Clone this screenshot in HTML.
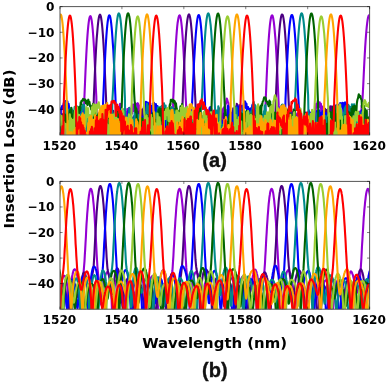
<!DOCTYPE html>
<html lang="en"><head><meta charset="utf-8"><title>Insertion loss spectra</title>
<style>html,body{margin:0;padding:0;background:#fff}svg{display:block}</style></head>
<body>
<svg width="387" height="383" viewBox="0 0 387 383">
<defs>
<clipPath id="ca"><rect x="60.0" y="6.6" width="309.6" height="128.4"/></clipPath>
<clipPath id="cb"><rect x="60.0" y="181.4" width="309.6" height="127.79999999999998"/></clipPath>
</defs>
<rect width="387" height="383" fill="#fff"/>
<g clip-path="url(#ca)" fill="none" stroke-width="2.1" stroke-linejoin="round" stroke-linecap="round">
<path stroke="#9400D3" d="M56.9 118.3 L57.3 108.4 L57.7 139.4 L58.1 118.5 L58.5 117.3 L58.9 128.2 L59.3 117.3 L59.7 119.8 L60.1 142.1 L60.5 133.9 L60.9 147.8 L61.3 128.8 L61.7 126.6 L62.1 138.7 L62.5 126.6 L62.9 117.5 L63.3 120.2 L63.7 130.7 L64.1 124.7 L64.6 135.0 L65.0 114.4 L65.4 125.9 L65.8 117.0 L66.2 117.3 L66.6 147.8 L67.0 127.9 L67.4 147.8 L67.8 135.8 L68.2 145.3 L68.6 115.9 L69.0 121.7 L69.4 122.1 L69.8 141.1 L70.2 144.6 L70.6 124.4 L71.0 129.3 L71.4 143.4 L71.8 122.7 L72.2 120.9 L72.6 132.2 L73.0 144.2 L73.4 147.8 L73.8 119.8 L74.2 123.2 L74.6 116.6 L75.0 119.0 L75.4 112.2 L75.8 140.1 L76.2 124.2 L76.6 126.9 L77.0 115.5 L77.4 131.5 L77.8 132.7 L78.2 131.9 L78.6 124.4 L79.0 134.6 L79.4 137.4 L79.8 122.6 L80.2 115.9 L80.7 135.7 L81.1 122.9 L81.5 124.4 L81.9 115.5 L82.3 117.5 L82.7 147.8 L83.1 127.1 L83.5 112.9 L83.9 118.4 L84.3 99.7 L84.7 90.2 L85.1 80.5 L85.5 71.3 L85.9 62.6 L86.3 54.6 L86.7 47.4 L87.1 40.9 L87.5 35.1 L87.9 30.1 L88.3 25.9 L88.7 22.4 L89.1 19.7 L89.5 17.8 L89.9 16.6 L90.3 16.1 L90.7 16.4 L91.1 17.5 L91.5 19.4 L91.9 22.0 L92.3 25.3 L92.7 29.4 L93.1 34.3 L93.5 39.9 L93.9 46.3 L94.3 53.4 L94.7 61.3 L95.1 69.8 L95.5 79.0 L95.9 88.6 L96.3 96.4 L96.7 114.3 L97.2 115.8 L97.6 124.7 L98.0 121.8 L98.4 116.2 L98.8 128.9 L99.2 138.2 L99.6 135.6 L100.0 147.8 L100.4 117.8 L100.8 118.4 L101.2 124.2 L101.6 116.6 L102.0 119.8 L102.4 147.8 L102.8 128.0 L103.2 119.4 L103.6 123.4 L104.0 147.8 L104.4 122.3 L104.8 135.1 L105.2 147.8 L105.6 142.4 L106.0 143.9 L106.4 147.8 L106.8 125.7 L107.2 130.8 L107.6 146.4 L108.0 129.0 L108.4 147.8 L108.8 117.1 L109.2 120.4 L109.6 117.9 L110.0 129.1 L110.4 120.9 L110.8 147.8 L111.2 130.6 L111.6 147.8 L112.0 147.8 L112.4 141.6 L112.8 144.5 L113.3 132.0 L113.7 126.9 L114.1 125.5 L114.5 121.8 L114.9 147.8 L115.3 128.6 L115.7 121.7 L116.1 136.9 L116.5 121.8 L116.9 126.6 L117.3 145.4 L117.7 113.6 L118.1 120.3 L118.5 108.6 L118.9 112.4 L119.3 111.1 L119.7 107.9 L120.1 103.7 L120.5 105.6 L120.9 117.5 L121.3 116.1 L121.7 111.8 L122.1 111.0 L122.5 138.0 L122.9 132.4 L123.3 147.8 L123.7 122.8 L124.1 147.8 L124.5 116.0 L124.9 117.8 L125.3 114.5 L125.7 115.1 L126.1 117.4 L126.5 111.9 L126.9 127.4 L127.3 109.0 L127.7 113.6 L128.1 110.5 L128.5 116.3 L128.9 108.0 L129.4 112.0 L129.8 131.3 L130.2 116.7 L130.6 109.1 L131.0 118.3 L131.4 110.7 L131.8 105.9 L132.2 113.4 L132.6 104.6 L133.0 110.7 L133.4 111.0 L133.8 106.1 L134.2 104.2 L134.6 107.8 L135.0 102.9 L135.4 103.3 L135.8 107.4 L136.2 105.4 L136.6 105.0 L137.0 120.4 L137.4 103.7 L137.8 103.2 L138.2 103.9 L138.6 108.9 L139.0 105.2 L139.4 114.1 L139.8 125.4 L140.2 114.1 L140.6 109.2 L141.0 112.7 L141.4 116.6 L141.8 119.7 L142.2 119.2 L142.6 133.5 L143.0 122.1 L143.4 113.0 L143.8 108.9 L144.2 109.2 L144.6 109.2 L145.0 116.2 L145.4 108.2 L145.9 122.4 L146.3 113.4 L146.7 115.6 L147.1 124.7 L147.5 109.7 L147.9 124.1 L148.3 114.4 L148.7 127.5 L149.1 140.4 L149.5 124.5 L149.9 121.1 L150.3 142.8 L150.7 129.2 L151.1 124.4 L151.5 128.3 L151.9 132.7 L152.3 122.6 L152.7 139.4 L153.1 147.8 L153.5 131.8 L153.9 120.9 L154.3 145.3 L154.7 121.2 L155.1 117.0 L155.5 115.5 L155.9 113.5 L156.3 117.0 L156.7 118.9 L157.1 114.0 L157.5 132.0 L157.9 126.0 L158.3 121.2 L158.7 127.4 L159.1 142.1 L159.5 124.2 L159.9 127.5 L160.3 119.3 L160.7 121.0 L161.1 147.8 L161.5 125.5 L162.0 119.8 L162.4 139.9 L162.8 109.9 L163.2 129.0 L163.6 133.6 L164.0 112.6 L164.4 128.7 L164.8 140.9 L165.2 146.1 L165.6 131.4 L166.0 118.0 L166.4 119.2 L166.8 147.8 L167.2 147.8 L167.6 147.8 L168.0 136.0 L168.4 147.8 L168.8 119.2 L169.2 142.3 L169.6 126.4 L170.0 132.3 L170.4 121.5 L170.8 147.8 L171.2 133.4 L171.6 126.3 L172.0 123.6 L172.4 110.8 L172.8 124.4 L173.2 99.6 L173.6 90.6 L174.0 81.6 L174.4 72.7 L174.8 64.1 L175.2 56.1 L175.6 48.8 L176.0 42.2 L176.4 36.3 L176.8 31.2 L177.2 26.7 L177.6 23.0 L178.1 20.0 L178.5 17.8 L178.9 16.2 L179.3 15.4 L179.7 15.3 L180.1 16.0 L180.5 17.3 L180.9 19.4 L181.3 22.3 L181.7 25.8 L182.1 30.1 L182.5 35.1 L182.9 40.8 L183.3 47.2 L183.7 54.3 L184.1 62.2 L184.5 70.6 L184.9 79.6 L185.3 88.6 L185.7 98.0 L186.1 104.9 L186.5 110.8 L186.9 134.8 L187.3 121.2 L187.7 141.5 L188.1 123.8 L188.5 125.8 L188.9 115.8 L189.3 142.3 L189.7 122.8 L190.1 116.1 L190.5 131.4 L190.9 121.4 L191.3 116.8 L191.7 136.9 L192.1 120.1 L192.5 130.0 L192.9 120.5 L193.3 144.3 L193.7 147.8 L194.1 147.8 L194.6 132.1 L195.0 147.8 L195.4 144.5 L195.8 127.4 L196.2 126.6 L196.6 124.8 L197.0 147.8 L197.4 147.8 L197.8 144.1 L198.2 114.7 L198.6 124.4 L199.0 141.9 L199.4 121.1 L199.8 112.7 L200.2 116.9 L200.6 116.8 L201.0 114.4 L201.4 117.7 L201.8 143.5 L202.2 132.1 L202.6 123.8 L203.0 144.6 L203.4 147.8 L203.8 126.2 L204.2 133.7 L204.6 124.9 L205.0 122.7 L205.4 133.1 L205.8 121.2 L206.2 134.3 L206.6 121.7 L207.0 126.8 L207.4 131.5 L207.8 120.9 L208.2 132.2 L208.6 115.2 L209.0 113.4 L209.4 108.1 L209.8 113.1 L210.2 126.2 L210.7 129.1 L211.1 110.8 L211.5 132.9 L211.9 131.2 L212.3 142.1 L212.7 147.8 L213.1 131.6 L213.5 128.9 L213.9 143.9 L214.3 133.8 L214.7 118.3 L215.1 129.4 L215.5 118.0 L215.9 128.0 L216.3 119.7 L216.7 117.7 L217.1 117.5 L217.5 112.8 L217.9 138.1 L218.3 121.6 L218.7 117.5 L219.1 119.3 L219.5 125.8 L219.9 118.2 L220.3 114.4 L220.7 121.1 L221.1 119.0 L221.5 131.3 L221.9 109.3 L222.3 116.1 L222.7 113.5 L223.1 117.2 L223.5 108.0 L223.9 108.8 L224.3 107.0 L224.7 107.3 L225.1 110.0 L225.5 102.2 L225.9 103.9 L226.3 101.2 L226.8 98.5 L227.2 99.4 L227.6 100.9 L228.0 102.6 L228.4 103.0 L228.8 109.9 L229.2 107.3 L229.6 108.7 L230.0 115.5 L230.4 122.9 L230.8 114.4 L231.2 125.2 L231.6 120.4 L232.0 118.6 L232.4 134.4 L232.8 112.9 L233.2 112.5 L233.6 126.1 L234.0 119.9 L234.4 147.8 L234.8 123.2 L235.2 138.4 L235.6 119.0 L236.0 111.8 L236.4 126.4 L236.8 114.6 L237.2 117.4 L237.6 147.8 L238.0 117.6 L238.4 117.7 L238.8 119.4 L239.2 146.9 L239.6 114.9 L240.0 125.5 L240.4 122.9 L240.8 126.7 L241.2 140.9 L241.6 131.5 L242.0 147.8 L242.4 143.6 L242.8 127.8 L243.3 127.2 L243.7 122.8 L244.1 127.7 L244.5 135.8 L244.9 147.8 L245.3 113.0 L245.7 133.9 L246.1 117.2 L246.5 146.8 L246.9 137.1 L247.3 126.6 L247.7 134.9 L248.1 147.8 L248.5 126.0 L248.9 147.8 L249.3 134.0 L249.7 147.8 L250.1 139.3 L250.5 125.6 L250.9 119.6 L251.3 130.3 L251.7 130.1 L252.1 111.4 L252.5 128.2 L252.9 115.3 L253.3 119.2 L253.7 108.6 L254.1 144.7 L254.5 114.7 L254.9 120.0 L255.3 132.5 L255.7 119.7 L256.1 116.6 L256.5 118.6 L256.9 146.3 L257.3 125.0 L257.7 125.2 L258.1 147.8 L258.5 126.1 L258.9 147.8 L259.4 132.6 L259.8 127.1 L260.2 147.8 L260.6 147.8 L261.0 147.8 L261.4 128.6 L261.8 119.1 L262.2 118.3 L262.6 121.3 L263.0 136.4 L263.4 147.8 L263.8 120.6 L264.2 119.2 L264.6 117.5 L265.0 124.2 L265.4 109.1 L265.8 97.6 L266.2 88.5 L266.6 79.2 L267.0 70.3 L267.4 62.0 L267.8 54.3 L268.2 47.3 L268.6 41.0 L269.0 35.4 L269.4 30.5 L269.8 26.2 L270.2 22.7 L270.6 19.8 L271.0 17.7 L271.4 16.2 L271.8 15.4 L272.2 15.3 L272.6 15.9 L273.0 17.3 L273.4 19.3 L273.8 21.9 L274.2 25.3 L274.6 29.4 L275.0 34.2 L275.5 39.7 L275.9 45.8 L276.3 52.7 L276.7 60.2 L277.1 68.4 L277.5 77.1 L277.9 86.3 L278.3 95.1 L278.7 105.4 L279.1 109.4 L279.5 120.0 L279.9 112.9 L280.3 110.5 L280.7 119.3 L281.1 108.9 L281.5 147.8 L281.9 128.3 L282.3 126.0 L282.7 125.0 L283.1 126.3 L283.5 147.8 L283.9 146.4 L284.3 130.6 L284.7 144.6 L285.1 124.6 L285.5 133.6 L285.9 131.8 L286.3 138.3 L286.7 129.4 L287.1 122.3 L287.5 124.9 L287.9 125.9 L288.3 136.8 L288.7 121.1 L289.1 118.0 L289.5 132.4 L289.9 133.9 L290.3 127.1 L290.7 110.8 L291.1 107.3 L291.5 114.1 L292.0 118.6 L292.4 112.1 L292.8 123.0 L293.2 147.8 L293.6 124.0 L294.0 124.4 L294.4 135.0 L294.8 133.0 L295.2 135.6 L295.6 120.7 L296.0 119.6 L296.4 116.5 L296.8 118.3 L297.2 113.3 L297.6 124.3 L298.0 117.7 L298.4 115.4 L298.8 122.2 L299.2 119.1 L299.6 115.7 L300.0 126.4 L300.4 147.8 L300.8 119.1 L301.2 147.8 L301.6 129.1 L302.0 127.9 L302.4 133.0 L302.8 147.8 L303.2 145.4 L303.6 122.7 L304.0 147.8 L304.4 147.8 L304.8 115.8 L305.2 147.8 L305.6 128.4 L306.0 121.1 L306.4 147.8 L306.8 126.9 L307.2 135.7 L307.6 118.7 L308.1 127.3 L308.5 120.7 L308.9 110.3 L309.3 113.6 L309.7 113.0 L310.1 119.6 L310.5 117.7 L310.9 118.1 L311.3 145.0 L311.7 121.5 L312.1 147.8 L312.5 147.8 L312.9 128.2 L313.3 120.1 L313.7 120.1 L314.1 113.7 L314.5 112.4 L314.9 133.9 L315.3 109.5 L315.7 111.2 L316.1 103.8 L316.5 103.7 L316.9 107.4 L317.3 105.8 L317.7 101.1 L318.1 105.1 L318.5 102.4 L318.9 106.2 L319.3 105.3 L319.7 102.2 L320.1 107.6 L320.5 105.0 L320.9 103.7 L321.3 112.3 L321.7 106.0 L322.1 106.6 L322.5 114.6 L322.9 107.2 L323.3 107.4 L323.7 112.2 L324.2 115.6 L324.6 113.7 L325.0 118.1 L325.4 115.3 L325.8 120.2 L326.2 139.9 L326.6 115.0 L327.0 114.5 L327.4 116.5 L327.8 111.0 L328.2 118.9 L328.6 128.0 L329.0 124.2 L329.4 135.5 L329.8 130.9 L330.2 125.4 L330.6 127.7 L331.0 122.9 L331.4 128.7 L331.8 120.0 L332.2 112.8 L332.6 128.0 L333.0 130.1 L333.4 129.6 L333.8 108.8 L334.2 124.8 L334.6 119.4 L335.0 112.2 L335.4 115.4 L335.8 117.3 L336.2 113.0 L336.6 122.0 L337.0 120.3 L337.4 121.8 L337.8 128.4 L338.2 117.5 L338.6 118.2 L339.0 120.8 L339.4 123.3 L339.8 147.8 L340.2 134.0 L340.7 119.1 L341.1 138.5 L341.5 138.5 L341.9 147.8 L342.3 116.0 L342.7 130.1 L343.1 120.2 L343.5 147.8 L343.9 107.9 L344.3 126.2 L344.7 110.1 L345.1 118.6 L345.5 116.0 L345.9 120.1 L346.3 116.2 L346.7 118.3 L347.1 121.0 L347.5 119.7 L347.9 145.2 L348.3 127.7 L348.7 140.8 L349.1 135.4 L349.5 126.0 L349.9 128.3 L350.3 120.2 L350.7 137.5 L351.1 129.5 L351.5 120.2 L351.9 122.5 L352.3 125.4 L352.7 128.7 L353.1 130.3 L353.5 147.8 L353.9 121.1 L354.3 136.1 L354.7 130.5 L355.1 123.3 L355.5 138.5 L355.9 142.8 L356.3 147.8 L356.8 120.0 L357.2 147.8 L357.6 122.2 L358.0 116.7 L358.4 147.8 L358.8 140.4 L359.2 119.5 L359.6 125.3 L360.0 111.5 L360.4 118.4 L360.8 122.5 L361.2 136.7 L361.6 105.8 L362.0 110.1 L362.4 100.5 L362.8 93.9 L363.2 86.1 L363.6 77.6 L364.0 69.1 L364.4 61.1 L364.8 53.7 L365.2 46.9 L365.6 40.8 L366.0 35.3 L366.4 30.5 L366.8 26.3 L367.2 22.8 L367.6 20.0 L368.0 17.8 L368.4 16.3 L368.8 15.5 L369.2 15.3 L369.6 15.8 L370.0 16.9 L370.4 18.7 L370.8 21.2 L371.2 24.3 L371.6 28.1 L372.0 32.6 L372.4 37.7"/>
<path stroke="#4B0082" d="M56.9 107.5 L57.3 117.6 L57.7 119.6 L58.1 107.4 L58.5 112.8 L58.9 108.8 L59.3 107.2 L59.7 109.8 L60.1 110.0 L60.5 111.3 L60.9 136.2 L61.3 131.0 L61.7 147.8 L62.1 114.3 L62.5 126.9 L62.9 117.9 L63.3 132.9 L63.7 116.4 L64.1 120.4 L64.6 119.1 L65.0 116.5 L65.4 115.6 L65.8 121.9 L66.2 118.9 L66.6 121.0 L67.0 113.6 L67.4 127.4 L67.8 124.2 L68.2 130.2 L68.6 116.5 L69.0 134.7 L69.4 132.0 L69.8 116.8 L70.2 132.6 L70.6 123.8 L71.0 125.4 L71.4 118.8 L71.8 112.4 L72.2 147.8 L72.6 134.9 L73.0 117.4 L73.4 119.0 L73.8 117.3 L74.2 121.5 L74.6 144.2 L75.0 147.8 L75.4 147.8 L75.8 147.8 L76.2 115.7 L76.6 118.5 L77.0 135.1 L77.4 124.4 L77.8 146.5 L78.2 144.5 L78.6 147.8 L79.0 127.1 L79.4 128.4 L79.8 133.9 L80.2 147.8 L80.7 130.1 L81.1 137.2 L81.5 135.7 L81.9 129.6 L82.3 136.9 L82.7 122.6 L83.1 126.9 L83.5 117.5 L83.9 124.2 L84.3 120.1 L84.7 131.8 L85.1 135.8 L85.5 121.1 L85.9 118.7 L86.3 125.4 L86.7 127.8 L87.1 140.9 L87.5 128.6 L87.9 129.0 L88.3 120.3 L88.7 119.0 L89.1 145.9 L89.5 124.8 L89.9 115.7 L90.3 119.3 L90.7 121.0 L91.1 118.0 L91.5 142.1 L91.9 117.1 L92.3 123.7 L92.7 122.0 L93.1 134.2 L93.5 108.1 L93.9 95.7 L94.3 86.9 L94.7 77.4 L95.1 68.2 L95.5 59.7 L95.9 51.8 L96.3 44.7 L96.7 38.4 L97.2 32.8 L97.6 28.0 L98.0 23.9 L98.4 20.5 L98.8 17.9 L99.2 16.1 L99.6 15.0 L100.0 14.7 L100.4 15.2 L100.8 16.3 L101.2 18.3 L101.6 21.0 L102.0 24.4 L102.4 28.6 L102.8 33.6 L103.2 39.3 L103.6 45.8 L104.0 53.0 L104.4 61.0 L104.8 69.7 L105.2 79.0 L105.6 88.9 L106.0 97.1 L106.4 109.6 L106.8 127.7 L107.2 122.5 L107.6 136.4 L108.0 123.1 L108.4 147.8 L108.8 131.7 L109.2 132.4 L109.6 130.7 L110.0 132.6 L110.4 125.2 L110.8 147.8 L111.2 122.0 L111.6 115.3 L112.0 111.4 L112.4 137.9 L112.8 146.9 L113.3 110.9 L113.7 119.6 L114.1 126.5 L114.5 142.9 L114.9 128.2 L115.3 126.4 L115.7 121.4 L116.1 147.8 L116.5 147.8 L116.9 120.1 L117.3 138.0 L117.7 147.8 L118.1 117.0 L118.5 119.3 L118.9 147.8 L119.3 120.5 L119.7 147.4 L120.1 147.8 L120.5 122.7 L120.9 147.8 L121.3 147.8 L121.7 147.8 L122.1 136.6 L122.5 147.8 L122.9 130.9 L123.3 136.0 L123.7 124.0 L124.1 147.8 L124.5 125.3 L124.9 126.4 L125.3 144.2 L125.7 147.8 L126.1 136.1 L126.5 121.1 L126.9 135.4 L127.3 138.1 L127.7 132.8 L128.1 128.2 L128.5 120.8 L128.9 147.8 L129.4 122.6 L129.8 134.8 L130.2 116.8 L130.6 143.9 L131.0 138.7 L131.4 147.8 L131.8 124.1 L132.2 117.6 L132.6 127.3 L133.0 123.2 L133.4 117.7 L133.8 136.3 L134.2 126.0 L134.6 121.8 L135.0 114.6 L135.4 145.2 L135.8 111.7 L136.2 117.9 L136.6 131.7 L137.0 124.2 L137.4 114.5 L137.8 111.5 L138.2 116.8 L138.6 141.3 L139.0 115.1 L139.4 116.4 L139.8 119.9 L140.2 110.7 L140.6 116.5 L141.0 117.4 L141.4 116.3 L141.8 109.9 L142.2 110.3 L142.6 109.8 L143.0 109.2 L143.4 118.5 L143.8 107.1 L144.2 105.7 L144.6 116.7 L145.0 117.2 L145.4 107.4 L145.9 117.6 L146.3 117.2 L146.7 112.7 L147.1 133.1 L147.5 113.7 L147.9 109.8 L148.3 115.5 L148.7 119.4 L149.1 141.6 L149.5 116.8 L149.9 121.3 L150.3 147.8 L150.7 116.6 L151.1 130.7 L151.5 115.7 L151.9 113.0 L152.3 114.3 L152.7 115.7 L153.1 112.5 L153.5 147.8 L153.9 116.3 L154.3 116.6 L154.7 109.2 L155.1 110.6 L155.5 126.0 L155.9 111.1 L156.3 121.7 L156.7 129.4 L157.1 121.2 L157.5 137.5 L157.9 119.8 L158.3 122.0 L158.7 118.9 L159.1 116.1 L159.5 147.0 L159.9 137.1 L160.3 136.2 L160.7 128.1 L161.1 147.8 L161.5 138.7 L162.0 147.8 L162.4 125.1 L162.8 130.6 L163.2 141.8 L163.6 147.1 L164.0 131.1 L164.4 124.6 L164.8 129.5 L165.2 125.6 L165.6 128.9 L166.0 147.8 L166.4 118.7 L166.8 124.5 L167.2 147.8 L167.6 121.4 L168.0 147.8 L168.4 135.6 L168.8 132.2 L169.2 135.7 L169.6 138.0 L170.0 126.7 L170.4 122.2 L170.8 124.9 L171.2 141.2 L171.6 125.9 L172.0 127.1 L172.4 147.8 L172.8 126.4 L173.2 127.0 L173.6 124.5 L174.0 135.9 L174.4 132.3 L174.8 145.7 L175.2 136.3 L175.6 132.5 L176.0 120.5 L176.4 147.1 L176.8 141.1 L177.2 139.8 L177.6 130.0 L178.1 135.2 L178.5 116.1 L178.9 120.8 L179.3 145.3 L179.7 123.6 L180.1 129.7 L180.5 142.3 L180.9 116.2 L181.3 131.6 L181.7 143.3 L182.1 108.7 L182.5 105.1 L182.9 93.8 L183.3 84.9 L183.7 75.8 L184.1 66.9 L184.5 58.7 L184.9 51.1 L185.3 44.2 L185.7 38.0 L186.1 32.5 L186.5 27.8 L186.9 23.7 L187.3 20.4 L187.7 17.9 L188.1 16.0 L188.5 14.9 L188.9 14.4 L189.3 14.7 L189.7 15.8 L190.1 17.5 L190.5 20.0 L190.9 23.2 L191.3 27.1 L191.7 31.7 L192.1 37.1 L192.5 43.2 L192.9 50.0 L193.3 57.5 L193.7 65.7 L194.1 74.5 L194.6 83.7 L195.0 93.1 L195.4 100.9 L195.8 113.2 L196.2 131.1 L196.6 117.6 L197.0 140.3 L197.4 147.8 L197.8 143.4 L198.2 147.8 L198.6 125.1 L199.0 124.5 L199.4 142.9 L199.8 118.5 L200.2 114.5 L200.6 123.3 L201.0 114.3 L201.4 121.5 L201.8 127.4 L202.2 120.2 L202.6 139.5 L203.0 130.1 L203.4 125.8 L203.8 125.4 L204.2 123.9 L204.6 124.7 L205.0 145.1 L205.4 136.8 L205.8 135.9 L206.2 117.4 L206.6 147.8 L207.0 125.9 L207.4 147.8 L207.8 127.6 L208.2 121.7 L208.6 129.5 L209.0 131.4 L209.4 145.1 L209.8 122.0 L210.2 126.4 L210.7 133.8 L211.1 126.4 L211.5 125.4 L211.9 142.7 L212.3 138.6 L212.7 124.4 L213.1 122.1 L213.5 121.8 L213.9 147.8 L214.3 134.1 L214.7 130.7 L215.1 129.5 L215.5 132.0 L215.9 139.3 L216.3 123.6 L216.7 147.8 L217.1 137.1 L217.5 136.1 L217.9 128.2 L218.3 122.0 L218.7 112.7 L219.1 129.8 L219.5 108.4 L219.9 127.5 L220.3 121.5 L220.7 111.1 L221.1 115.8 L221.5 147.1 L221.9 134.6 L222.3 120.9 L222.7 146.7 L223.1 128.8 L223.5 133.7 L223.9 113.6 L224.3 137.9 L224.7 114.6 L225.1 117.1 L225.5 127.2 L225.9 119.0 L226.3 124.1 L226.8 129.6 L227.2 139.6 L227.6 117.3 L228.0 128.0 L228.4 117.0 L228.8 124.7 L229.2 115.5 L229.6 115.5 L230.0 114.0 L230.4 111.1 L230.8 113.7 L231.2 114.1 L231.6 113.0 L232.0 119.3 L232.4 114.5 L232.8 115.7 L233.2 108.4 L233.6 126.0 L234.0 135.3 L234.4 114.1 L234.8 120.3 L235.2 106.6 L235.6 107.1 L236.0 113.3 L236.4 119.5 L236.8 103.8 L237.2 106.1 L237.6 104.9 L238.0 136.2 L238.4 112.5 L238.8 108.9 L239.2 122.4 L239.6 126.4 L240.0 110.6 L240.4 129.5 L240.8 113.4 L241.2 121.8 L241.6 120.8 L242.0 121.8 L242.4 119.9 L242.8 110.6 L243.3 110.0 L243.7 147.8 L244.1 115.0 L244.5 126.1 L244.9 120.6 L245.3 118.4 L245.7 139.3 L246.1 127.6 L246.5 114.8 L246.9 110.6 L247.3 112.6 L247.7 118.5 L248.1 112.2 L248.5 110.7 L248.9 113.5 L249.3 117.0 L249.7 138.0 L250.1 133.6 L250.5 123.1 L250.9 126.7 L251.3 136.9 L251.7 146.2 L252.1 147.8 L252.5 129.5 L252.9 133.3 L253.3 135.2 L253.7 144.4 L254.1 140.8 L254.5 124.6 L254.9 146.6 L255.3 121.8 L255.7 134.6 L256.1 129.6 L256.5 147.8 L256.9 131.3 L257.3 131.7 L257.7 136.9 L258.1 140.0 L258.5 131.0 L258.9 138.8 L259.4 147.8 L259.8 132.8 L260.2 138.9 L260.6 147.8 L261.0 147.8 L261.4 131.1 L261.8 131.8 L262.2 147.8 L262.6 122.3 L263.0 147.8 L263.4 115.6 L263.8 123.7 L264.2 126.7 L264.6 130.8 L265.0 114.6 L265.4 135.3 L265.8 126.0 L266.2 124.6 L266.6 125.5 L267.0 121.2 L267.4 119.2 L267.8 145.2 L268.2 147.8 L268.6 141.2 L269.0 122.2 L269.4 147.8 L269.8 135.4 L270.2 147.8 L270.6 147.8 L271.0 114.7 L271.4 115.8 L271.8 140.0 L272.2 135.9 L272.6 130.5 L273.0 147.8 L273.4 147.8 L273.8 123.8 L274.2 141.9 L274.6 139.0 L275.0 119.1 L275.5 112.9 L275.9 97.1 L276.3 87.6 L276.7 78.2 L277.1 69.3 L277.5 61.0 L277.9 53.3 L278.3 46.3 L278.7 40.1 L279.1 34.5 L279.5 29.5 L279.9 25.3 L280.3 21.8 L280.7 18.9 L281.1 16.8 L281.5 15.3 L281.9 14.6 L282.3 14.5 L282.7 15.1 L283.1 16.4 L283.5 18.4 L283.9 21.1 L284.3 24.4 L284.7 28.5 L285.1 33.3 L285.5 38.7 L285.9 44.8 L286.3 51.6 L286.7 59.1 L287.1 67.3 L287.5 75.9 L287.9 85.0 L288.3 93.7 L288.7 102.9 L289.1 109.9 L289.5 108.4 L289.9 109.9 L290.3 147.8 L290.7 112.1 L291.1 135.6 L291.5 147.8 L292.0 147.8 L292.4 128.4 L292.8 132.5 L293.2 142.5 L293.6 142.2 L294.0 132.1 L294.4 128.1 L294.8 147.8 L295.2 147.8 L295.6 131.3 L296.0 129.8 L296.4 138.9 L296.8 147.8 L297.2 134.1 L297.6 147.8 L298.0 128.8 L298.4 144.3 L298.8 123.9 L299.2 132.5 L299.6 119.9 L300.0 123.6 L300.4 119.3 L300.8 117.9 L301.2 127.0 L301.6 125.4 L302.0 147.8 L302.4 122.0 L302.8 133.7 L303.2 147.8 L303.6 129.1 L304.0 147.8 L304.4 147.8 L304.8 143.6 L305.2 147.8 L305.6 147.3 L306.0 137.2 L306.4 117.1 L306.8 119.1 L307.2 129.7 L307.6 128.2 L308.1 131.8 L308.5 114.8 L308.9 121.7 L309.3 123.3 L309.7 121.3 L310.1 128.4 L310.5 147.8 L310.9 121.4 L311.3 127.8 L311.7 114.2 L312.1 117.6 L312.5 146.4 L312.9 114.8 L313.3 127.6 L313.7 129.2 L314.1 131.6 L314.5 142.8 L314.9 119.3 L315.3 122.1 L315.7 138.5 L316.1 120.0 L316.5 120.9 L316.9 136.4 L317.3 131.3 L317.7 117.3 L318.1 116.0 L318.5 128.1 L318.9 120.1 L319.3 133.2 L319.7 122.3 L320.1 129.9 L320.5 120.9 L320.9 125.4 L321.3 147.8 L321.7 147.8 L322.1 134.7 L322.5 138.9 L322.9 128.9 L323.3 128.8 L323.7 119.6 L324.2 120.2 L324.6 112.0 L325.0 108.7 L325.4 121.0 L325.8 116.6 L326.2 116.6 L326.6 110.0 L327.0 112.8 L327.4 114.8 L327.8 109.1 L328.2 119.6 L328.6 124.3 L329.0 108.4 L329.4 110.3 L329.8 109.4 L330.2 106.4 L330.6 108.5 L331.0 106.6 L331.4 114.6 L331.8 106.5 L332.2 106.6 L332.6 116.0 L333.0 111.9 L333.4 128.2 L333.8 121.4 L334.2 121.2 L334.6 130.2 L335.0 110.8 L335.4 121.2 L335.8 130.4 L336.2 147.8 L336.6 108.7 L337.0 108.9 L337.4 113.5 L337.8 117.2 L338.2 119.7 L338.6 137.5 L339.0 120.5 L339.4 122.1 L339.8 131.7 L340.2 123.3 L340.7 126.5 L341.1 123.6 L341.5 119.8 L341.9 120.3 L342.3 130.9 L342.7 147.8 L343.1 146.9 L343.5 119.4 L343.9 124.3 L344.3 137.6 L344.7 143.4 L345.1 131.9 L345.5 123.5 L345.9 121.4 L346.3 122.4 L346.7 136.9 L347.1 140.2 L347.5 129.9 L347.9 147.8 L348.3 123.7 L348.7 128.6 L349.1 133.9 L349.5 147.8 L349.9 143.7 L350.3 147.8 L350.7 130.7 L351.1 126.2 L351.5 124.2 L351.9 121.1 L352.3 112.8 L352.7 147.8 L353.1 113.0 L353.5 145.7 L353.9 112.5 L354.3 111.3 L354.7 118.3 L355.1 116.5 L355.5 125.6 L355.9 117.5 L356.3 129.8 L356.8 147.8 L357.2 134.4 L357.6 146.5 L358.0 147.8 L358.4 127.8 L358.8 136.8 L359.2 126.0 L359.6 133.8 L360.0 142.0 L360.4 121.2 L360.8 133.7 L361.2 144.3 L361.6 147.8 L362.0 126.6 L362.4 147.8 L362.8 129.2 L363.2 127.2 L363.6 133.5 L364.0 139.7 L364.4 121.5 L364.8 124.7 L365.2 120.6 L365.6 142.5 L366.0 125.4 L366.4 141.9 L366.8 131.1 L367.2 130.0 L367.6 147.8 L368.0 126.6 L368.4 147.8 L368.8 126.8 L369.2 128.3 L369.6 147.8 L370.0 139.1 L370.4 119.6 L370.8 147.8 L371.2 119.2 L371.6 136.0 L372.0 110.5 L372.4 103.8"/>
<path stroke="#0000FF" d="M56.9 117.3 L57.3 105.0 L57.7 106.3 L58.1 114.4 L58.5 105.1 L58.9 116.4 L59.3 110.6 L59.7 112.5 L60.1 125.6 L60.5 115.9 L60.9 108.4 L61.3 109.8 L61.7 108.4 L62.1 106.0 L62.5 108.9 L62.9 105.5 L63.3 107.2 L63.7 103.1 L64.1 102.6 L64.6 105.8 L65.0 101.4 L65.4 102.6 L65.8 101.1 L66.2 101.9 L66.6 101.6 L67.0 101.6 L67.4 101.3 L67.8 106.9 L68.2 107.7 L68.6 103.7 L69.0 106.5 L69.4 112.3 L69.8 119.7 L70.2 130.8 L70.6 111.7 L71.0 118.6 L71.4 121.7 L71.8 134.7 L72.2 114.6 L72.6 121.6 L73.0 124.2 L73.4 141.1 L73.8 110.8 L74.2 114.2 L74.6 125.4 L75.0 113.3 L75.4 116.0 L75.8 109.5 L76.2 110.8 L76.6 108.9 L77.0 132.8 L77.4 112.1 L77.8 116.6 L78.2 117.3 L78.6 115.6 L79.0 111.4 L79.4 116.6 L79.8 114.7 L80.2 109.4 L80.7 109.7 L81.1 111.3 L81.5 109.4 L81.9 115.7 L82.3 107.3 L82.7 128.4 L83.1 114.2 L83.5 127.0 L83.9 119.2 L84.3 115.5 L84.7 147.8 L85.1 139.6 L85.5 141.1 L85.9 147.8 L86.3 125.6 L86.7 119.6 L87.1 122.1 L87.5 144.2 L87.9 144.4 L88.3 123.1 L88.7 139.7 L89.1 147.7 L89.5 124.1 L89.9 147.8 L90.3 147.8 L90.7 147.8 L91.1 121.9 L91.5 123.7 L91.9 118.6 L92.3 110.8 L92.7 115.2 L93.1 109.7 L93.5 119.5 L93.9 116.6 L94.3 126.1 L94.7 117.9 L95.1 124.8 L95.5 143.5 L95.9 125.2 L96.3 147.8 L96.7 127.4 L97.2 135.1 L97.6 116.9 L98.0 115.1 L98.4 141.1 L98.8 146.8 L99.2 147.8 L99.6 126.1 L100.0 141.1 L100.4 147.8 L100.8 120.7 L101.2 114.2 L101.6 120.1 L102.0 113.5 L102.4 132.0 L102.8 111.0 L103.2 99.6 L103.6 90.8 L104.0 81.6 L104.4 72.5 L104.8 63.8 L105.2 55.7 L105.6 48.3 L106.0 41.7 L106.4 35.8 L106.8 30.6 L107.2 26.2 L107.6 22.5 L108.0 19.6 L108.4 17.4 L108.8 16.0 L109.2 15.3 L109.6 15.4 L110.0 16.3 L110.4 17.8 L110.8 20.2 L111.2 23.3 L111.6 27.1 L112.0 31.7 L112.4 37.1 L112.8 43.1 L113.3 50.0 L113.7 57.6 L114.1 65.9 L114.5 74.9 L114.9 84.5 L115.3 94.0 L115.7 104.4 L116.1 123.3 L116.5 115.6 L116.9 118.8 L117.3 147.8 L117.7 122.6 L118.1 114.2 L118.5 117.5 L118.9 121.7 L119.3 127.6 L119.7 138.1 L120.1 147.8 L120.5 108.2 L120.9 108.2 L121.3 119.1 L121.7 116.4 L122.1 110.0 L122.5 112.8 L122.9 109.4 L123.3 128.6 L123.7 122.1 L124.1 117.1 L124.5 128.3 L124.9 117.3 L125.3 139.6 L125.7 130.9 L126.1 134.8 L126.5 120.4 L126.9 147.8 L127.3 134.5 L127.7 116.1 L128.1 118.3 L128.5 110.6 L128.9 116.9 L129.4 147.8 L129.8 116.0 L130.2 147.5 L130.6 114.7 L131.0 119.6 L131.4 127.4 L131.8 127.8 L132.2 128.4 L132.6 147.8 L133.0 120.3 L133.4 147.8 L133.8 122.7 L134.2 116.1 L134.6 124.5 L135.0 120.1 L135.4 122.3 L135.8 117.1 L136.2 114.4 L136.6 118.1 L137.0 121.2 L137.4 114.4 L137.8 145.1 L138.2 119.8 L138.6 147.8 L139.0 114.4 L139.4 129.2 L139.8 115.1 L140.2 116.2 L140.6 131.8 L141.0 146.3 L141.4 133.3 L141.8 121.1 L142.2 118.0 L142.6 116.8 L143.0 124.3 L143.4 117.4 L143.8 138.6 L144.2 118.8 L144.6 107.8 L145.0 106.2 L145.4 105.9 L145.9 101.8 L146.3 102.7 L146.7 103.1 L147.1 102.5 L147.5 103.5 L147.9 102.7 L148.3 110.3 L148.7 107.9 L149.1 109.2 L149.5 112.9 L149.9 113.1 L150.3 133.6 L150.7 107.4 L151.1 112.0 L151.5 121.0 L151.9 105.7 L152.3 111.4 L152.7 103.6 L153.1 111.5 L153.5 105.2 L153.9 102.7 L154.3 104.5 L154.7 117.2 L155.1 105.4 L155.5 121.2 L155.9 104.0 L156.3 109.4 L156.7 108.2 L157.1 114.6 L157.5 106.1 L157.9 109.0 L158.3 109.9 L158.7 112.4 L159.1 114.2 L159.5 113.1 L159.9 119.9 L160.3 111.7 L160.7 120.2 L161.1 109.3 L161.5 129.5 L162.0 117.0 L162.4 114.1 L162.8 107.5 L163.2 126.8 L163.6 107.3 L164.0 110.7 L164.4 106.6 L164.8 108.8 L165.2 115.3 L165.6 125.0 L166.0 118.3 L166.4 121.3 L166.8 147.8 L167.2 117.9 L167.6 116.8 L168.0 120.8 L168.4 119.9 L168.8 134.7 L169.2 113.1 L169.6 112.8 L170.0 122.7 L170.4 120.6 L170.8 147.8 L171.2 115.7 L171.6 120.7 L172.0 117.4 L172.4 128.5 L172.8 112.8 L173.2 124.7 L173.6 129.0 L174.0 109.2 L174.4 109.0 L174.8 113.8 L175.2 121.2 L175.6 114.9 L176.0 115.0 L176.4 147.8 L176.8 133.4 L177.2 147.8 L177.6 132.7 L178.1 146.1 L178.5 147.8 L178.9 137.1 L179.3 147.8 L179.7 134.4 L180.1 132.8 L180.5 147.8 L180.9 136.5 L181.3 117.6 L181.7 119.6 L182.1 142.2 L182.5 117.9 L182.9 118.7 L183.3 124.7 L183.7 123.2 L184.1 120.7 L184.5 125.0 L184.9 117.4 L185.3 147.8 L185.7 113.6 L186.1 119.8 L186.5 115.9 L186.9 122.2 L187.3 140.3 L187.7 114.8 L188.1 120.5 L188.5 114.6 L188.9 112.4 L189.3 146.2 L189.7 147.8 L190.1 124.9 L190.5 112.2 L190.9 111.1 L191.3 111.5 L191.7 109.0 L192.1 103.3 L192.5 94.1 L192.9 87.0 L193.3 78.1 L193.7 69.2 L194.1 60.9 L194.6 53.2 L195.0 46.1 L195.4 39.8 L195.8 34.2 L196.2 29.3 L196.6 25.1 L197.0 21.7 L197.4 18.9 L197.8 16.9 L198.2 15.6 L198.6 15.0 L199.0 15.2 L199.4 16.0 L199.8 17.6 L200.2 19.9 L200.6 22.9 L201.0 26.6 L201.4 31.1 L201.8 36.3 L202.2 42.1 L202.6 48.7 L203.0 56.0 L203.4 64.0 L203.8 72.7 L204.2 81.9 L204.6 91.4 L205.0 102.4 L205.4 124.2 L205.8 115.0 L206.2 147.8 L206.6 121.1 L207.0 121.7 L207.4 126.0 L207.8 145.1 L208.2 117.1 L208.6 125.8 L209.0 118.6 L209.4 119.6 L209.8 109.9 L210.2 107.1 L210.7 124.1 L211.1 108.1 L211.5 111.0 L211.9 120.5 L212.3 113.5 L212.7 121.7 L213.1 128.1 L213.5 120.7 L213.9 135.8 L214.3 118.6 L214.7 115.2 L215.1 116.1 L215.5 117.8 L215.9 119.9 L216.3 118.0 L216.7 120.1 L217.1 118.9 L217.5 127.0 L217.9 116.6 L218.3 117.1 L218.7 147.8 L219.1 124.5 L219.5 147.8 L219.9 122.8 L220.3 147.8 L220.7 147.8 L221.1 140.4 L221.5 144.4 L221.9 147.8 L222.3 121.4 L222.7 123.5 L223.1 122.4 L223.5 123.2 L223.9 146.0 L224.3 147.8 L224.7 121.4 L225.1 120.4 L225.5 126.1 L225.9 132.4 L226.3 117.7 L226.8 115.3 L227.2 115.1 L227.6 110.7 L228.0 105.8 L228.4 106.5 L228.8 128.6 L229.2 109.6 L229.6 147.8 L230.0 118.5 L230.4 124.7 L230.8 127.1 L231.2 127.2 L231.6 120.3 L232.0 121.8 L232.4 115.3 L232.8 114.7 L233.2 121.5 L233.6 110.1 L234.0 127.2 L234.4 113.8 L234.8 112.9 L235.2 112.1 L235.6 117.5 L236.0 108.4 L236.4 136.0 L236.8 107.7 L237.2 106.2 L237.6 106.4 L238.0 139.0 L238.4 108.2 L238.8 106.5 L239.2 115.1 L239.6 105.2 L240.0 107.5 L240.4 107.1 L240.8 114.6 L241.2 110.7 L241.6 105.9 L242.0 116.0 L242.4 112.1 L242.8 108.3 L243.3 107.8 L243.7 103.8 L244.1 107.5 L244.5 104.7 L244.9 101.4 L245.3 102.2 L245.7 102.8 L246.1 108.3 L246.5 103.7 L246.9 109.3 L247.3 110.6 L247.7 112.5 L248.1 107.1 L248.5 110.9 L248.9 115.3 L249.3 108.9 L249.7 110.6 L250.1 120.2 L250.5 115.2 L250.9 108.4 L251.3 115.6 L251.7 120.0 L252.1 106.2 L252.5 104.5 L252.9 105.1 L253.3 107.6 L253.7 106.4 L254.1 106.7 L254.5 117.5 L254.9 110.4 L255.3 121.5 L255.7 118.5 L256.1 110.9 L256.5 113.5 L256.9 112.7 L257.3 109.5 L257.7 147.8 L258.1 113.4 L258.5 147.8 L258.9 146.1 L259.4 147.8 L259.8 122.4 L260.2 126.2 L260.6 118.6 L261.0 125.3 L261.4 130.3 L261.8 122.4 L262.2 117.1 L262.6 115.7 L263.0 120.6 L263.4 123.2 L263.8 114.0 L264.2 126.3 L264.6 131.0 L265.0 128.3 L265.4 120.5 L265.8 125.8 L266.2 121.7 L266.6 134.6 L267.0 147.8 L267.4 119.5 L267.8 137.5 L268.2 118.5 L268.6 117.0 L269.0 147.8 L269.4 145.2 L269.8 116.3 L270.2 117.2 L270.6 115.7 L271.0 127.4 L271.4 125.7 L271.8 119.8 L272.2 114.2 L272.6 123.6 L273.0 126.4 L273.4 147.8 L273.8 141.1 L274.2 132.5 L274.6 130.6 L275.0 128.5 L275.5 135.8 L275.9 139.5 L276.3 136.5 L276.7 121.1 L277.1 123.8 L277.5 123.1 L277.9 120.5 L278.3 120.1 L278.7 120.2 L279.1 115.8 L279.5 114.7 L279.9 114.4 L280.3 110.2 L280.7 109.6 L281.1 106.4 L281.5 112.2 L281.9 108.0 L282.3 120.6 L282.7 112.4 L283.1 125.0 L283.5 142.0 L283.9 147.8 L284.3 122.4 L284.7 114.2 L285.1 119.7 L285.5 99.4 L285.9 90.0 L286.3 80.6 L286.7 71.6 L287.1 63.2 L287.5 55.4 L287.9 48.3 L288.3 41.9 L288.7 36.1 L289.1 31.1 L289.5 26.7 L289.9 23.1 L290.3 20.1 L290.7 17.8 L291.1 16.2 L291.5 15.2 L292.0 15.0 L292.4 15.5 L292.8 16.6 L293.2 18.4 L293.6 20.9 L294.0 24.1 L294.4 28.0 L294.8 32.6 L295.2 37.8 L295.6 43.8 L296.0 50.4 L296.4 57.7 L296.8 65.6 L297.2 74.1 L297.6 82.9 L298.0 91.4 L298.4 98.8 L298.8 106.1 L299.2 109.0 L299.6 108.5 L300.0 113.5 L300.4 112.7 L300.8 124.1 L301.2 114.9 L301.6 121.5 L302.0 120.6 L302.4 147.8 L302.8 132.1 L303.2 121.8 L303.6 117.5 L304.0 122.5 L304.4 127.8 L304.8 135.2 L305.2 112.6 L305.6 137.1 L306.0 142.0 L306.4 124.7 L306.8 126.8 L307.2 147.8 L307.6 112.5 L308.1 112.6 L308.5 139.5 L308.9 145.4 L309.3 111.8 L309.7 112.4 L310.1 113.3 L310.5 119.1 L310.9 123.3 L311.3 136.4 L311.7 136.9 L312.1 123.6 L312.5 146.6 L312.9 135.7 L313.3 146.3 L313.7 126.0 L314.1 130.3 L314.5 132.0 L314.9 117.7 L315.3 121.3 L315.7 120.4 L316.1 118.8 L316.5 112.5 L316.9 111.1 L317.3 124.2 L317.7 147.8 L318.1 147.8 L318.5 118.7 L318.9 111.0 L319.3 110.4 L319.7 116.5 L320.1 112.9 L320.5 112.9 L320.9 122.1 L321.3 134.9 L321.7 114.2 L322.1 122.2 L322.5 111.4 L322.9 112.8 L323.3 110.7 L323.7 128.2 L324.2 122.3 L324.6 112.8 L325.0 118.9 L325.4 113.2 L325.8 113.1 L326.2 113.4 L326.6 126.2 L327.0 114.3 L327.4 121.9 L327.8 120.6 L328.2 116.5 L328.6 147.8 L329.0 118.3 L329.4 126.7 L329.8 130.2 L330.2 121.1 L330.6 120.4 L331.0 139.5 L331.4 138.2 L331.8 116.8 L332.2 122.9 L332.6 116.1 L333.0 114.9 L333.4 111.1 L333.8 125.2 L334.2 106.8 L334.6 105.0 L335.0 107.8 L335.4 109.6 L335.8 124.0 L336.2 112.5 L336.6 106.6 L337.0 104.8 L337.4 106.7 L337.8 107.2 L338.2 107.7 L338.6 105.8 L339.0 104.6 L339.4 108.5 L339.8 121.4 L340.2 103.1 L340.7 105.2 L341.1 106.6 L341.5 103.8 L341.9 106.1 L342.3 102.7 L342.7 108.8 L343.1 105.1 L343.5 119.1 L343.9 103.0 L344.3 106.1 L344.7 105.7 L345.1 102.4 L345.5 103.1 L345.9 103.3 L346.3 104.6 L346.7 109.1 L347.1 115.0 L347.5 113.9 L347.9 115.7 L348.3 110.2 L348.7 116.6 L349.1 128.0 L349.5 144.1 L349.9 116.0 L350.3 116.5 L350.7 126.6 L351.1 116.6 L351.5 111.4 L351.9 114.7 L352.3 147.8 L352.7 114.4 L353.1 119.0 L353.5 147.8 L353.9 132.5 L354.3 141.7 L354.7 147.8 L355.1 121.1 L355.5 137.2 L355.9 123.1 L356.3 121.0 L356.8 119.5 L357.2 132.9 L357.6 119.1 L358.0 139.6 L358.4 121.6 L358.8 117.0 L359.2 139.4 L359.6 129.4 L360.0 115.6 L360.4 117.1 L360.8 119.5 L361.2 114.9 L361.6 110.2 L362.0 112.1 L362.4 117.3 L362.8 130.3 L363.2 109.4 L363.6 110.6 L364.0 111.3 L364.4 109.9 L364.8 133.2 L365.2 114.6 L365.6 137.8 L366.0 147.8 L366.4 125.6 L366.8 125.9 L367.2 132.4 L367.6 123.0 L368.0 125.4 L368.4 124.4 L368.8 137.5 L369.2 121.2 L369.6 121.8 L370.0 109.7 L370.4 110.8 L370.8 111.4 L371.2 113.7 L371.6 133.9 L372.0 130.8 L372.4 117.5"/>
<path stroke="#008B8B" d="M56.9 136.2 L57.3 114.7 L57.7 113.4 L58.1 145.7 L58.5 122.5 L58.9 121.6 L59.3 117.2 L59.7 116.0 L60.1 147.8 L60.5 118.4 L60.9 145.1 L61.3 130.0 L61.7 128.6 L62.1 125.2 L62.5 130.9 L62.9 147.0 L63.3 122.6 L63.7 120.8 L64.1 110.0 L64.6 107.0 L65.0 109.4 L65.4 113.9 L65.8 103.0 L66.2 107.0 L66.6 105.1 L67.0 112.3 L67.4 109.6 L67.8 109.6 L68.2 116.1 L68.6 111.9 L69.0 127.2 L69.4 110.8 L69.8 136.9 L70.2 120.3 L70.6 108.4 L71.0 112.9 L71.4 114.7 L71.8 109.3 L72.2 112.0 L72.6 114.1 L73.0 134.7 L73.4 113.8 L73.8 128.0 L74.2 111.9 L74.6 107.0 L75.0 109.3 L75.4 109.4 L75.8 131.4 L76.2 110.0 L76.6 109.9 L77.0 109.7 L77.4 106.6 L77.8 109.0 L78.2 109.2 L78.6 117.0 L79.0 137.2 L79.4 121.1 L79.8 114.1 L80.2 135.0 L80.7 123.4 L81.1 146.9 L81.5 114.1 L81.9 113.7 L82.3 106.5 L82.7 106.9 L83.1 104.5 L83.5 106.1 L83.9 105.0 L84.3 107.8 L84.7 108.7 L85.1 120.5 L85.5 116.1 L85.9 120.5 L86.3 117.6 L86.7 128.1 L87.1 139.8 L87.5 123.9 L87.9 115.1 L88.3 129.5 L88.7 126.2 L89.1 115.8 L89.5 139.5 L89.9 142.7 L90.3 116.8 L90.7 147.8 L91.1 118.1 L91.5 127.4 L91.9 127.3 L92.3 132.5 L92.7 110.6 L93.1 111.9 L93.5 116.8 L93.9 112.8 L94.3 111.5 L94.7 111.0 L95.1 113.0 L95.5 114.8 L95.9 115.0 L96.3 142.3 L96.7 138.0 L97.2 143.3 L97.6 147.8 L98.0 127.0 L98.4 126.6 L98.8 138.3 L99.2 129.7 L99.6 138.2 L100.0 118.1 L100.4 120.4 L100.8 117.0 L101.2 115.0 L101.6 129.4 L102.0 118.7 L102.4 131.2 L102.8 147.8 L103.2 147.8 L103.6 129.0 L104.0 139.7 L104.4 140.5 L104.8 117.2 L105.2 118.9 L105.6 116.5 L106.0 146.7 L106.4 114.4 L106.8 111.3 L107.2 122.3 L107.6 136.7 L108.0 147.8 L108.4 147.8 L108.8 143.2 L109.2 131.3 L109.6 125.1 L110.0 119.1 L110.4 111.5 L110.8 108.2 L111.2 106.7 L111.6 115.4 L112.0 118.7 L112.4 99.9 L112.8 93.2 L113.3 84.2 L113.7 74.7 L114.1 65.7 L114.5 57.2 L114.9 49.5 L115.3 42.5 L115.7 36.3 L116.1 30.8 L116.5 26.1 L116.9 22.1 L117.3 18.8 L117.7 16.3 L118.1 14.6 L118.5 13.6 L118.9 13.3 L119.3 13.8 L119.7 15.0 L120.1 17.0 L120.5 19.7 L120.9 23.2 L121.3 27.5 L121.7 32.4 L122.1 38.1 L122.5 44.6 L122.9 51.8 L123.3 59.7 L123.7 68.3 L124.1 77.6 L124.5 87.3 L124.9 97.5 L125.3 126.7 L125.7 122.4 L126.1 147.8 L126.5 135.2 L126.9 147.8 L127.3 130.0 L127.7 116.5 L128.1 147.8 L128.5 125.7 L128.9 116.9 L129.4 107.9 L129.8 140.4 L130.2 119.4 L130.6 135.9 L131.0 113.8 L131.4 145.3 L131.8 138.3 L132.2 147.8 L132.6 118.9 L133.0 139.6 L133.4 147.8 L133.8 127.9 L134.2 134.8 L134.6 114.4 L135.0 110.6 L135.4 111.8 L135.8 106.6 L136.2 112.8 L136.6 122.7 L137.0 129.3 L137.4 115.8 L137.8 123.0 L138.2 115.0 L138.6 147.8 L139.0 147.8 L139.4 130.8 L139.8 147.8 L140.2 118.7 L140.6 147.8 L141.0 125.6 L141.4 141.7 L141.8 147.8 L142.2 123.7 L142.6 142.7 L143.0 129.1 L143.4 122.6 L143.8 142.9 L144.2 145.5 L144.6 129.5 L145.0 127.2 L145.4 120.1 L145.9 112.1 L146.3 117.8 L146.7 109.6 L147.1 103.9 L147.5 107.1 L147.9 105.7 L148.3 113.9 L148.7 112.5 L149.1 122.3 L149.5 118.9 L149.9 119.0 L150.3 115.9 L150.7 123.3 L151.1 132.8 L151.5 116.8 L151.9 128.3 L152.3 132.8 L152.7 117.9 L153.1 114.2 L153.5 115.2 L153.9 118.9 L154.3 119.2 L154.7 119.2 L155.1 127.1 L155.5 112.9 L155.9 116.0 L156.3 117.9 L156.7 133.7 L157.1 112.4 L157.5 125.8 L157.9 107.2 L158.3 109.4 L158.7 123.9 L159.1 124.0 L159.5 107.3 L159.9 114.5 L160.3 117.7 L160.7 106.8 L161.1 108.6 L161.5 116.7 L162.0 105.8 L162.4 112.9 L162.8 105.2 L163.2 108.8 L163.6 105.1 L164.0 103.2 L164.4 117.1 L164.8 105.7 L165.2 106.8 L165.6 105.5 L166.0 116.7 L166.4 119.1 L166.8 119.5 L167.2 125.4 L167.6 116.7 L168.0 111.7 L168.4 135.2 L168.8 140.4 L169.2 135.6 L169.6 129.3 L170.0 113.6 L170.4 123.3 L170.8 113.7 L171.2 108.3 L171.6 107.2 L172.0 114.6 L172.4 113.1 L172.8 108.4 L173.2 116.0 L173.6 123.8 L174.0 121.0 L174.4 110.2 L174.8 122.7 L175.2 114.9 L175.6 115.9 L176.0 105.8 L176.4 110.2 L176.8 111.1 L177.2 116.3 L177.6 131.8 L178.1 128.1 L178.5 147.8 L178.9 147.8 L179.3 142.0 L179.7 132.8 L180.1 140.6 L180.5 147.8 L180.9 122.9 L181.3 120.3 L181.7 120.2 L182.1 147.8 L182.5 127.6 L182.9 129.6 L183.3 111.4 L183.7 125.1 L184.1 114.5 L184.5 147.8 L184.9 117.0 L185.3 147.8 L185.7 121.7 L186.1 121.8 L186.5 141.3 L186.9 119.8 L187.3 142.3 L187.7 115.7 L188.1 142.6 L188.5 122.0 L188.9 126.7 L189.3 110.9 L189.7 112.1 L190.1 115.1 L190.5 119.8 L190.9 123.1 L191.3 147.8 L191.7 134.6 L192.1 140.5 L192.5 125.8 L192.9 120.0 L193.3 147.8 L193.7 144.4 L194.1 122.3 L194.6 126.4 L195.0 147.8 L195.4 120.4 L195.8 119.7 L196.2 147.8 L196.6 123.8 L197.0 121.5 L197.4 123.1 L197.8 121.9 L198.2 140.1 L198.6 119.4 L199.0 114.6 L199.4 108.6 L199.8 130.2 L200.2 104.9 L200.6 114.2 L201.0 104.6 L201.4 106.0 L201.8 99.3 L202.2 92.9 L202.6 84.1 L203.0 74.9 L203.4 66.0 L203.8 57.8 L204.2 50.2 L204.6 43.3 L205.0 37.1 L205.4 31.6 L205.8 26.8 L206.2 22.8 L206.6 19.5 L207.0 16.9 L207.4 15.0 L207.8 13.8 L208.2 13.3 L208.6 13.6 L209.0 14.5 L209.4 16.2 L209.8 18.6 L210.2 21.7 L210.7 25.5 L211.1 30.1 L211.5 35.3 L211.9 41.3 L212.3 47.9 L212.7 55.3 L213.1 63.4 L213.5 72.1 L213.9 81.4 L214.3 91.1 L214.7 101.2 L215.1 110.5 L215.5 122.4 L215.9 119.8 L216.3 115.1 L216.7 110.5 L217.1 118.3 L217.5 131.7 L217.9 127.3 L218.3 106.4 L218.7 113.7 L219.1 133.9 L219.5 124.0 L219.9 126.7 L220.3 122.1 L220.7 123.5 L221.1 135.1 L221.5 130.1 L221.9 147.8 L222.3 124.9 L222.7 134.9 L223.1 132.1 L223.5 135.7 L223.9 128.2 L224.3 124.3 L224.7 142.1 L225.1 125.7 L225.5 120.1 L225.9 139.3 L226.3 147.8 L226.8 118.6 L227.2 121.5 L227.6 120.1 L228.0 147.8 L228.4 122.5 L228.8 127.8 L229.2 117.8 L229.6 116.5 L230.0 129.4 L230.4 127.1 L230.8 133.0 L231.2 145.0 L231.6 147.8 L232.0 141.0 L232.4 147.8 L232.8 145.9 L233.2 126.3 L233.6 147.8 L234.0 147.8 L234.4 125.6 L234.8 145.4 L235.2 117.4 L235.6 116.8 L236.0 111.1 L236.4 107.5 L236.8 112.8 L237.2 125.4 L237.6 147.2 L238.0 125.2 L238.4 136.2 L238.8 122.3 L239.2 122.7 L239.6 127.4 L240.0 115.0 L240.4 136.7 L240.8 108.2 L241.2 115.6 L241.6 115.9 L242.0 115.2 L242.4 111.8 L242.8 115.8 L243.3 129.3 L243.7 120.2 L244.1 132.9 L244.5 147.8 L244.9 147.8 L245.3 121.0 L245.7 112.2 L246.1 125.0 L246.5 112.8 L246.9 116.5 L247.3 117.9 L247.7 110.9 L248.1 136.2 L248.5 112.3 L248.9 120.4 L249.3 121.6 L249.7 115.3 L250.1 118.0 L250.5 141.1 L250.9 128.0 L251.3 111.4 L251.7 115.5 L252.1 116.5 L252.5 107.3 L252.9 105.7 L253.3 102.3 L253.7 101.9 L254.1 106.2 L254.5 104.4 L254.9 105.6 L255.3 105.3 L255.7 108.5 L256.1 109.1 L256.5 111.0 L256.9 120.2 L257.3 108.5 L257.7 115.8 L258.1 108.0 L258.5 120.1 L258.9 113.0 L259.4 122.6 L259.8 111.1 L260.2 111.7 L260.6 147.8 L261.0 134.2 L261.4 115.4 L261.8 122.4 L262.2 114.8 L262.6 119.0 L263.0 126.3 L263.4 116.4 L263.8 111.4 L264.2 123.1 L264.6 106.3 L265.0 106.1 L265.4 105.1 L265.8 112.2 L266.2 113.7 L266.6 129.8 L267.0 113.5 L267.4 147.8 L267.8 124.9 L268.2 146.7 L268.6 117.8 L269.0 121.3 L269.4 117.2 L269.8 122.7 L270.2 127.3 L270.6 113.5 L271.0 117.7 L271.4 111.2 L271.8 135.4 L272.2 117.4 L272.6 126.5 L273.0 122.3 L273.4 131.0 L273.8 142.0 L274.2 132.9 L274.6 147.8 L275.0 132.1 L275.5 128.8 L275.9 137.5 L276.3 147.8 L276.7 144.1 L277.1 147.8 L277.5 124.3 L277.9 132.6 L278.3 127.7 L278.7 147.8 L279.1 147.8 L279.5 123.3 L279.9 129.4 L280.3 122.7 L280.7 114.8 L281.1 109.3 L281.5 115.3 L281.9 104.8 L282.3 117.5 L282.7 104.6 L283.1 112.6 L283.5 108.5 L283.9 130.0 L284.3 147.8 L284.7 121.5 L285.1 147.8 L285.5 128.5 L285.9 126.9 L286.3 147.8 L286.7 123.1 L287.1 147.8 L287.5 122.6 L287.9 139.0 L288.3 120.9 L288.7 111.2 L289.1 113.8 L289.5 110.2 L289.9 124.5 L290.3 140.1 L290.7 116.5 L291.1 114.8 L291.5 121.4 L292.0 115.6 L292.4 131.2 L292.8 117.6 L293.2 138.2 L293.6 117.4 L294.0 129.0 L294.4 118.3 L294.8 117.8 L295.2 98.6 L295.6 90.0 L296.0 80.7 L296.4 71.6 L296.8 63.1 L297.2 55.2 L297.6 48.0 L298.0 41.5 L298.4 35.6 L298.8 30.4 L299.2 25.9 L299.6 22.1 L300.0 19.0 L300.4 16.5 L300.8 14.8 L301.2 13.7 L301.6 13.3 L302.0 13.6 L302.4 14.6 L302.8 16.2 L303.2 18.6 L303.6 21.6 L304.0 25.3 L304.4 29.7 L304.8 34.8 L305.2 40.5 L305.6 46.9 L306.0 54.0 L306.4 61.7 L306.8 69.9 L307.2 78.5 L307.6 87.0 L308.1 94.8 L308.5 114.5 L308.9 115.1 L309.3 147.8 L309.7 114.9 L310.1 147.0 L310.5 144.7 L310.9 117.5 L311.3 124.4 L311.7 140.7 L312.1 135.9 L312.5 137.2 L312.9 123.8 L313.3 135.9 L313.7 129.3 L314.1 127.5 L314.5 123.9 L314.9 126.5 L315.3 122.7 L315.7 123.6 L316.1 140.2 L316.5 125.1 L316.9 125.8 L317.3 113.0 L317.7 147.8 L318.1 111.0 L318.5 138.3 L318.9 121.5 L319.3 118.5 L319.7 131.5 L320.1 123.7 L320.5 127.5 L320.9 134.4 L321.3 128.6 L321.7 126.7 L322.1 125.6 L322.5 126.0 L322.9 118.5 L323.3 118.6 L323.7 133.0 L324.2 115.4 L324.6 117.8 L325.0 115.8 L325.4 121.4 L325.8 123.1 L326.2 116.3 L326.6 124.2 L327.0 133.5 L327.4 147.8 L327.8 118.0 L328.2 114.5 L328.6 129.4 L329.0 117.6 L329.4 114.7 L329.8 147.8 L330.2 116.4 L330.6 125.2 L331.0 144.3 L331.4 147.8 L331.8 114.9 L332.2 119.9 L332.6 120.2 L333.0 115.9 L333.4 144.1 L333.8 119.4 L334.2 110.3 L334.6 109.2 L335.0 111.4 L335.4 112.2 L335.8 106.3 L336.2 125.1 L336.6 112.2 L337.0 114.5 L337.4 115.9 L337.8 136.7 L338.2 139.8 L338.6 132.7 L339.0 127.0 L339.4 147.8 L339.8 147.8 L340.2 133.2 L340.7 123.7 L341.1 124.8 L341.5 118.6 L341.9 120.6 L342.3 114.5 L342.7 119.2 L343.1 132.3 L343.5 130.1 L343.9 112.3 L344.3 127.0 L344.7 108.2 L345.1 118.1 L345.5 107.0 L345.9 106.2 L346.3 108.5 L346.7 112.9 L347.1 105.7 L347.5 105.4 L347.9 108.6 L348.3 104.8 L348.7 106.1 L349.1 106.3 L349.5 109.7 L349.9 118.0 L350.3 107.2 L350.7 108.0 L351.1 106.8 L351.5 113.2 L351.9 104.2 L352.3 106.8 L352.7 107.9 L353.1 104.6 L353.5 108.3 L353.9 108.4 L354.3 104.4 L354.7 109.2 L355.1 124.3 L355.5 112.0 L355.9 113.4 L356.3 116.5 L356.8 147.8 L357.2 121.0 L357.6 119.3 L358.0 129.5 L358.4 122.5 L358.8 122.2 L359.2 112.8 L359.6 122.2 L360.0 130.5 L360.4 117.1 L360.8 120.7 L361.2 124.2 L361.6 122.1 L362.0 112.4 L362.4 115.9 L362.8 147.8 L363.2 131.4 L363.6 141.0 L364.0 139.3 L364.4 124.5 L364.8 146.2 L365.2 119.0 L365.6 127.9 L366.0 131.7 L366.4 141.8 L366.8 145.9 L367.2 124.5 L367.6 144.0 L368.0 147.8 L368.4 147.8 L368.8 130.5 L369.2 147.8 L369.6 117.7 L370.0 119.3 L370.4 111.1 L370.8 122.6 L371.2 109.0 L371.6 109.5 L372.0 108.5 L372.4 111.9"/>
<path stroke="#006400" d="M56.9 141.9 L57.3 127.9 L57.7 147.8 L58.1 122.4 L58.5 147.8 L58.9 121.6 L59.3 137.0 L59.7 131.3 L60.1 130.3 L60.5 129.7 L60.9 123.6 L61.3 147.8 L61.7 139.2 L62.1 147.8 L62.5 131.3 L62.9 127.6 L63.3 114.1 L63.7 143.2 L64.1 113.6 L64.6 118.6 L65.0 114.6 L65.4 116.8 L65.8 127.1 L66.2 121.1 L66.6 116.8 L67.0 128.6 L67.4 132.5 L67.8 130.4 L68.2 125.0 L68.6 119.4 L69.0 117.0 L69.4 112.4 L69.8 110.4 L70.2 120.1 L70.6 116.7 L71.0 124.5 L71.4 107.7 L71.8 132.9 L72.2 142.2 L72.6 121.1 L73.0 137.7 L73.4 114.3 L73.8 127.9 L74.2 111.1 L74.6 126.1 L75.0 116.3 L75.4 119.1 L75.8 108.7 L76.2 131.4 L76.6 110.6 L77.0 108.1 L77.4 115.7 L77.8 114.5 L78.2 107.2 L78.6 117.9 L79.0 113.7 L79.4 108.6 L79.8 106.6 L80.2 110.3 L80.7 102.2 L81.1 104.7 L81.5 100.9 L81.9 101.0 L82.3 100.2 L82.7 100.6 L83.1 98.9 L83.5 100.3 L83.9 99.9 L84.3 99.4 L84.7 100.3 L85.1 99.5 L85.5 100.3 L85.9 103.1 L86.3 100.7 L86.7 103.7 L87.1 104.0 L87.5 105.1 L87.9 100.8 L88.3 99.7 L88.7 101.5 L89.1 103.0 L89.5 101.9 L89.9 105.8 L90.3 106.5 L90.7 105.4 L91.1 109.5 L91.5 106.9 L91.9 107.4 L92.3 108.8 L92.7 110.5 L93.1 103.9 L93.5 104.4 L93.9 106.1 L94.3 123.1 L94.7 107.3 L95.1 113.9 L95.5 115.7 L95.9 118.1 L96.3 115.9 L96.7 128.1 L97.2 137.0 L97.6 133.1 L98.0 115.5 L98.4 113.5 L98.8 141.2 L99.2 122.3 L99.6 121.0 L100.0 118.5 L100.4 131.5 L100.8 115.9 L101.2 147.8 L101.6 132.8 L102.0 147.8 L102.4 127.6 L102.8 121.2 L103.2 140.1 L103.6 129.6 L104.0 147.5 L104.4 139.0 L104.8 119.5 L105.2 136.8 L105.6 114.3 L106.0 147.8 L106.4 120.2 L106.8 123.1 L107.2 147.8 L107.6 113.0 L108.0 130.1 L108.4 116.2 L108.8 127.4 L109.2 147.8 L109.6 130.3 L110.0 123.5 L110.4 136.4 L110.8 127.3 L111.2 116.8 L111.6 115.7 L112.0 147.8 L112.4 136.3 L112.8 129.4 L113.3 128.9 L113.7 147.8 L114.1 147.8 L114.5 118.2 L114.9 132.8 L115.3 140.9 L115.7 118.6 L116.1 115.5 L116.5 121.9 L116.9 116.6 L117.3 110.6 L117.7 110.9 L118.1 108.3 L118.5 115.9 L118.9 114.2 L119.3 117.6 L119.7 136.6 L120.1 147.8 L120.5 120.7 L120.9 147.8 L121.3 131.1 L121.7 106.7 L122.1 95.2 L122.5 84.8 L122.9 75.2 L123.3 66.1 L123.7 57.6 L124.1 49.9 L124.5 42.9 L124.9 36.7 L125.3 31.1 L125.7 26.4 L126.1 22.3 L126.5 19.0 L126.9 16.5 L127.3 14.7 L127.7 13.6 L128.1 13.3 L128.5 13.7 L128.9 14.9 L129.4 16.8 L129.8 19.5 L130.2 22.9 L130.6 27.0 L131.0 31.9 L131.4 37.6 L131.8 43.9 L132.2 51.1 L132.6 58.9 L133.0 67.4 L133.4 76.4 L133.8 85.6 L134.2 93.8 L134.6 100.6 L135.0 105.0 L135.4 111.2 L135.8 112.4 L136.2 108.4 L136.6 109.6 L137.0 147.8 L137.4 147.8 L137.8 119.8 L138.2 121.0 L138.6 133.5 L139.0 127.0 L139.4 147.8 L139.8 121.8 L140.2 147.8 L140.6 147.8 L141.0 124.3 L141.4 122.0 L141.8 118.2 L142.2 132.4 L142.6 130.3 L143.0 118.9 L143.4 119.3 L143.8 132.5 L144.2 146.2 L144.6 124.9 L145.0 115.5 L145.4 144.8 L145.9 120.4 L146.3 127.4 L146.7 116.4 L147.1 147.8 L147.5 115.1 L147.9 121.5 L148.3 131.9 L148.7 124.1 L149.1 126.3 L149.5 123.6 L149.9 133.8 L150.3 147.8 L150.7 127.0 L151.1 126.5 L151.5 140.1 L151.9 130.1 L152.3 123.7 L152.7 113.3 L153.1 114.8 L153.5 120.8 L153.9 114.7 L154.3 121.4 L154.7 133.9 L155.1 135.9 L155.5 119.8 L155.9 141.4 L156.3 131.2 L156.7 123.5 L157.1 126.5 L157.5 130.3 L157.9 147.8 L158.3 112.2 L158.7 109.5 L159.1 121.9 L159.5 108.2 L159.9 110.1 L160.3 108.8 L160.7 110.7 L161.1 114.3 L161.5 123.3 L162.0 109.1 L162.4 114.1 L162.8 113.7 L163.2 113.8 L163.6 126.0 L164.0 119.3 L164.4 110.5 L164.8 109.0 L165.2 118.9 L165.6 110.0 L166.0 112.3 L166.4 112.5 L166.8 109.9 L167.2 114.6 L167.6 116.7 L168.0 115.4 L168.4 139.2 L168.8 111.9 L169.2 111.6 L169.6 105.9 L170.0 104.1 L170.4 105.0 L170.8 99.8 L171.2 101.2 L171.6 99.7 L172.0 100.6 L172.4 99.7 L172.8 100.3 L173.2 102.2 L173.6 100.3 L174.0 102.2 L174.4 103.2 L174.8 101.3 L175.2 105.2 L175.6 109.9 L176.0 103.3 L176.4 107.7 L176.8 108.9 L177.2 123.9 L177.6 110.7 L178.1 113.0 L178.5 118.2 L178.9 110.9 L179.3 121.1 L179.7 130.3 L180.1 111.4 L180.5 106.2 L180.9 106.6 L181.3 110.9 L181.7 106.9 L182.1 104.0 L182.5 108.7 L182.9 108.9 L183.3 113.7 L183.7 115.7 L184.1 123.1 L184.5 117.0 L184.9 119.5 L185.3 122.7 L185.7 125.8 L186.1 118.9 L186.5 127.2 L186.9 125.9 L187.3 114.7 L187.7 110.3 L188.1 110.1 L188.5 111.6 L188.9 117.2 L189.3 147.8 L189.7 117.1 L190.1 120.2 L190.5 133.0 L190.9 125.6 L191.3 123.8 L191.7 145.4 L192.1 131.9 L192.5 122.7 L192.9 147.8 L193.3 134.2 L193.7 147.8 L194.1 143.3 L194.6 120.6 L195.0 127.0 L195.4 131.7 L195.8 147.8 L196.2 126.0 L196.6 116.4 L197.0 120.8 L197.4 118.4 L197.8 129.3 L198.2 112.3 L198.6 115.1 L199.0 110.7 L199.4 117.5 L199.8 106.3 L200.2 104.9 L200.6 119.3 L201.0 113.2 L201.4 147.8 L201.8 115.9 L202.2 147.8 L202.6 124.1 L203.0 133.5 L203.4 147.8 L203.8 119.6 L204.2 117.5 L204.6 117.9 L205.0 126.4 L205.4 147.8 L205.8 118.1 L206.2 111.5 L206.6 111.6 L207.0 114.7 L207.4 124.9 L207.8 147.8 L208.2 121.6 L208.6 147.1 L209.0 144.5 L209.4 124.0 L209.8 120.7 L210.2 126.3 L210.7 139.5 L211.1 130.1 L211.5 107.5 L211.9 96.6 L212.3 86.3 L212.7 76.9 L213.1 67.9 L213.5 59.5 L213.9 51.8 L214.3 44.8 L214.7 38.5 L215.1 32.8 L215.5 27.9 L215.9 23.8 L216.3 20.3 L216.7 17.5 L217.1 15.5 L217.5 14.1 L217.9 13.5 L218.3 13.6 L218.7 14.4 L219.1 15.9 L219.5 18.1 L219.9 21.0 L220.3 24.7 L220.7 29.0 L221.1 34.1 L221.5 39.8 L221.9 46.3 L222.3 53.5 L222.7 61.3 L223.1 69.7 L223.5 78.5 L223.9 87.1 L224.3 94.0 L224.7 103.6 L225.1 116.1 L225.5 109.8 L225.9 121.5 L226.3 132.7 L226.8 123.6 L227.2 121.9 L227.6 130.2 L228.0 131.1 L228.4 121.6 L228.8 122.1 L229.2 117.5 L229.6 115.1 L230.0 124.4 L230.4 119.2 L230.8 147.8 L231.2 139.2 L231.6 147.8 L232.0 132.3 L232.4 126.1 L232.8 147.8 L233.2 147.8 L233.6 147.8 L234.0 147.8 L234.4 147.8 L234.8 133.4 L235.2 128.4 L235.6 137.5 L236.0 118.3 L236.4 138.3 L236.8 145.6 L237.2 135.6 L237.6 134.7 L238.0 142.6 L238.4 147.8 L238.8 147.8 L239.2 130.4 L239.6 135.4 L240.0 114.7 L240.4 117.6 L240.8 113.4 L241.2 113.3 L241.6 122.8 L242.0 133.6 L242.4 114.3 L242.8 119.6 L243.3 128.9 L243.7 114.4 L244.1 119.3 L244.5 123.5 L244.9 118.0 L245.3 128.8 L245.7 147.8 L246.1 115.5 L246.5 111.0 L246.9 113.5 L247.3 115.6 L247.7 130.7 L248.1 114.0 L248.5 118.5 L248.9 122.0 L249.3 147.8 L249.7 145.2 L250.1 114.2 L250.5 114.0 L250.9 117.6 L251.3 124.8 L251.7 115.3 L252.1 127.1 L252.5 124.0 L252.9 110.2 L253.3 114.0 L253.7 121.8 L254.1 127.1 L254.5 132.6 L254.9 147.8 L255.3 116.2 L255.7 124.5 L256.1 115.5 L256.5 118.6 L256.9 130.1 L257.3 115.4 L257.7 125.7 L258.1 108.6 L258.5 122.3 L258.9 107.2 L259.4 117.5 L259.8 112.0 L260.2 108.6 L260.6 105.9 L261.0 117.6 L261.4 108.2 L261.8 104.1 L262.2 105.4 L262.6 102.0 L263.0 101.1 L263.4 100.9 L263.8 98.5 L264.2 97.4 L264.6 97.9 L265.0 98.3 L265.4 97.4 L265.8 98.5 L266.2 101.1 L266.6 101.3 L267.0 101.6 L267.4 103.3 L267.8 104.4 L268.2 102.8 L268.6 106.2 L269.0 102.5 L269.4 100.6 L269.8 102.5 L270.2 101.6 L270.6 110.4 L271.0 104.8 L271.4 106.0 L271.8 108.0 L272.2 116.7 L272.6 113.7 L273.0 115.8 L273.4 115.9 L273.8 120.0 L274.2 124.1 L274.6 124.1 L275.0 112.6 L275.5 130.7 L275.9 113.5 L276.3 129.0 L276.7 113.5 L277.1 129.4 L277.5 112.5 L277.9 128.1 L278.3 147.8 L278.7 114.7 L279.1 116.2 L279.5 115.1 L279.9 123.9 L280.3 113.8 L280.7 147.8 L281.1 119.1 L281.5 136.1 L281.9 132.2 L282.3 126.0 L282.7 119.7 L283.1 139.0 L283.5 119.6 L283.9 147.8 L284.3 143.9 L284.7 129.2 L285.1 130.7 L285.5 126.8 L285.9 126.7 L286.3 118.5 L286.7 127.2 L287.1 114.8 L287.5 121.0 L287.9 110.1 L288.3 115.2 L288.7 108.4 L289.1 121.3 L289.5 131.0 L289.9 129.6 L290.3 113.7 L290.7 139.5 L291.1 147.8 L291.5 125.6 L292.0 116.3 L292.4 126.9 L292.8 124.7 L293.2 119.9 L293.6 109.6 L294.0 117.4 L294.4 110.9 L294.8 110.8 L295.2 115.5 L295.6 147.8 L296.0 125.5 L296.4 119.9 L296.8 126.2 L297.2 127.0 L297.6 147.8 L298.0 121.5 L298.4 126.0 L298.8 126.2 L299.2 134.7 L299.6 125.6 L300.0 134.2 L300.4 134.5 L300.8 146.0 L301.2 147.8 L301.6 143.8 L302.0 147.8 L302.4 135.1 L302.8 137.3 L303.2 140.6 L303.6 129.7 L304.0 138.5 L304.4 110.6 L304.8 98.8 L305.2 90.9 L305.6 82.0 L306.0 73.2 L306.4 64.8 L306.8 56.9 L307.2 49.6 L307.6 42.9 L308.1 36.9 L308.5 31.6 L308.9 27.0 L309.3 23.0 L309.7 19.7 L310.1 17.2 L310.5 15.2 L310.9 14.0 L311.3 13.5 L311.7 13.6 L312.1 14.4 L312.5 15.9 L312.9 18.1 L313.3 20.9 L313.7 24.5 L314.1 28.7 L314.5 33.6 L314.9 39.1 L315.3 45.4 L315.7 52.3 L316.1 59.9 L316.5 68.0 L316.9 76.6 L317.3 85.5 L317.7 94.9 L318.1 104.7 L318.5 144.1 L318.9 135.5 L319.3 121.9 L319.7 133.0 L320.1 122.9 L320.5 122.1 L320.9 147.8 L321.3 120.3 L321.7 123.9 L322.1 122.9 L322.5 140.7 L322.9 128.1 L323.3 122.8 L323.7 128.4 L324.2 145.5 L324.6 127.0 L325.0 120.5 L325.4 147.8 L325.8 130.0 L326.2 147.8 L326.6 131.9 L327.0 123.9 L327.4 130.5 L327.8 145.2 L328.2 129.5 L328.6 117.1 L329.0 145.6 L329.4 123.8 L329.8 126.1 L330.2 115.8 L330.6 112.1 L331.0 113.2 L331.4 113.5 L331.8 115.0 L332.2 123.2 L332.6 122.3 L333.0 108.1 L333.4 106.9 L333.8 108.8 L334.2 109.8 L334.6 105.9 L335.0 112.0 L335.4 123.1 L335.8 113.7 L336.2 115.5 L336.6 118.6 L337.0 138.8 L337.4 122.4 L337.8 126.6 L338.2 128.9 L338.6 147.7 L339.0 138.6 L339.4 136.4 L339.8 120.2 L340.2 118.4 L340.7 124.8 L341.1 113.3 L341.5 130.0 L341.9 132.3 L342.3 120.5 L342.7 131.3 L343.1 120.3 L343.5 129.1 L343.9 136.7 L344.3 120.2 L344.7 119.3 L345.1 115.6 L345.5 134.2 L345.9 126.7 L346.3 122.6 L346.7 147.8 L347.1 135.9 L347.5 132.0 L347.9 119.4 L348.3 128.1 L348.7 112.0 L349.1 121.9 L349.5 112.6 L349.9 114.7 L350.3 134.5 L350.7 116.5 L351.1 129.2 L351.5 108.8 L351.9 113.9 L352.3 142.8 L352.7 106.6 L353.1 111.0 L353.5 112.9 L353.9 111.0 L354.3 105.8 L354.7 109.8 L355.1 108.3 L355.5 106.2 L355.9 110.6 L356.3 113.5 L356.8 103.9 L357.2 101.0 L357.6 99.1 L358.0 98.3 L358.4 96.1 L358.8 94.3 L359.2 95.7 L359.6 96.5 L360.0 97.2 L360.4 95.9 L360.8 98.4 L361.2 99.2 L361.6 99.8 L362.0 107.3 L362.4 106.1 L362.8 107.3 L363.2 123.0 L363.6 106.5 L364.0 105.9 L364.4 108.8 L364.8 112.5 L365.2 109.1 L365.6 110.3 L366.0 147.8 L366.4 113.9 L366.8 110.8 L367.2 145.8 L367.6 147.8 L368.0 118.3 L368.4 119.7 L368.8 123.4 L369.2 117.0 L369.6 120.0 L370.0 115.9 L370.4 110.6 L370.8 113.6 L371.2 116.8 L371.6 140.3 L372.0 113.8 L372.4 118.9"/>
<path stroke="#9ACD32" d="M56.9 89.1 L57.3 97.5 L57.7 103.0 L58.1 106.9 L58.5 120.0 L58.9 106.1 L59.3 116.4 L59.7 125.5 L60.1 114.7 L60.5 116.5 L60.9 117.5 L61.3 120.1 L61.7 116.0 L62.1 118.7 L62.5 146.8 L62.9 125.5 L63.3 141.3 L63.7 147.8 L64.1 122.3 L64.6 125.9 L65.0 126.2 L65.4 124.0 L65.8 127.8 L66.2 128.6 L66.6 147.8 L67.0 131.1 L67.4 123.6 L67.8 139.3 L68.2 134.6 L68.6 141.2 L69.0 120.8 L69.4 123.8 L69.8 114.4 L70.2 121.4 L70.6 147.8 L71.0 118.4 L71.4 124.9 L71.8 119.9 L72.2 140.0 L72.6 121.6 L73.0 121.8 L73.4 119.5 L73.8 141.3 L74.2 126.9 L74.6 115.1 L75.0 110.4 L75.4 111.1 L75.8 105.5 L76.2 107.9 L76.6 109.2 L77.0 107.3 L77.4 113.8 L77.8 141.7 L78.2 120.7 L78.6 122.7 L79.0 114.8 L79.4 117.0 L79.8 123.7 L80.2 138.1 L80.7 136.6 L81.1 143.2 L81.5 147.8 L81.9 147.8 L82.3 123.3 L82.7 142.4 L83.1 130.6 L83.5 139.9 L83.9 125.5 L84.3 147.8 L84.7 114.7 L85.1 127.1 L85.5 124.9 L85.9 119.6 L86.3 107.0 L86.7 107.7 L87.1 109.7 L87.5 110.1 L87.9 117.1 L88.3 108.4 L88.7 127.2 L89.1 119.4 L89.5 115.0 L89.9 145.0 L90.3 116.1 L90.7 123.4 L91.1 147.8 L91.5 114.1 L91.9 107.2 L92.3 114.9 L92.7 115.7 L93.1 107.6 L93.5 104.3 L93.9 113.7 L94.3 106.9 L94.7 105.3 L95.1 105.1 L95.5 104.8 L95.9 108.1 L96.3 113.8 L96.7 109.7 L97.2 104.2 L97.6 105.8 L98.0 103.6 L98.4 107.7 L98.8 102.4 L99.2 107.9 L99.6 105.6 L100.0 109.6 L100.4 113.9 L100.8 111.9 L101.2 113.5 L101.6 117.2 L102.0 130.0 L102.4 113.4 L102.8 119.3 L103.2 110.5 L103.6 134.3 L104.0 121.9 L104.4 106.3 L104.8 129.5 L105.2 113.0 L105.6 110.8 L106.0 135.9 L106.4 118.2 L106.8 147.8 L107.2 124.4 L107.6 125.4 L108.0 147.8 L108.4 130.1 L108.8 127.4 L109.2 147.8 L109.6 119.5 L110.0 145.5 L110.4 121.3 L110.8 121.5 L111.2 136.9 L111.6 145.6 L112.0 126.3 L112.4 147.8 L112.8 114.8 L113.3 121.7 L113.7 147.8 L114.1 117.4 L114.5 113.2 L114.9 114.4 L115.3 117.0 L115.7 111.6 L116.1 112.7 L116.5 143.3 L116.9 147.8 L117.3 118.8 L117.7 127.5 L118.1 147.8 L118.5 123.6 L118.9 147.0 L119.3 126.8 L119.7 131.9 L120.1 144.0 L120.5 147.8 L120.9 116.0 L121.3 121.5 L121.7 114.6 L122.1 109.0 L122.5 108.7 L122.9 110.5 L123.3 111.3 L123.7 126.0 L124.1 118.5 L124.5 125.4 L124.9 128.0 L125.3 147.8 L125.7 147.8 L126.1 147.8 L126.5 127.0 L126.9 134.1 L127.3 118.0 L127.7 125.3 L128.1 131.3 L128.5 134.7 L128.9 114.3 L129.4 117.3 L129.8 147.8 L130.2 117.1 L130.6 123.1 L131.0 130.8 L131.4 115.9 L131.8 95.4 L132.2 86.1 L132.6 76.6 L133.0 67.6 L133.4 59.3 L133.8 51.7 L134.2 44.9 L134.6 38.8 L135.0 33.4 L135.4 28.7 L135.8 24.8 L136.2 21.7 L136.6 19.2 L137.0 17.6 L137.4 16.6 L137.8 16.4 L138.2 17.0 L138.6 18.3 L139.0 20.3 L139.4 23.0 L139.8 26.5 L140.2 30.8 L140.6 35.7 L141.0 41.5 L141.4 47.9 L141.8 55.1 L142.2 62.9 L142.6 71.5 L143.0 80.7 L143.4 90.3 L143.8 101.4 L144.2 113.2 L144.6 115.8 L145.0 123.0 L145.4 120.7 L145.9 147.8 L146.3 147.8 L146.7 115.4 L147.1 121.1 L147.5 128.9 L147.9 126.9 L148.3 118.3 L148.7 120.1 L149.1 123.1 L149.5 120.0 L149.9 129.4 L150.3 117.5 L150.7 116.5 L151.1 114.9 L151.5 130.9 L151.9 117.7 L152.3 140.1 L152.7 143.5 L153.1 126.2 L153.5 134.2 L153.9 137.7 L154.3 129.3 L154.7 142.0 L155.1 123.2 L155.5 127.5 L155.9 142.8 L156.3 123.6 L156.7 147.8 L157.1 126.2 L157.5 113.6 L157.9 117.1 L158.3 123.7 L158.7 130.0 L159.1 121.9 L159.5 117.4 L159.9 121.6 L160.3 147.8 L160.7 126.3 L161.1 126.1 L161.5 143.7 L162.0 147.8 L162.4 127.3 L162.8 147.8 L163.2 124.3 L163.6 132.6 L164.0 114.4 L164.4 111.7 L164.8 115.2 L165.2 118.8 L165.6 119.0 L166.0 109.2 L166.4 109.5 L166.8 111.2 L167.2 115.1 L167.6 112.4 L168.0 107.7 L168.4 120.7 L168.8 120.2 L169.2 121.7 L169.6 110.5 L170.0 112.2 L170.4 126.0 L170.8 114.2 L171.2 123.0 L171.6 134.9 L172.0 131.2 L172.4 129.7 L172.8 131.8 L173.2 128.1 L173.6 147.8 L174.0 122.6 L174.4 121.1 L174.8 114.7 L175.2 115.4 L175.6 140.5 L176.0 118.5 L176.4 110.5 L176.8 116.6 L177.2 122.2 L177.6 110.5 L178.1 115.2 L178.5 118.2 L178.9 113.1 L179.3 121.4 L179.7 117.2 L180.1 114.9 L180.5 114.3 L180.9 107.8 L181.3 119.0 L181.7 110.6 L182.1 105.6 L182.5 112.4 L182.9 128.3 L183.3 116.6 L183.7 107.9 L184.1 116.3 L184.5 109.0 L184.9 109.1 L185.3 110.4 L185.7 108.2 L186.1 115.5 L186.5 119.9 L186.9 109.2 L187.3 106.7 L187.7 113.1 L188.1 120.9 L188.5 129.2 L188.9 111.9 L189.3 115.7 L189.7 125.9 L190.1 115.5 L190.5 122.9 L190.9 111.6 L191.3 123.1 L191.7 112.3 L192.1 114.4 L192.5 112.2 L192.9 117.4 L193.3 108.3 L193.7 110.0 L194.1 107.6 L194.6 133.4 L195.0 117.9 L195.4 114.3 L195.8 143.6 L196.2 132.2 L196.6 139.2 L197.0 130.9 L197.4 147.8 L197.8 131.2 L198.2 121.2 L198.6 122.5 L199.0 131.5 L199.4 131.5 L199.8 147.8 L200.2 147.8 L200.6 123.4 L201.0 134.1 L201.4 125.7 L201.8 147.8 L202.2 147.8 L202.6 128.6 L203.0 128.4 L203.4 113.4 L203.8 112.0 L204.2 114.1 L204.6 112.4 L205.0 119.4 L205.4 110.3 L205.8 130.6 L206.2 111.2 L206.6 115.8 L207.0 128.2 L207.4 118.7 L207.8 147.8 L208.2 147.8 L208.6 119.9 L209.0 126.0 L209.4 129.7 L209.8 137.4 L210.2 130.7 L210.7 112.3 L211.1 115.8 L211.5 112.4 L211.9 134.3 L212.3 128.9 L212.7 114.0 L213.1 128.8 L213.5 132.9 L213.9 123.4 L214.3 133.2 L214.7 145.1 L215.1 147.8 L215.5 147.8 L215.9 147.8 L216.3 131.8 L216.7 121.8 L217.1 130.8 L217.5 129.0 L217.9 122.9 L218.3 126.5 L218.7 142.1 L219.1 147.8 L219.5 147.8 L219.9 121.9 L220.3 124.3 L220.7 110.1 L221.1 103.1 L221.5 92.1 L221.9 83.3 L222.3 74.4 L222.7 65.9 L223.1 58.0 L223.5 50.7 L223.9 44.1 L224.3 38.2 L224.7 33.0 L225.1 28.5 L225.5 24.7 L225.9 21.7 L226.3 19.3 L226.8 17.6 L227.2 16.7 L227.6 16.4 L228.0 16.9 L228.4 18.1 L228.8 19.9 L229.2 22.5 L229.6 25.8 L230.0 29.8 L230.4 34.5 L230.8 40.0 L231.2 46.1 L231.6 52.9 L232.0 60.4 L232.4 68.5 L232.8 77.1 L233.2 85.9 L233.6 94.0 L234.0 101.1 L234.4 107.4 L234.8 130.7 L235.2 116.2 L235.6 115.0 L236.0 147.8 L236.4 119.9 L236.8 119.8 L237.2 128.2 L237.6 147.8 L238.0 136.5 L238.4 136.7 L238.8 117.3 L239.2 129.8 L239.6 122.9 L240.0 121.4 L240.4 124.8 L240.8 123.7 L241.2 121.5 L241.6 132.2 L242.0 136.6 L242.4 145.7 L242.8 147.8 L243.3 147.8 L243.7 139.2 L244.1 141.2 L244.5 130.6 L244.9 132.4 L245.3 123.5 L245.7 123.2 L246.1 141.2 L246.5 119.9 L246.9 112.2 L247.3 120.7 L247.7 113.7 L248.1 111.1 L248.5 113.8 L248.9 140.5 L249.3 147.8 L249.7 147.8 L250.1 115.6 L250.5 147.8 L250.9 114.6 L251.3 115.4 L251.7 133.2 L252.1 117.4 L252.5 116.9 L252.9 120.1 L253.3 121.6 L253.7 134.4 L254.1 147.8 L254.5 134.6 L254.9 128.5 L255.3 122.7 L255.7 119.1 L256.1 122.1 L256.5 125.8 L256.9 111.5 L257.3 106.6 L257.7 107.8 L258.1 104.3 L258.5 123.3 L258.9 115.3 L259.4 119.8 L259.8 147.8 L260.2 115.6 L260.6 125.2 L261.0 119.4 L261.4 147.8 L261.8 119.5 L262.2 144.7 L262.6 147.8 L263.0 139.6 L263.4 118.5 L263.8 134.0 L264.2 147.8 L264.6 123.7 L265.0 115.8 L265.4 121.0 L265.8 133.3 L266.2 120.8 L266.6 119.5 L267.0 112.3 L267.4 121.3 L267.8 114.4 L268.2 112.7 L268.6 118.5 L269.0 138.9 L269.4 111.4 L269.8 121.7 L270.2 107.4 L270.6 110.9 L271.0 106.5 L271.4 110.6 L271.8 105.2 L272.2 112.7 L272.6 106.7 L273.0 123.5 L273.4 101.0 L273.8 101.5 L274.2 98.5 L274.6 96.1 L275.0 95.3 L275.5 96.9 L275.9 98.0 L276.3 98.4 L276.7 102.4 L277.1 109.9 L277.5 110.9 L277.9 114.4 L278.3 108.2 L278.7 115.5 L279.1 113.6 L279.5 124.7 L279.9 119.8 L280.3 133.8 L280.7 118.0 L281.1 111.2 L281.5 128.1 L281.9 121.7 L282.3 121.0 L282.7 118.6 L283.1 128.2 L283.5 117.4 L283.9 115.3 L284.3 113.3 L284.7 132.1 L285.1 112.5 L285.5 116.1 L285.9 122.5 L286.3 136.3 L286.7 111.7 L287.1 112.9 L287.5 124.4 L287.9 130.1 L288.3 137.3 L288.7 130.5 L289.1 144.7 L289.5 134.6 L289.9 125.0 L290.3 125.1 L290.7 147.8 L291.1 124.8 L291.5 134.5 L292.0 120.0 L292.4 138.8 L292.8 116.8 L293.2 135.4 L293.6 122.8 L294.0 112.8 L294.4 112.2 L294.8 126.7 L295.2 147.7 L295.6 122.6 L296.0 124.8 L296.4 118.2 L296.8 136.4 L297.2 127.0 L297.6 136.6 L298.0 131.1 L298.4 123.1 L298.8 120.5 L299.2 118.9 L299.6 114.2 L300.0 113.6 L300.4 108.5 L300.8 110.5 L301.2 112.1 L301.6 134.8 L302.0 136.3 L302.4 119.1 L302.8 146.3 L303.2 118.9 L303.6 116.7 L304.0 119.5 L304.4 124.0 L304.8 131.7 L305.2 133.2 L305.6 123.9 L306.0 147.8 L306.4 128.0 L306.8 137.8 L307.2 147.8 L307.6 130.2 L308.1 137.0 L308.5 146.1 L308.9 132.4 L309.3 146.1 L309.7 121.1 L310.1 140.6 L310.5 137.2 L310.9 113.9 L311.3 115.5 L311.7 128.3 L312.1 109.8 L312.5 114.3 L312.9 131.4 L313.3 138.2 L313.7 115.5 L314.1 126.9 L314.5 107.3 L314.9 100.3 L315.3 90.6 L315.7 81.5 L316.1 72.7 L316.5 64.4 L316.9 56.8 L317.3 49.7 L317.7 43.4 L318.1 37.7 L318.5 32.6 L318.9 28.3 L319.3 24.6 L319.7 21.6 L320.1 19.3 L320.5 17.7 L320.9 16.7 L321.3 16.4 L321.7 16.8 L322.1 17.9 L322.5 19.6 L322.9 22.0 L323.3 25.1 L323.7 28.9 L324.2 33.4 L324.6 38.5 L325.0 44.3 L325.4 50.8 L325.8 57.9 L326.2 65.7 L326.6 74.1 L327.0 82.9 L327.4 91.4 L327.8 97.5 L328.2 106.9 L328.6 115.9 L329.0 113.0 L329.4 147.8 L329.8 118.8 L330.2 128.1 L330.6 142.3 L331.0 131.4 L331.4 147.8 L331.8 147.8 L332.2 147.8 L332.6 127.8 L333.0 130.0 L333.4 124.7 L333.8 128.5 L334.2 129.9 L334.6 147.8 L335.0 122.6 L335.4 138.3 L335.8 139.2 L336.2 147.8 L336.6 147.2 L337.0 139.0 L337.4 128.2 L337.8 147.8 L338.2 115.6 L338.6 127.0 L339.0 106.4 L339.4 108.6 L339.8 104.6 L340.2 104.5 L340.7 118.8 L341.1 109.5 L341.5 118.8 L341.9 116.7 L342.3 128.6 L342.7 140.7 L343.1 126.4 L343.5 147.8 L343.9 137.5 L344.3 147.8 L344.7 130.4 L345.1 116.0 L345.5 126.7 L345.9 146.7 L346.3 139.1 L346.7 147.8 L347.1 115.8 L347.5 131.3 L347.9 124.3 L348.3 147.8 L348.7 135.0 L349.1 124.5 L349.5 136.9 L349.9 129.3 L350.3 147.8 L350.7 130.4 L351.1 120.2 L351.5 134.2 L351.9 118.2 L352.3 119.1 L352.7 135.9 L353.1 126.4 L353.5 116.2 L353.9 123.1 L354.3 147.8 L354.7 125.2 L355.1 125.0 L355.5 113.2 L355.9 111.9 L356.3 113.1 L356.8 119.0 L357.2 120.6 L357.6 117.4 L358.0 111.6 L358.4 118.5 L358.8 125.5 L359.2 147.8 L359.6 147.3 L360.0 120.7 L360.4 125.7 L360.8 127.5 L361.2 117.0 L361.6 139.8 L362.0 121.9 L362.4 135.1 L362.8 113.7 L363.2 109.5 L363.6 102.3 L364.0 103.0 L364.4 100.6 L364.8 100.0 L365.2 101.2 L365.6 101.7 L366.0 105.9 L366.4 104.3 L366.8 104.3 L367.2 106.0 L367.6 106.0 L368.0 105.3 L368.4 107.0 L368.8 102.8 L369.2 105.5 L369.6 104.3 L370.0 108.7 L370.4 106.3 L370.8 104.5 L371.2 106.0 L371.6 119.1 L372.0 119.8 L372.4 124.5"/>
<path stroke="#FFA500" d="M56.9 47.2 L57.3 40.5 L57.7 34.6 L58.1 29.4 L58.5 25.0 L58.9 21.3 L59.3 18.4 L59.7 16.3 L60.1 15.0 L60.5 14.5 L60.9 14.7 L61.3 15.6 L61.7 17.4 L62.1 19.9 L62.5 23.2 L62.9 27.2 L63.3 32.1 L63.7 37.7 L64.1 44.0 L64.6 51.1 L65.0 59.0 L65.4 67.5 L65.8 76.7 L66.2 86.3 L66.6 96.1 L67.0 107.6 L67.4 117.7 L67.8 145.0 L68.2 147.8 L68.6 143.2 L69.0 147.8 L69.4 137.4 L69.8 132.1 L70.2 137.4 L70.6 147.8 L71.0 147.8 L71.4 147.5 L71.8 132.4 L72.2 147.8 L72.6 147.8 L73.0 137.5 L73.4 147.8 L73.8 147.8 L74.2 130.2 L74.6 136.1 L75.0 147.8 L75.4 147.8 L75.8 127.8 L76.2 127.8 L76.6 147.8 L77.0 147.8 L77.4 147.8 L77.8 147.8 L78.2 124.7 L78.6 128.5 L79.0 128.6 L79.4 125.3 L79.8 126.4 L80.2 116.8 L80.7 147.8 L81.1 135.5 L81.5 138.9 L81.9 115.1 L82.3 125.1 L82.7 113.3 L83.1 130.5 L83.5 141.3 L83.9 115.5 L84.3 119.5 L84.7 147.8 L85.1 136.0 L85.5 135.3 L85.9 147.8 L86.3 132.7 L86.7 139.1 L87.1 138.4 L87.5 137.5 L87.9 130.4 L88.3 123.1 L88.7 143.8 L89.1 130.4 L89.5 117.3 L89.9 147.8 L90.3 123.4 L90.7 140.1 L91.1 116.1 L91.5 118.3 L91.9 128.4 L92.3 120.4 L92.7 123.8 L93.1 126.2 L93.5 119.8 L93.9 123.1 L94.3 128.8 L94.7 147.8 L95.1 115.0 L95.5 147.8 L95.9 120.9 L96.3 122.5 L96.7 126.0 L97.2 143.1 L97.6 142.1 L98.0 123.7 L98.4 131.8 L98.8 116.9 L99.2 112.7 L99.6 110.4 L100.0 115.0 L100.4 130.6 L100.8 125.7 L101.2 107.2 L101.6 117.5 L102.0 106.1 L102.4 109.5 L102.8 114.1 L103.2 105.6 L103.6 110.3 L104.0 110.1 L104.4 107.4 L104.8 106.1 L105.2 104.7 L105.6 112.9 L106.0 107.0 L106.4 114.7 L106.8 118.7 L107.2 103.0 L107.6 117.1 L108.0 107.8 L108.4 109.1 L108.8 109.3 L109.2 109.0 L109.6 111.4 L110.0 123.0 L110.4 120.0 L110.8 140.9 L111.2 115.8 L111.6 114.6 L112.0 142.5 L112.4 116.2 L112.8 117.0 L113.3 147.8 L113.7 139.4 L114.1 120.7 L114.5 131.6 L114.9 120.7 L115.3 120.2 L115.7 124.7 L116.1 147.8 L116.5 130.0 L116.9 120.5 L117.3 124.6 L117.7 131.9 L118.1 147.8 L118.5 119.4 L118.9 124.2 L119.3 128.2 L119.7 147.8 L120.1 124.4 L120.5 147.8 L120.9 147.8 L121.3 137.3 L121.7 133.4 L122.1 147.8 L122.5 147.8 L122.9 147.8 L123.3 137.6 L123.7 128.3 L124.1 123.0 L124.5 147.8 L124.9 140.8 L125.3 121.0 L125.7 123.2 L126.1 117.5 L126.5 122.0 L126.9 147.8 L127.3 124.4 L127.7 128.1 L128.1 130.2 L128.5 125.5 L128.9 127.5 L129.4 129.3 L129.8 118.9 L130.2 122.0 L130.6 130.1 L131.0 139.7 L131.4 137.6 L131.8 147.8 L132.2 120.0 L132.6 122.9 L133.0 147.8 L133.4 132.5 L133.8 130.6 L134.2 139.4 L134.6 147.8 L135.0 147.8 L135.4 128.3 L135.8 129.8 L136.2 119.4 L136.6 138.3 L137.0 121.3 L137.4 122.4 L137.8 125.1 L138.2 145.8 L138.6 141.9 L139.0 133.8 L139.4 147.8 L139.8 142.1 L140.2 118.0 L140.6 110.1 L141.0 94.6 L141.4 84.9 L141.8 75.2 L142.2 66.1 L142.6 57.8 L143.0 50.2 L143.4 43.3 L143.8 37.1 L144.2 31.7 L144.6 27.0 L145.0 23.1 L145.4 19.9 L145.9 17.4 L146.3 15.7 L146.7 14.7 L147.1 14.4 L147.5 14.9 L147.9 16.1 L148.3 18.1 L148.7 20.8 L149.1 24.2 L149.5 28.4 L149.9 33.3 L150.3 38.9 L150.7 45.3 L151.1 52.4 L151.5 60.2 L151.9 68.8 L152.3 77.9 L152.7 87.6 L153.1 99.3 L153.5 111.6 L153.9 111.6 L154.3 116.1 L154.7 133.7 L155.1 145.6 L155.5 135.4 L155.9 146.5 L156.3 141.2 L156.7 141.1 L157.1 130.2 L157.5 126.2 L157.9 127.4 L158.3 135.9 L158.7 129.8 L159.1 140.8 L159.5 129.1 L159.9 126.3 L160.3 147.8 L160.7 126.6 L161.1 140.6 L161.5 141.8 L162.0 147.8 L162.4 129.5 L162.8 121.7 L163.2 123.1 L163.6 147.8 L164.0 147.8 L164.4 147.8 L164.8 135.2 L165.2 147.8 L165.6 147.8 L166.0 128.7 L166.4 139.5 L166.8 128.6 L167.2 133.4 L167.6 147.8 L168.0 147.8 L168.4 143.2 L168.8 138.2 L169.2 135.5 L169.6 123.5 L170.0 130.6 L170.4 130.2 L170.8 146.3 L171.2 113.4 L171.6 110.0 L172.0 113.8 L172.4 109.9 L172.8 112.5 L173.2 131.4 L173.6 120.8 L174.0 147.8 L174.4 147.8 L174.8 134.2 L175.2 147.8 L175.6 143.1 L176.0 147.8 L176.4 147.8 L176.8 140.0 L177.2 122.3 L177.6 147.8 L178.1 147.8 L178.5 143.6 L178.9 135.2 L179.3 126.7 L179.7 122.5 L180.1 147.8 L180.5 132.9 L180.9 147.8 L181.3 147.8 L181.7 120.4 L182.1 121.3 L182.5 117.1 L182.9 120.9 L183.3 130.1 L183.7 132.4 L184.1 120.5 L184.5 129.5 L184.9 130.5 L185.3 126.5 L185.7 140.7 L186.1 147.8 L186.5 128.9 L186.9 113.8 L187.3 114.3 L187.7 113.5 L188.1 109.0 L188.5 118.5 L188.9 114.0 L189.3 109.8 L189.7 104.6 L190.1 110.7 L190.5 106.9 L190.9 108.6 L191.3 104.0 L191.7 104.9 L192.1 106.6 L192.5 108.0 L192.9 107.9 L193.3 109.8 L193.7 119.3 L194.1 109.3 L194.6 115.7 L195.0 126.0 L195.4 116.2 L195.8 127.3 L196.2 119.0 L196.6 111.9 L197.0 112.0 L197.4 125.0 L197.8 141.0 L198.2 147.8 L198.6 147.8 L199.0 123.6 L199.4 120.5 L199.8 138.8 L200.2 116.3 L200.6 113.0 L201.0 123.9 L201.4 123.3 L201.8 119.4 L202.2 126.0 L202.6 127.2 L203.0 119.7 L203.4 147.8 L203.8 139.3 L204.2 127.7 L204.6 142.8 L205.0 147.8 L205.4 123.9 L205.8 125.9 L206.2 147.8 L206.6 147.8 L207.0 147.8 L207.4 123.8 L207.8 121.3 L208.2 129.2 L208.6 147.8 L209.0 147.8 L209.4 147.8 L209.8 147.8 L210.2 147.8 L210.7 126.2 L211.1 138.3 L211.5 147.8 L211.9 121.3 L212.3 147.8 L212.7 147.8 L213.1 119.6 L213.5 135.3 L213.9 131.9 L214.3 116.4 L214.7 128.7 L215.1 115.5 L215.5 116.0 L215.9 122.2 L216.3 131.5 L216.7 114.7 L217.1 128.7 L217.5 128.6 L217.9 143.7 L218.3 147.8 L218.7 124.5 L219.1 147.8 L219.5 144.0 L219.9 136.0 L220.3 131.1 L220.7 136.2 L221.1 131.8 L221.5 129.2 L221.9 147.8 L222.3 147.8 L222.7 147.8 L223.1 127.4 L223.5 147.8 L223.9 134.4 L224.3 119.9 L224.7 137.0 L225.1 127.0 L225.5 128.5 L225.9 117.0 L226.3 132.4 L226.8 141.1 L227.2 130.8 L227.6 132.3 L228.0 134.6 L228.4 125.1 L228.8 147.8 L229.2 129.7 L229.6 147.8 L230.0 147.8 L230.4 126.0 L230.8 96.2 L231.2 86.3 L231.6 76.8 L232.0 67.8 L232.4 59.5 L232.8 51.9 L233.2 45.0 L233.6 38.8 L234.0 33.3 L234.4 28.5 L234.8 24.4 L235.2 21.0 L235.6 18.3 L236.0 16.3 L236.4 15.0 L236.8 14.5 L237.2 14.6 L237.6 15.4 L238.0 17.0 L238.4 19.2 L238.8 22.2 L239.2 25.9 L239.6 30.2 L240.0 35.3 L240.4 41.1 L240.8 47.6 L241.2 54.7 L241.6 62.6 L242.0 71.0 L242.4 80.0 L242.8 89.2 L243.3 97.3 L243.7 108.9 L244.1 112.8 L244.5 137.2 L244.9 147.8 L245.3 147.8 L245.7 144.4 L246.1 129.6 L246.5 142.5 L246.9 141.0 L247.3 145.2 L247.7 128.3 L248.1 132.8 L248.5 147.4 L248.9 147.8 L249.3 134.9 L249.7 126.6 L250.1 147.8 L250.5 147.8 L250.9 134.7 L251.3 141.6 L251.7 147.8 L252.1 128.4 L252.5 127.4 L252.9 117.5 L253.3 115.7 L253.7 120.5 L254.1 116.6 L254.5 136.9 L254.9 121.8 L255.3 147.8 L255.7 129.8 L256.1 124.1 L256.5 128.4 L256.9 147.8 L257.3 136.4 L257.7 126.5 L258.1 124.4 L258.5 125.0 L258.9 130.5 L259.4 147.8 L259.8 147.8 L260.2 118.8 L260.6 147.8 L261.0 124.4 L261.4 116.4 L261.8 122.2 L262.2 137.2 L262.6 132.7 L263.0 122.3 L263.4 147.8 L263.8 124.1 L264.2 147.8 L264.6 126.9 L265.0 147.8 L265.4 120.0 L265.8 121.0 L266.2 133.6 L266.6 133.7 L267.0 141.4 L267.4 131.8 L267.8 147.8 L268.2 139.9 L268.6 147.8 L269.0 134.7 L269.4 146.9 L269.8 121.5 L270.2 133.1 L270.6 119.6 L271.0 120.7 L271.4 137.3 L271.8 147.8 L272.2 123.2 L272.6 126.9 L273.0 133.3 L273.4 143.8 L273.8 129.3 L274.2 120.6 L274.6 139.7 L275.0 139.6 L275.5 123.7 L275.9 120.7 L276.3 129.5 L276.7 134.0 L277.1 115.0 L277.5 116.1 L277.9 113.7 L278.3 114.3 L278.7 109.4 L279.1 129.6 L279.5 110.0 L279.9 122.2 L280.3 116.0 L280.7 110.9 L281.1 106.3 L281.5 112.3 L281.9 112.2 L282.3 123.1 L282.7 105.2 L283.1 114.4 L283.5 107.1 L283.9 108.5 L284.3 105.4 L284.7 115.3 L285.1 108.1 L285.5 107.8 L285.9 108.6 L286.3 147.5 L286.7 141.0 L287.1 112.3 L287.5 123.7 L287.9 112.6 L288.3 135.8 L288.7 131.8 L289.1 121.4 L289.5 134.3 L289.9 139.0 L290.3 114.9 L290.7 120.6 L291.1 134.5 L291.5 134.7 L292.0 132.4 L292.4 127.4 L292.8 139.3 L293.2 147.8 L293.6 147.8 L294.0 147.8 L294.4 119.0 L294.8 140.1 L295.2 126.9 L295.6 146.6 L296.0 117.9 L296.4 117.0 L296.8 120.7 L297.2 119.8 L297.6 118.2 L298.0 132.0 L298.4 134.7 L298.8 133.2 L299.2 130.6 L299.6 132.5 L300.0 123.3 L300.4 133.1 L300.8 147.8 L301.2 132.1 L301.6 140.8 L302.0 122.1 L302.4 137.5 L302.8 138.4 L303.2 126.6 L303.6 131.5 L304.0 121.7 L304.4 134.2 L304.8 117.3 L305.2 116.7 L305.6 115.8 L306.0 114.1 L306.4 131.2 L306.8 113.5 L307.2 130.3 L307.6 147.8 L308.1 131.3 L308.5 116.2 L308.9 120.5 L309.3 147.8 L309.7 128.3 L310.1 147.8 L310.5 132.6 L310.9 147.8 L311.3 132.1 L311.7 147.6 L312.1 127.5 L312.5 134.4 L312.9 136.1 L313.3 147.8 L313.7 141.0 L314.1 124.7 L314.5 144.6 L314.9 126.0 L315.3 141.5 L315.7 141.7 L316.1 134.8 L316.5 130.0 L316.9 145.8 L317.3 122.8 L317.7 124.2 L318.1 146.1 L318.5 147.8 L318.9 131.7 L319.3 147.6 L319.7 147.8 L320.1 124.3 L320.5 147.8 L320.9 131.7 L321.3 129.9 L321.7 131.0 L322.1 147.8 L322.5 125.5 L322.9 126.4 L323.3 115.8 L323.7 121.0 L324.2 104.4 L324.6 94.8 L325.0 87.0 L325.4 78.0 L325.8 69.3 L326.2 61.1 L326.6 53.5 L327.0 46.6 L327.4 40.4 L327.8 34.8 L328.2 29.9 L328.6 25.7 L329.0 22.1 L329.4 19.2 L329.8 17.0 L330.2 15.5 L330.6 14.6 L331.0 14.4 L331.4 14.9 L331.8 16.1 L332.2 18.0 L332.6 20.5 L333.0 23.7 L333.4 27.5 L333.8 32.1 L334.2 37.3 L334.6 43.2 L335.0 49.7 L335.4 56.9 L335.8 64.8 L336.2 73.4 L336.6 82.5 L337.0 92.1 L337.4 106.4 L337.8 130.6 L338.2 123.0 L338.6 129.5 L339.0 147.8 L339.4 147.8 L339.8 147.3 L340.2 144.9 L340.7 130.6 L341.1 147.8 L341.5 131.3 L341.9 133.1 L342.3 127.1 L342.7 132.2 L343.1 125.1 L343.5 147.8 L343.9 147.8 L344.3 147.8 L344.7 124.5 L345.1 125.4 L345.5 147.8 L345.9 147.8 L346.3 139.2 L346.7 147.8 L347.1 126.8 L347.5 124.8 L347.9 125.6 L348.3 119.1 L348.7 115.6 L349.1 116.3 L349.5 119.7 L349.9 121.6 L350.3 117.1 L350.7 119.3 L351.1 144.2 L351.5 125.5 L351.9 143.3 L352.3 139.1 L352.7 120.0 L353.1 132.3 L353.5 133.5 L353.9 140.6 L354.3 129.6 L354.7 133.4 L355.1 131.9 L355.5 134.1 L355.9 147.8 L356.3 144.8 L356.8 147.8 L357.2 147.8 L357.6 147.8 L358.0 124.1 L358.4 136.9 L358.8 147.8 L359.2 117.4 L359.6 126.5 L360.0 147.8 L360.4 134.9 L360.8 115.0 L361.2 117.8 L361.6 129.9 L362.0 119.3 L362.4 147.8 L362.8 146.3 L363.2 124.5 L363.6 129.3 L364.0 135.0 L364.4 147.8 L364.8 134.6 L365.2 129.6 L365.6 147.8 L366.0 134.6 L366.4 146.0 L366.8 133.3 L367.2 147.8 L367.6 119.8 L368.0 147.3 L368.4 135.0 L368.8 147.8 L369.2 120.3 L369.6 147.8 L370.0 112.7 L370.4 113.6 L370.8 117.3 L371.2 121.8 L371.6 107.7 L372.0 144.5 L372.4 121.3"/>
<path stroke="#FF0000" d="M56.9 143.8 L57.3 133.0 L57.7 147.8 L58.1 140.6 L58.5 147.8 L58.9 147.8 L59.3 146.5 L59.7 140.8 L60.1 133.8 L60.5 133.7 L60.9 142.4 L61.3 147.8 L61.7 134.4 L62.1 129.6 L62.5 126.0 L62.9 126.8 L63.3 137.1 L63.7 106.5 L64.1 93.5 L64.6 83.2 L65.0 73.5 L65.4 64.5 L65.8 56.2 L66.2 48.7 L66.6 42.0 L67.0 36.0 L67.4 30.8 L67.8 26.4 L68.2 22.7 L68.6 19.8 L69.0 17.6 L69.4 16.2 L69.8 15.6 L70.2 15.7 L70.6 16.7 L71.0 18.3 L71.4 20.8 L71.8 24.0 L72.2 28.0 L72.6 32.7 L73.0 38.2 L73.4 44.5 L73.8 51.5 L74.2 59.3 L74.6 67.9 L75.0 77.2 L75.4 87.2 L75.8 97.7 L76.2 119.7 L76.6 126.6 L77.0 147.8 L77.4 126.9 L77.8 124.6 L78.2 128.8 L78.6 122.1 L79.0 127.2 L79.4 117.0 L79.8 126.7 L80.2 118.3 L80.7 147.8 L81.1 122.3 L81.5 147.8 L81.9 147.8 L82.3 128.4 L82.7 125.2 L83.1 129.8 L83.5 127.5 L83.9 134.6 L84.3 147.8 L84.7 130.8 L85.1 133.4 L85.5 134.9 L85.9 142.2 L86.3 147.8 L86.7 136.8 L87.1 140.9 L87.5 147.8 L87.9 147.8 L88.3 147.8 L88.7 136.8 L89.1 147.8 L89.5 138.5 L89.9 131.6 L90.3 147.8 L90.7 135.2 L91.1 129.1 L91.5 131.7 L91.9 126.7 L92.3 133.2 L92.7 147.8 L93.1 145.9 L93.5 132.0 L93.9 147.8 L94.3 133.8 L94.7 128.4 L95.1 147.8 L95.5 136.5 L95.9 120.2 L96.3 146.1 L96.7 116.7 L97.2 120.2 L97.6 125.4 L98.0 120.7 L98.4 146.4 L98.8 126.6 L99.2 129.2 L99.6 147.8 L100.0 121.4 L100.4 119.2 L100.8 147.8 L101.2 119.2 L101.6 147.8 L102.0 129.9 L102.4 114.1 L102.8 120.6 L103.2 119.8 L103.6 147.8 L104.0 147.8 L104.4 147.8 L104.8 134.4 L105.2 123.6 L105.6 109.9 L106.0 135.2 L106.4 123.3 L106.8 116.3 L107.2 113.2 L107.6 105.2 L108.0 109.9 L108.4 105.9 L108.8 106.2 L109.2 108.8 L109.6 108.9 L110.0 107.0 L110.4 104.9 L110.8 112.7 L111.2 104.7 L111.6 101.5 L112.0 101.4 L112.4 101.6 L112.8 102.2 L113.3 100.8 L113.7 102.0 L114.1 101.0 L114.5 103.5 L114.9 103.6 L115.3 102.5 L115.7 112.7 L116.1 116.0 L116.5 106.5 L116.9 105.3 L117.3 104.6 L117.7 110.0 L118.1 107.3 L118.5 106.9 L118.9 108.9 L119.3 112.8 L119.7 110.7 L120.1 120.0 L120.5 112.2 L120.9 111.2 L121.3 131.2 L121.7 113.3 L122.1 122.2 L122.5 134.9 L122.9 130.6 L123.3 129.8 L123.7 116.4 L124.1 126.3 L124.5 127.1 L124.9 121.6 L125.3 130.1 L125.7 147.8 L126.1 147.8 L126.5 127.1 L126.9 147.8 L127.3 147.8 L127.7 125.8 L128.1 139.4 L128.5 147.8 L128.9 130.5 L129.4 134.0 L129.8 147.8 L130.2 131.3 L130.6 140.2 L131.0 125.0 L131.4 147.8 L131.8 126.5 L132.2 141.7 L132.6 147.8 L133.0 138.2 L133.4 133.4 L133.8 135.7 L134.2 137.9 L134.6 141.0 L135.0 128.2 L135.4 135.7 L135.8 144.2 L136.2 128.2 L136.6 147.8 L137.0 147.8 L137.4 141.7 L137.8 135.3 L138.2 141.0 L138.6 147.8 L139.0 147.8 L139.4 147.8 L139.8 134.6 L140.2 147.8 L140.6 131.8 L141.0 131.8 L141.4 134.9 L141.8 130.2 L142.2 127.2 L142.6 137.1 L143.0 121.7 L143.4 147.8 L143.8 130.4 L144.2 127.0 L144.6 121.9 L145.0 120.1 L145.4 139.3 L145.9 147.8 L146.3 135.8 L146.7 147.8 L147.1 135.6 L147.5 132.1 L147.9 125.3 L148.3 130.2 L148.7 147.8 L149.1 125.2 L149.5 128.6 L149.9 107.0 L150.3 96.2 L150.7 86.4 L151.1 76.7 L151.5 67.7 L151.9 59.3 L152.3 51.7 L152.7 44.8 L153.1 38.6 L153.5 33.1 L153.9 28.4 L154.3 24.5 L154.7 21.2 L155.1 18.7 L155.5 16.9 L155.9 15.9 L156.3 15.6 L156.7 16.0 L157.1 17.1 L157.5 19.0 L157.9 21.7 L158.3 25.0 L158.7 29.1 L159.1 33.9 L159.5 39.5 L159.9 45.8 L160.3 52.8 L160.7 60.5 L161.1 68.9 L161.5 78.0 L162.0 87.6 L162.4 99.2 L162.8 112.0 L163.2 142.5 L163.6 131.6 L164.0 147.8 L164.4 139.5 L164.8 147.8 L165.2 147.8 L165.6 147.8 L166.0 131.1 L166.4 130.4 L166.8 126.9 L167.2 147.8 L167.6 126.4 L168.0 130.4 L168.4 129.3 L168.8 134.0 L169.2 131.0 L169.6 136.1 L170.0 123.0 L170.4 123.6 L170.8 147.5 L171.2 130.9 L171.6 121.0 L172.0 126.5 L172.4 141.3 L172.8 123.3 L173.2 128.9 L173.6 143.5 L174.0 134.3 L174.4 139.9 L174.8 137.8 L175.2 135.1 L175.6 147.8 L176.0 147.8 L176.4 137.0 L176.8 143.9 L177.2 137.1 L177.6 133.6 L178.1 130.4 L178.5 136.5 L178.9 130.6 L179.3 129.8 L179.7 127.0 L180.1 147.8 L180.5 147.8 L180.9 128.7 L181.3 147.8 L181.7 133.9 L182.1 142.6 L182.5 147.8 L182.9 132.4 L183.3 138.0 L183.7 147.8 L184.1 147.8 L184.5 119.4 L184.9 140.7 L185.3 147.8 L185.7 133.1 L186.1 147.8 L186.5 147.8 L186.9 120.9 L187.3 122.3 L187.7 147.8 L188.1 118.8 L188.5 134.8 L188.9 147.1 L189.3 134.0 L189.7 129.9 L190.1 118.3 L190.5 116.6 L190.9 116.5 L191.3 147.8 L191.7 129.0 L192.1 137.1 L192.5 124.0 L192.9 128.7 L193.3 147.8 L193.7 124.6 L194.1 147.8 L194.6 110.7 L195.0 140.6 L195.4 119.9 L195.8 108.5 L196.2 112.7 L196.6 107.9 L197.0 118.1 L197.4 104.6 L197.8 111.3 L198.2 107.7 L198.6 104.5 L199.0 104.2 L199.4 104.6 L199.8 106.6 L200.2 102.5 L200.6 100.8 L201.0 100.9 L201.4 102.2 L201.8 99.2 L202.2 104.8 L202.6 101.7 L203.0 109.3 L203.4 107.4 L203.8 102.8 L204.2 107.4 L204.6 105.7 L205.0 108.0 L205.4 107.2 L205.8 107.7 L206.2 111.1 L206.6 114.3 L207.0 109.7 L207.4 113.7 L207.8 112.2 L208.2 112.3 L208.6 110.9 L209.0 127.8 L209.4 114.5 L209.8 127.1 L210.2 114.4 L210.7 129.1 L211.1 126.0 L211.5 142.7 L211.9 116.1 L212.3 134.0 L212.7 119.1 L213.1 113.3 L213.5 111.9 L213.9 110.6 L214.3 119.3 L214.7 126.7 L215.1 147.3 L215.5 129.6 L215.9 118.6 L216.3 147.8 L216.7 124.1 L217.1 147.8 L217.5 147.8 L217.9 147.8 L218.3 147.8 L218.7 137.7 L219.1 133.3 L219.5 142.5 L219.9 144.5 L220.3 135.2 L220.7 147.8 L221.1 146.7 L221.5 147.8 L221.9 147.8 L222.3 134.2 L222.7 129.5 L223.1 130.2 L223.5 147.8 L223.9 128.7 L224.3 147.8 L224.7 137.9 L225.1 125.5 L225.5 120.4 L225.9 130.0 L226.3 141.7 L226.8 137.9 L227.2 128.7 L227.6 142.9 L228.0 137.1 L228.4 147.8 L228.8 131.2 L229.2 147.8 L229.6 129.9 L230.0 141.5 L230.4 128.9 L230.8 132.6 L231.2 137.0 L231.6 125.3 L232.0 122.8 L232.4 147.8 L232.8 132.0 L233.2 127.0 L233.6 147.2 L234.0 147.8 L234.4 136.6 L234.8 147.8 L235.2 147.8 L235.6 132.7 L236.0 147.8 L236.4 132.6 L236.8 131.0 L237.2 147.8 L237.6 135.0 L238.0 133.2 L238.4 146.9 L238.8 147.8 L239.2 125.9 L239.6 147.8 L240.0 119.2 L240.4 107.6 L240.8 96.5 L241.2 87.0 L241.6 77.6 L242.0 68.7 L242.4 60.4 L242.8 52.8 L243.3 46.0 L243.7 39.8 L244.1 34.3 L244.5 29.5 L244.9 25.5 L245.3 22.1 L245.7 19.4 L246.1 17.4 L246.5 16.2 L246.9 15.6 L247.3 15.7 L247.7 16.6 L248.1 18.1 L248.5 20.3 L248.9 23.3 L249.3 26.9 L249.7 31.3 L250.1 36.3 L250.5 42.1 L250.9 48.5 L251.3 55.7 L251.7 63.5 L252.1 72.0 L252.5 81.1 L252.9 90.6 L253.3 100.7 L253.7 119.1 L254.1 147.8 L254.5 147.8 L254.9 121.1 L255.3 147.8 L255.7 147.8 L256.1 147.8 L256.5 128.0 L256.9 130.7 L257.3 139.5 L257.7 139.1 L258.1 147.8 L258.5 134.0 L258.9 127.0 L259.4 140.8 L259.8 146.5 L260.2 133.2 L260.6 131.3 L261.0 147.8 L261.4 143.7 L261.8 137.4 L262.2 132.1 L262.6 147.8 L263.0 147.8 L263.4 147.8 L263.8 141.2 L264.2 147.8 L264.6 143.8 L265.0 136.7 L265.4 134.1 L265.8 131.4 L266.2 139.1 L266.6 136.6 L267.0 147.8 L267.4 124.4 L267.8 123.4 L268.2 123.8 L268.6 147.8 L269.0 130.6 L269.4 131.0 L269.8 133.4 L270.2 135.6 L270.6 139.2 L271.0 128.9 L271.4 146.4 L271.8 127.0 L272.2 147.8 L272.6 147.8 L273.0 134.2 L273.4 142.1 L273.8 127.4 L274.2 130.8 L274.6 147.8 L275.0 132.7 L275.5 147.8 L275.9 147.8 L276.3 127.9 L276.7 145.1 L277.1 117.2 L277.5 112.5 L277.9 142.3 L278.3 116.1 L278.7 117.1 L279.1 119.7 L279.5 121.8 L279.9 118.1 L280.3 120.5 L280.7 119.5 L281.1 125.4 L281.5 124.5 L281.9 124.9 L282.3 127.4 L282.7 126.3 L283.1 117.0 L283.5 147.8 L283.9 115.5 L284.3 139.6 L284.7 125.5 L285.1 147.8 L285.5 123.6 L285.9 125.2 L286.3 127.2 L286.7 136.0 L287.1 114.7 L287.5 119.0 L287.9 111.5 L288.3 116.4 L288.7 108.6 L289.1 110.7 L289.5 106.2 L289.9 108.8 L290.3 111.1 L290.7 107.0 L291.1 110.7 L291.5 102.1 L292.0 103.4 L292.4 102.2 L292.8 101.0 L293.2 100.6 L293.6 100.9 L294.0 101.0 L294.4 100.1 L294.8 100.0 L295.2 98.4 L295.6 99.8 L296.0 99.5 L296.4 100.8 L296.8 110.1 L297.2 107.3 L297.6 104.5 L298.0 105.8 L298.4 115.3 L298.8 109.4 L299.2 112.3 L299.6 142.5 L300.0 110.3 L300.4 133.7 L300.8 147.8 L301.2 113.5 L301.6 135.1 L302.0 146.9 L302.4 134.4 L302.8 119.9 L303.2 124.0 L303.6 119.1 L304.0 116.3 L304.4 116.2 L304.8 119.2 L305.2 124.7 L305.6 121.7 L306.0 119.7 L306.4 118.4 L306.8 112.5 L307.2 126.7 L307.6 119.5 L308.1 147.8 L308.5 127.6 L308.9 126.6 L309.3 147.2 L309.7 140.6 L310.1 123.5 L310.5 127.8 L310.9 138.2 L311.3 147.8 L311.7 147.8 L312.1 129.5 L312.5 130.5 L312.9 121.1 L313.3 123.5 L313.7 147.8 L314.1 147.6 L314.5 147.8 L314.9 137.1 L315.3 135.9 L315.7 122.9 L316.1 147.8 L316.5 135.7 L316.9 125.9 L317.3 147.8 L317.7 147.5 L318.1 123.0 L318.5 147.8 L318.9 147.8 L319.3 122.7 L319.7 117.8 L320.1 133.8 L320.5 119.2 L320.9 122.8 L321.3 116.5 L321.7 118.1 L322.1 147.8 L322.5 125.9 L322.9 134.5 L323.3 147.8 L323.7 131.9 L324.2 129.7 L324.6 120.4 L325.0 137.9 L325.4 147.8 L325.8 144.9 L326.2 147.8 L326.6 147.4 L327.0 145.6 L327.4 144.8 L327.8 147.8 L328.2 145.9 L328.6 144.2 L329.0 138.4 L329.4 135.0 L329.8 136.8 L330.2 147.8 L330.6 147.8 L331.0 121.0 L331.4 120.3 L331.8 124.5 L332.2 135.2 L332.6 122.8 L333.0 130.9 L333.4 129.1 L333.8 119.3 L334.2 99.7 L334.6 90.7 L335.0 81.2 L335.4 72.2 L335.8 63.9 L336.2 56.2 L336.6 49.1 L337.0 42.8 L337.4 37.1 L337.8 32.0 L338.2 27.6 L338.6 24.0 L339.0 20.9 L339.4 18.6 L339.8 16.9 L340.2 15.9 L340.7 15.6 L341.1 15.9 L341.5 16.9 L341.9 18.6 L342.3 20.9 L342.7 24.0 L343.1 27.6 L343.5 32.0 L343.9 37.0 L344.3 42.8 L344.7 49.1 L345.1 56.2 L345.5 63.9 L345.9 72.2 L346.3 81.1 L346.7 90.5 L347.1 100.6 L347.5 123.7 L347.9 113.9 L348.3 129.1 L348.7 147.8 L349.1 117.6 L349.5 136.1 L349.9 142.4 L350.3 147.8 L350.7 124.7 L351.1 147.8 L351.5 147.8 L351.9 140.1 L352.3 147.8 L352.7 145.9 L353.1 136.7 L353.5 133.3 L353.9 133.7 L354.3 146.3 L354.7 144.8 L355.1 128.2 L355.5 132.0 L355.9 132.2 L356.3 143.2 L356.8 124.4 L357.2 138.7 L357.6 144.6 L358.0 147.8 L358.4 147.8 L358.8 139.1 L359.2 115.8 L359.6 147.8 L360.0 120.6 L360.4 128.8 L360.8 136.4 L361.2 117.2 L361.6 129.3 L362.0 135.4 L362.4 141.6 L362.8 147.8 L363.2 125.9 L363.6 147.8 L364.0 134.2 L364.4 125.5 L364.8 145.3 L365.2 147.8 L365.6 119.7 L366.0 121.1 L366.4 130.0 L366.8 140.7 L367.2 138.7 L367.6 135.9 L368.0 124.3 L368.4 143.6 L368.8 122.7 L369.2 128.9 L369.6 126.0 L370.0 126.7 L370.4 147.8 L370.8 137.7 L371.2 136.0 L371.6 145.4 L372.0 138.9 L372.4 147.8"/>
</g>
<rect x="60.0" y="6.6" width="309.6" height="128.4" fill="none" stroke="#555" stroke-width="1"/>
<path d="M60.00 6.6 v2.6 M60.00 135.0 v-2.6 M121.92 6.6 v2.6 M121.92 135.0 v-2.6 M183.84 6.6 v2.6 M183.84 135.0 v-2.6 M245.76 6.6 v2.6 M245.76 135.0 v-2.6 M307.68 6.6 v2.6 M307.68 135.0 v-2.6 M369.60 6.6 v2.6 M369.60 135.0 v-2.6 M60.0 6.60 h2.6 M369.6 6.60 h-2.6 M60.0 32.28 h2.6 M369.6 32.28 h-2.6 M60.0 57.96 h2.6 M369.6 57.96 h-2.6 M60.0 83.64 h2.6 M369.6 83.64 h-2.6 M60.0 109.32 h2.6 M369.6 109.32 h-2.6" stroke="#000" stroke-width="0.5" fill="none"/>
<g font-family="'DejaVu Sans', 'Liberation Sans', sans-serif" font-weight="bold" font-size="12.1" fill="#000">
<text x="59.4" y="149.5" text-anchor="middle">1520</text>
<text x="121.3" y="149.5" text-anchor="middle">1540</text>
<text x="183.2" y="149.5" text-anchor="middle">1560</text>
<text x="245.2" y="149.5" text-anchor="middle">1580</text>
<text x="307.1" y="149.5" text-anchor="middle">1600</text>
<text x="369.0" y="149.5" text-anchor="middle">1620</text>
<text x="54.5" y="11.0" text-anchor="end">0</text>
<text x="54.5" y="36.7" text-anchor="end">−10</text>
<text x="54.5" y="62.4" text-anchor="end">−20</text>
<text x="54.5" y="88.0" text-anchor="end">−30</text>
<text x="54.5" y="113.7" text-anchor="end">−40</text>
</g>
<g clip-path="url(#cb)" fill="none" stroke-width="2.1" stroke-linejoin="round" stroke-linecap="round">
<path stroke="#9400D3" d="M56.9 294.7 L57.2 298.3 L57.6 302.4 L57.9 306.5 L58.3 309.5 L58.6 309.8 L58.9 307.1 L59.3 302.9 L59.6 298.6 L60.0 294.6 L60.3 291.2 L60.7 288.2 L61.0 285.7 L61.3 283.5 L61.7 281.6 L62.0 280.1 L62.4 278.8 L62.7 277.7 L63.0 276.9 L63.4 276.4 L63.7 276.0 L64.1 275.8 L64.4 275.7 L64.7 275.9 L65.1 276.3 L65.4 277.0 L65.8 277.9 L66.1 279.2 L66.4 280.8 L66.8 282.9 L67.1 285.5 L67.5 288.7 L67.8 292.8 L68.1 298.0 L68.5 304.7 L68.8 312.8 L69.2 317.8 L69.5 312.3 L69.8 303.9 L70.2 296.9 L70.5 291.4 L70.9 287.1 L71.2 283.5 L71.5 280.5 L71.9 278.0 L72.2 275.9 L72.6 274.2 L72.9 272.7 L73.3 271.4 L73.6 270.4 L73.9 269.8 L74.3 269.4 L74.6 269.3 L75.0 269.4 L75.3 269.6 L75.6 270.1 L76.0 270.8 L76.3 271.7 L76.7 272.8 L77.0 274.3 L77.3 276.1 L77.7 278.3 L78.0 280.9 L78.4 284.2 L78.7 288.4 L79.0 293.8 L79.4 301.2 L79.7 312.6 L80.1 322.0 L80.4 322.0 L80.7 308.6 L81.1 298.8 L81.4 292.1 L81.8 287.2 L82.1 283.3 L82.4 280.2 L82.8 277.5 L83.1 275.1 L83.5 272.7 L83.8 269.7 L84.1 266.0 L84.5 261.1 L84.8 255.4 L85.2 249.1 L85.5 243.5 L85.9 236.7 L86.2 230.3 L86.5 224.4 L86.9 219.0 L87.2 214.0 L87.6 209.4 L87.9 205.3 L88.2 201.7 L88.6 198.5 L88.9 195.8 L89.3 193.5 L89.6 191.7 L89.9 190.3 L90.3 189.4 L90.6 188.9 L91.0 188.9 L91.3 189.3 L91.6 190.2 L92.0 191.5 L92.3 193.3 L92.7 195.5 L93.0 198.2 L93.3 201.4 L93.7 205.0 L94.0 209.0 L94.4 213.5 L94.7 218.5 L95.0 223.9 L95.4 229.8 L95.7 236.1 L96.1 242.8 L96.4 248.6 L96.7 255.1 L97.1 261.2 L97.4 266.6 L97.8 270.9 L98.1 274.5 L98.5 277.5 L98.8 280.3 L99.1 283.3 L99.5 286.7 L99.8 290.5 L100.2 294.8 L100.5 299.3 L100.8 303.3 L101.2 304.7 L101.5 302.8 L101.9 299.0 L102.2 294.9 L102.5 291.2 L102.9 288.1 L103.2 285.3 L103.6 283.0 L103.9 281.1 L104.2 279.4 L104.6 278.0 L104.9 276.7 L105.3 275.6 L105.6 274.7 L105.9 273.9 L106.3 273.3 L106.6 272.7 L107.0 272.4 L107.3 272.1 L107.6 272.1 L108.0 272.3 L108.3 272.9 L108.7 273.8 L109.0 274.9 L109.4 276.3 L109.7 278.0 L110.0 280.2 L110.4 282.8 L110.7 286.1 L111.1 290.2 L111.4 295.5 L111.7 302.7 L112.1 313.3 L112.4 322.0 L112.8 322.0 L113.1 313.7 L113.4 303.8 L113.8 297.2 L114.1 292.5 L114.5 289.0 L114.8 286.2 L115.1 284.1 L115.5 282.5 L115.8 281.3 L116.2 280.5 L116.5 279.9 L116.8 279.5 L117.2 279.4 L117.5 279.4 L117.9 279.4 L118.2 279.5 L118.5 279.6 L118.9 279.9 L119.2 280.2 L119.6 280.6 L119.9 281.1 L120.2 281.7 L120.6 282.4 L120.9 283.4 L121.3 284.5 L121.6 286.0 L122.0 287.8 L122.3 290.1 L122.6 292.9 L123.0 296.5 L123.3 301.0 L123.7 306.6 L124.0 312.9 L124.3 316.7 L124.7 313.4 L125.0 306.7 L125.4 300.4 L125.7 295.3 L126.0 291.2 L126.4 287.9 L126.7 285.3 L127.1 283.2 L127.4 281.5 L127.7 280.2 L128.1 279.3 L128.4 278.7 L128.8 278.4 L129.1 278.4 L129.4 278.5 L129.8 278.9 L130.1 279.5 L130.5 280.3 L130.8 281.2 L131.1 282.2 L131.5 283.4 L131.8 284.6 L132.2 285.9 L132.5 287.2 L132.8 288.5 L133.2 289.8 L133.5 291.1 L133.9 292.5 L134.2 293.9 L134.6 295.4 L134.9 296.8 L135.2 298.1 L135.6 299.0 L135.9 299.1 L136.3 298.4 L136.6 296.8 L136.9 294.6 L137.3 292.0 L137.6 289.4 L138.0 287.0 L138.3 284.8 L138.6 282.8 L139.0 281.1 L139.3 279.7 L139.7 278.6 L140.0 277.7 L140.3 277.2 L140.7 276.9 L141.0 276.9 L141.4 277.2 L141.7 277.7 L142.0 278.5 L142.4 279.6 L142.7 281.0 L143.1 282.7 L143.4 284.7 L143.7 287.0 L144.1 289.6 L144.4 292.4 L144.8 295.3 L145.1 298.0 L145.4 300.0 L145.8 300.9 L146.1 300.4 L146.5 299.0 L146.8 297.0 L147.2 294.9 L147.5 292.7 L147.8 290.7 L148.2 288.8 L148.5 287.0 L148.9 285.4 L149.2 283.9 L149.5 282.5 L149.9 281.2 L150.2 280.0 L150.6 278.9 L150.9 278.0 L151.2 277.3 L151.6 276.7 L151.9 276.3 L152.3 276.0 L152.6 276.0 L152.9 276.1 L153.3 276.3 L153.6 276.9 L154.0 277.7 L154.3 278.9 L154.6 280.4 L155.0 282.4 L155.3 285.0 L155.7 288.2 L156.0 292.2 L156.3 297.5 L156.7 304.5 L157.0 313.6 L157.4 320.6 L157.7 314.7 L158.1 305.3 L158.4 297.9 L158.7 292.3 L159.1 287.9 L159.4 284.4 L159.8 281.5 L160.1 279.1 L160.4 277.1 L160.8 275.5 L161.1 274.1 L161.5 272.9 L161.8 271.9 L162.1 271.1 L162.5 270.5 L162.8 270.3 L163.2 270.2 L163.5 270.3 L163.8 270.6 L164.2 271.0 L164.5 271.6 L164.9 272.4 L165.2 273.4 L165.5 274.6 L165.9 276.2 L166.2 278.1 L166.6 280.4 L166.9 283.3 L167.2 286.8 L167.6 291.3 L167.9 297.2 L168.3 305.5 L168.6 317.9 L168.9 322.0 L169.3 316.4 L169.6 304.5 L170.0 296.6 L170.3 290.9 L170.7 286.4 L171.0 282.9 L171.3 279.8 L171.7 277.1 L172.0 274.3 L172.4 271.0 L172.7 266.9 L173.0 261.9 L173.4 256.1 L173.7 249.8 L174.1 243.3 L174.4 237.5 L174.7 231.2 L175.1 225.4 L175.4 220.0 L175.8 215.0 L176.1 210.5 L176.4 206.3 L176.8 202.7 L177.1 199.4 L177.5 196.6 L177.8 194.2 L178.1 192.3 L178.5 190.8 L178.8 189.7 L179.2 189.0 L179.5 188.8 L179.8 189.0 L180.2 189.7 L180.5 190.8 L180.9 192.3 L181.2 194.2 L181.5 196.6 L181.9 199.4 L182.2 202.7 L182.6 206.3 L182.9 210.5 L183.3 215.0 L183.6 220.0 L183.9 225.4 L184.3 231.2 L184.6 237.5 L185.0 243.4 L185.3 249.9 L185.6 256.4 L186.0 262.5 L186.3 267.9 L186.7 272.5 L187.0 276.2 L187.3 279.5 L187.7 282.6 L188.0 285.8 L188.4 289.5 L188.7 293.8 L189.0 299.0 L189.4 305.2 L189.7 311.6 L190.1 314.4 L190.4 310.6 L190.7 304.2 L191.1 298.5 L191.4 293.7 L191.8 289.8 L192.1 286.6 L192.4 283.8 L192.8 281.5 L193.1 279.6 L193.5 277.9 L193.8 276.5 L194.1 275.3 L194.5 274.3 L194.8 273.5 L195.2 272.8 L195.5 272.3 L195.9 272.0 L196.2 271.8 L196.5 271.8 L196.9 272.3 L197.2 273.0 L197.6 273.8 L197.9 274.9 L198.2 276.3 L198.6 277.9 L198.9 279.9 L199.3 282.2 L199.6 284.9 L199.9 288.3 L200.3 292.4 L200.6 297.5 L201.0 304.2 L201.3 313.3 L201.6 322.0 L202.0 322.0 L202.3 317.3 L202.7 307.9 L203.0 301.2 L203.3 296.3 L203.7 292.5 L204.0 289.5 L204.4 287.2 L204.7 285.2 L205.0 283.7 L205.4 282.4 L205.7 281.4 L206.1 280.7 L206.4 280.1 L206.8 279.5 L207.1 279.1 L207.4 278.8 L207.8 278.7 L208.1 278.7 L208.5 278.8 L208.8 279.1 L209.1 279.6 L209.5 280.2 L209.8 281.1 L210.2 282.2 L210.5 283.5 L210.8 285.1 L211.2 287.1 L211.5 289.6 L211.9 292.6 L212.2 296.5 L212.5 301.4 L212.9 308.1 L213.2 318.3 L213.6 322.0 L213.9 322.0 L214.2 322.0 L214.6 311.0 L214.9 303.3 L215.3 297.8 L215.6 293.7 L215.9 290.4 L216.3 287.7 L216.6 285.6 L217.0 283.9 L217.3 282.6 L217.6 281.5 L218.0 280.6 L218.3 280.0 L218.7 279.6 L219.0 279.3 L219.4 279.2 L219.7 279.3 L220.0 279.4 L220.4 279.8 L220.7 280.2 L221.1 280.7 L221.4 281.4 L221.7 282.2 L222.1 283.2 L222.4 284.4 L222.8 285.8 L223.1 287.5 L223.4 289.5 L223.8 292.0 L224.1 295.0 L224.5 298.8 L224.8 303.6 L225.1 309.8 L225.5 317.1 L225.8 322.0 L226.2 318.2 L226.5 310.4 L226.8 303.5 L227.2 298.0 L227.5 293.6 L227.9 290.1 L228.2 287.2 L228.5 284.8 L228.9 282.9 L229.2 281.4 L229.6 280.2 L229.9 279.3 L230.2 278.7 L230.6 278.4 L230.9 278.2 L231.3 278.3 L231.6 278.6 L232.0 279.0 L232.3 279.5 L232.6 280.2 L233.0 281.0 L233.3 281.9 L233.7 282.8 L234.0 283.8 L234.3 284.8 L234.7 286.0 L235.0 287.2 L235.4 288.6 L235.7 290.2 L236.0 292.0 L236.4 294.2 L236.7 296.6 L237.1 299.3 L237.4 302.0 L237.7 304.0 L238.1 304.5 L238.4 302.9 L238.8 299.9 L239.1 296.2 L239.4 292.6 L239.8 289.3 L240.1 286.4 L240.5 284.0 L240.8 281.9 L241.1 280.2 L241.5 278.8 L241.8 277.8 L242.2 277.0 L242.5 276.6 L242.8 276.4 L243.2 276.4 L243.5 276.7 L243.9 277.3 L244.2 278.0 L244.6 279.0 L244.9 280.0 L245.2 281.1 L245.6 282.2 L245.9 283.5 L246.3 284.8 L246.6 286.0 L246.9 287.2 L247.3 288.3 L247.6 289.2 L248.0 290.0 L248.3 290.8 L248.6 291.5 L249.0 292.1 L249.3 292.5 L249.7 292.7 L250.0 292.4 L250.3 291.7 L250.7 290.3 L251.0 288.4 L251.4 286.1 L251.7 283.7 L252.0 281.3 L252.4 279.0 L252.7 276.9 L253.1 275.0 L253.4 273.4 L253.7 272.0 L254.1 270.9 L254.4 270.1 L254.8 269.6 L255.1 269.6 L255.5 269.8 L255.8 270.3 L256.1 271.1 L256.5 272.1 L256.8 273.4 L257.2 274.9 L257.5 276.7 L257.8 278.8 L258.2 281.1 L258.5 283.5 L258.9 286.0 L259.2 288.4 L259.5 290.4 L259.9 291.8 L260.2 292.5 L260.6 292.4 L260.9 291.8 L261.2 290.8 L261.6 289.5 L261.9 288.2 L262.3 286.8 L262.6 285.3 L262.9 283.7 L263.3 281.8 L263.6 279.6 L264.0 276.7 L264.3 273.0 L264.6 268.4 L265.0 262.9 L265.3 256.8 L265.7 250.4 L266.0 244.0 L266.3 238.3 L266.7 232.1 L267.0 226.3 L267.4 220.9 L267.7 216.0 L268.1 211.4 L268.4 207.3 L268.7 203.6 L269.1 200.3 L269.4 197.4 L269.8 195.0 L270.1 192.9 L270.4 191.3 L270.8 190.1 L271.1 189.3 L271.5 188.9 L271.8 188.9 L272.1 189.3 L272.5 190.2 L272.8 191.4 L273.2 193.1 L273.5 195.2 L273.8 197.7 L274.2 200.6 L274.5 203.9 L274.9 207.7 L275.2 211.8 L275.5 216.4 L275.9 221.4 L276.2 226.8 L276.6 232.6 L276.9 238.8 L277.2 244.6 L277.6 251.0 L277.9 257.4 L278.3 263.4 L278.6 268.7 L278.9 273.0 L279.3 276.5 L279.6 279.2 L280.0 281.7 L280.3 284.3 L280.7 287.0 L281.0 290.3 L281.3 294.2 L281.7 299.0 L282.0 304.5 L282.4 309.8 L282.7 310.9 L283.0 306.5 L283.4 300.3 L283.7 294.6 L284.1 289.9 L284.4 286.0 L284.7 282.8 L285.1 280.1 L285.4 277.8 L285.8 276.0 L286.1 274.4 L286.4 273.1 L286.8 272.1 L287.1 271.3 L287.5 270.8 L287.8 270.4 L288.1 270.2 L288.5 270.1 L288.8 270.4 L289.2 271.0 L289.5 271.7 L289.8 272.5 L290.2 273.5 L290.5 274.6 L290.9 275.8 L291.2 277.3 L291.5 278.9 L291.9 280.8 L292.2 282.9 L292.6 285.3 L292.9 288.2 L293.3 291.5 L293.6 295.5 L293.9 300.3 L294.3 306.0 L294.6 312.0 L295.0 315.8 L295.3 313.5 L295.6 307.8 L296.0 302.1 L296.3 297.2 L296.7 293.2 L297.0 290.0 L297.3 287.3 L297.7 285.1 L298.0 283.3 L298.4 281.8 L298.7 280.5 L299.0 279.4 L299.4 278.5 L299.7 277.9 L300.1 277.4 L300.4 277.1 L300.7 277.0 L301.1 277.1 L301.4 277.3 L301.8 277.7 L302.1 278.3 L302.4 279.0 L302.8 279.8 L303.1 280.9 L303.5 282.1 L303.8 283.5 L304.2 285.1 L304.5 286.9 L304.8 289.1 L305.2 291.6 L305.5 294.5 L305.9 298.0 L306.2 302.1 L306.5 307.0 L306.9 312.7 L307.2 317.8 L307.6 318.8 L307.9 314.6 L308.2 308.7 L308.6 303.3 L308.9 298.7 L309.3 294.9 L309.6 291.8 L309.9 289.1 L310.3 286.8 L310.6 284.9 L311.0 283.4 L311.3 282.1 L311.6 281.0 L312.0 280.2 L312.3 279.6 L312.7 279.2 L313.0 279.0 L313.3 278.9 L313.7 279.0 L314.0 279.4 L314.4 279.8 L314.7 280.4 L315.0 281.2 L315.4 282.2 L315.7 283.3 L316.1 284.6 L316.4 286.1 L316.8 287.8 L317.1 289.8 L317.4 292.0 L317.8 294.6 L318.1 297.6 L318.5 301.1 L318.8 305.1 L319.1 309.7 L319.5 314.4 L319.8 317.7 L320.2 317.1 L320.5 313.2 L320.8 308.2 L321.2 303.4 L321.5 299.3 L321.9 295.7 L322.2 292.7 L322.5 290.2 L322.9 288.0 L323.2 286.1 L323.6 284.6 L323.9 283.3 L324.2 282.3 L324.6 281.5 L324.9 280.9 L325.3 280.5 L325.6 280.3 L325.9 280.3 L326.3 280.5 L326.6 280.8 L327.0 281.3 L327.3 282.0 L327.6 282.9 L328.0 283.9 L328.3 285.0 L328.7 286.4 L329.0 287.9 L329.4 289.6 L329.7 291.4 L330.0 293.5 L330.4 295.8 L330.7 298.4 L331.1 301.3 L331.4 304.5 L331.7 307.8 L332.1 310.7 L332.4 312.4 L332.8 311.9 L333.1 309.3 L333.4 305.7 L333.8 301.9 L334.1 298.3 L334.5 295.0 L334.8 292.2 L335.1 289.7 L335.5 287.5 L335.8 285.6 L336.2 284.1 L336.5 282.8 L336.8 281.7 L337.2 280.9 L337.5 280.3 L337.9 279.9 L338.2 279.8 L338.5 279.8 L338.9 280.0 L339.2 280.5 L339.6 281.0 L339.9 281.8 L340.2 282.7 L340.6 283.8 L340.9 285.0 L341.3 286.1 L341.6 287.4 L342.0 288.7 L342.3 290.2 L342.6 291.7 L343.0 293.3 L343.3 294.9 L343.7 296.7 L344.0 298.5 L344.3 300.1 L344.7 301.5 L345.0 302.3 L345.4 302.1 L345.7 300.7 L346.0 298.3 L346.4 295.4 L346.7 292.2 L347.1 289.1 L347.4 286.2 L347.7 283.5 L348.1 281.1 L348.4 278.9 L348.8 277.1 L349.1 275.5 L349.4 274.2 L349.8 273.1 L350.1 272.3 L350.5 271.7 L350.8 271.3 L351.1 271.4 L351.5 271.8 L351.8 272.4 L352.2 273.2 L352.5 274.1 L352.9 275.2 L353.2 276.5 L353.5 277.8 L353.9 279.3 L354.2 280.7 L354.6 282.2 L354.9 283.6 L355.2 284.9 L355.6 286.1 L355.9 287.3 L356.3 288.4 L356.6 289.6 L356.9 290.6 L357.3 291.6 L357.6 292.3 L358.0 292.6 L358.3 292.2 L358.6 290.9 L359.0 288.9 L359.3 286.2 L359.7 282.9 L360.0 279.1 L360.3 274.8 L360.7 269.9 L361.0 264.4 L361.4 258.5 L361.7 252.3 L362.0 246.0 L362.4 239.9 L362.7 234.4 L363.1 228.6 L363.4 223.2 L363.7 218.2 L364.1 213.5 L364.4 209.3 L364.8 205.5 L365.1 202.1 L365.5 199.0 L365.8 196.4 L366.1 194.1 L366.5 192.3 L366.8 190.8 L367.2 189.8 L367.5 189.1 L367.8 188.8 L368.2 188.9 L368.5 189.5 L368.9 190.4 L369.2 191.7 L369.5 193.4 L369.9 195.5 L370.2 198.0 L370.6 200.9 L370.9 204.2 L371.2 207.9 L371.6 212.0 L371.9 216.4 L372.3 221.3 L372.6 226.6"/>
<path stroke="#4B0082" d="M56.9 316.5 L57.2 315.3 L57.6 311.2 L57.9 306.6 L58.3 302.4 L58.6 298.8 L58.9 295.8 L59.3 293.3 L59.6 291.2 L60.0 289.4 L60.3 288.0 L60.7 286.8 L61.0 285.8 L61.3 285.0 L61.7 284.4 L62.0 284.0 L62.4 283.7 L62.7 283.6 L63.0 283.7 L63.4 283.9 L63.7 284.3 L64.1 285.0 L64.4 285.9 L64.7 287.1 L65.1 288.6 L65.4 290.5 L65.8 292.8 L66.1 295.8 L66.4 299.6 L66.8 304.5 L67.1 311.2 L67.5 320.8 L67.8 322.0 L68.1 322.0 L68.5 318.6 L68.8 309.2 L69.2 302.6 L69.5 297.6 L69.8 293.7 L70.2 290.6 L70.5 288.2 L70.9 286.2 L71.2 284.6 L71.5 283.4 L71.9 282.6 L72.2 282.0 L72.6 281.7 L72.9 281.6 L73.3 281.8 L73.6 282.2 L73.9 282.6 L74.3 283.3 L74.6 284.1 L75.0 285.1 L75.3 286.4 L75.6 287.7 L76.0 289.2 L76.3 290.8 L76.7 292.3 L77.0 293.9 L77.3 295.2 L77.7 296.3 L78.0 297.0 L78.4 297.2 L78.7 296.7 L79.0 295.7 L79.4 294.1 L79.7 292.2 L80.1 290.1 L80.4 287.8 L80.7 285.6 L81.1 283.4 L81.4 281.3 L81.8 279.4 L82.1 277.7 L82.4 276.1 L82.8 274.8 L83.1 273.7 L83.5 272.9 L83.8 272.5 L84.1 272.4 L84.5 272.6 L84.8 273.1 L85.2 273.9 L85.5 275.0 L85.9 276.5 L86.2 278.5 L86.5 281.0 L86.9 284.1 L87.2 288.1 L87.6 293.1 L87.9 299.8 L88.2 308.1 L88.6 315.1 L88.9 311.4 L89.3 302.9 L89.6 295.8 L89.9 290.4 L90.3 286.3 L90.6 283.0 L91.0 280.4 L91.3 278.3 L91.6 276.6 L92.0 275.3 L92.3 274.1 L92.7 272.9 L93.0 271.4 L93.3 269.1 L93.7 265.5 L94.0 260.5 L94.4 254.4 L94.7 247.8 L95.0 241.7 L95.4 234.8 L95.7 228.4 L96.1 222.5 L96.4 217.0 L96.7 211.9 L97.1 207.3 L97.4 203.1 L97.8 199.4 L98.1 196.2 L98.5 193.4 L98.8 191.0 L99.1 189.1 L99.5 187.7 L99.8 186.7 L100.2 186.1 L100.5 186.0 L100.8 186.4 L101.2 187.2 L101.5 188.4 L101.9 190.1 L102.2 192.3 L102.5 194.9 L102.9 197.9 L103.2 201.4 L103.6 205.4 L103.9 209.8 L104.2 214.6 L104.6 219.9 L104.9 225.7 L105.3 231.9 L105.6 238.5 L105.9 244.4 L106.3 250.9 L106.6 257.0 L107.0 262.4 L107.3 266.5 L107.6 269.5 L108.0 271.6 L108.3 273.3 L108.7 274.7 L109.0 276.1 L109.4 277.6 L109.7 279.3 L110.0 281.1 L110.4 283.2 L110.7 285.4 L111.1 287.9 L111.4 290.4 L111.7 292.6 L112.1 293.9 L112.4 293.9 L112.8 292.4 L113.1 289.8 L113.4 286.7 L113.8 283.6 L114.1 280.7 L114.5 278.1 L114.8 275.9 L115.1 273.9 L115.5 272.3 L115.8 270.9 L116.2 269.9 L116.5 269.1 L116.8 268.5 L117.2 268.3 L117.5 268.3 L117.9 268.8 L118.2 269.6 L118.5 270.6 L118.9 271.9 L119.2 273.5 L119.6 275.5 L119.9 277.8 L120.2 280.4 L120.6 283.6 L120.9 287.2 L121.3 291.4 L121.6 296.2 L122.0 301.3 L122.3 305.6 L122.6 306.8 L123.0 304.5 L123.3 300.5 L123.7 296.5 L124.0 293.0 L124.3 290.0 L124.7 287.5 L125.0 285.5 L125.4 283.8 L125.7 282.4 L126.0 281.3 L126.4 280.4 L126.7 279.7 L127.1 279.2 L127.4 278.8 L127.7 278.5 L128.1 278.3 L128.4 278.3 L128.8 278.6 L129.1 279.0 L129.4 279.6 L129.8 280.4 L130.1 281.5 L130.5 282.9 L130.8 284.6 L131.1 286.7 L131.5 289.2 L131.8 292.4 L132.2 296.3 L132.5 301.3 L132.8 308.0 L133.2 317.8 L133.5 322.0 L133.9 322.0 L134.2 322.0 L134.6 312.5 L134.9 304.9 L135.2 299.5 L135.6 295.4 L135.9 292.1 L136.3 289.6 L136.6 287.6 L136.9 285.9 L137.3 284.7 L137.6 283.7 L138.0 283.0 L138.3 282.6 L138.6 282.3 L139.0 282.3 L139.3 282.4 L139.7 282.8 L140.0 283.4 L140.3 284.1 L140.7 285.1 L141.0 286.3 L141.4 287.7 L141.7 289.4 L142.0 291.4 L142.4 293.7 L142.7 296.4 L143.1 299.6 L143.4 303.4 L143.7 307.9 L144.1 312.9 L144.4 317.8 L144.8 320.3 L145.1 318.2 L145.4 313.3 L145.8 308.2 L146.1 303.7 L146.5 299.8 L146.8 296.6 L147.2 293.9 L147.5 291.6 L147.8 289.7 L148.2 288.1 L148.5 286.8 L148.9 285.8 L149.2 285.0 L149.5 284.5 L149.9 284.2 L150.2 284.1 L150.6 284.2 L150.9 284.6 L151.2 285.2 L151.6 286.0 L151.9 287.1 L152.3 288.5 L152.6 290.2 L152.9 292.3 L153.3 294.9 L153.6 297.9 L154.0 301.6 L154.3 306.2 L154.6 311.7 L155.0 318.0 L155.3 322.0 L155.7 322.0 L156.0 317.4 L156.3 311.2 L156.7 305.9 L157.0 301.5 L157.4 297.9 L157.7 295.0 L158.1 292.5 L158.4 290.4 L158.7 288.7 L159.1 287.2 L159.4 286.0 L159.8 285.0 L160.1 284.2 L160.4 283.6 L160.8 283.2 L161.1 283.0 L161.5 283.0 L161.8 283.1 L162.1 283.4 L162.5 283.8 L162.8 284.4 L163.2 285.3 L163.5 286.4 L163.8 288.0 L164.2 289.9 L164.5 292.4 L164.9 295.5 L165.2 299.6 L165.5 305.1 L165.9 313.1 L166.2 322.0 L166.6 322.0 L166.9 322.0 L167.2 313.6 L167.6 304.3 L167.9 297.7 L168.3 292.7 L168.6 288.8 L168.9 285.5 L169.3 282.8 L169.6 280.6 L170.0 278.7 L170.3 277.2 L170.7 276.0 L171.0 275.0 L171.3 274.2 L171.7 273.7 L172.0 273.4 L172.4 273.6 L172.7 274.0 L173.0 274.5 L173.4 275.3 L173.7 276.2 L174.1 277.4 L174.4 278.7 L174.7 280.3 L175.1 282.1 L175.4 284.3 L175.8 286.7 L176.1 289.4 L176.4 292.4 L176.8 295.7 L177.1 298.8 L177.5 301.0 L177.8 301.3 L178.1 299.5 L178.5 296.3 L178.8 292.6 L179.2 289.0 L179.5 285.7 L179.8 282.8 L180.2 280.2 L180.5 277.8 L180.9 275.6 L181.2 273.3 L181.5 270.7 L181.9 267.3 L182.2 263.0 L182.6 257.6 L182.9 251.5 L183.3 245.1 L183.6 239.3 L183.9 232.7 L184.3 226.6 L184.6 220.9 L185.0 215.6 L185.3 210.8 L185.6 206.4 L186.0 202.4 L186.3 198.9 L186.7 195.8 L187.0 193.1 L187.3 190.8 L187.7 189.0 L188.0 187.6 L188.4 186.6 L188.7 186.1 L189.0 186.0 L189.4 186.3 L189.7 187.1 L190.1 188.3 L190.4 189.9 L190.7 192.0 L191.1 194.5 L191.4 197.4 L191.8 200.7 L192.1 204.5 L192.4 208.7 L192.8 213.4 L193.1 218.5 L193.5 224.0 L193.8 229.9 L194.1 236.3 L194.5 242.1 L194.8 248.4 L195.2 254.4 L195.5 259.7 L195.9 263.8 L196.2 266.9 L196.5 269.1 L196.9 270.9 L197.2 272.7 L197.6 274.7 L197.9 277.2 L198.2 280.2 L198.6 283.9 L198.9 288.7 L199.3 295.0 L199.6 303.5 L199.9 313.4 L200.3 313.9 L200.6 304.2 L201.0 295.8 L201.3 289.6 L201.6 284.9 L202.0 281.3 L202.3 278.5 L202.7 276.2 L203.0 274.4 L203.3 273.0 L203.7 271.9 L204.0 271.1 L204.4 270.5 L204.7 270.0 L205.0 269.7 L205.4 269.5 L205.7 269.4 L206.1 269.4 L206.4 269.8 L206.8 270.1 L207.1 270.6 L207.4 271.1 L207.8 271.7 L208.1 272.5 L208.5 273.4 L208.8 274.5 L209.1 275.9 L209.5 277.6 L209.8 279.7 L210.2 282.3 L210.5 285.4 L210.8 289.3 L211.2 294.3 L211.5 300.8 L211.9 309.4 L212.2 318.8 L212.5 318.1 L212.9 308.8 L213.2 300.9 L213.6 295.0 L213.9 290.6 L214.2 287.2 L214.6 284.6 L214.9 282.6 L215.3 281.0 L215.6 279.9 L215.9 279.1 L216.3 278.4 L216.6 278.1 L217.0 277.9 L217.3 278.0 L217.6 278.3 L218.0 278.7 L218.3 279.4 L218.7 280.1 L219.0 281.0 L219.4 282.0 L219.7 283.0 L220.0 284.1 L220.4 285.3 L220.7 286.6 L221.1 288.0 L221.4 289.5 L221.7 291.1 L222.1 292.9 L222.4 294.9 L222.8 297.2 L223.1 299.7 L223.4 302.2 L223.8 304.5 L224.1 306.0 L224.5 306.1 L224.8 304.6 L225.1 302.1 L225.5 299.1 L225.8 296.1 L226.2 293.4 L226.5 291.0 L226.8 288.9 L227.2 287.1 L227.5 285.7 L227.9 284.5 L228.2 283.6 L228.5 283.0 L228.9 282.6 L229.2 282.5 L229.6 282.6 L229.9 282.9 L230.2 283.5 L230.6 284.3 L230.9 285.4 L231.3 286.6 L231.6 288.1 L232.0 289.9 L232.3 291.9 L232.6 294.1 L233.0 296.5 L233.3 299.1 L233.7 301.9 L234.0 304.6 L234.3 307.2 L234.7 309.1 L235.0 310.1 L235.4 309.9 L235.7 308.7 L236.0 306.7 L236.4 304.5 L236.7 302.1 L237.1 299.8 L237.4 297.6 L237.7 295.6 L238.1 293.7 L238.4 292.0 L238.8 290.5 L239.1 289.1 L239.4 287.9 L239.8 287.0 L240.1 286.1 L240.5 285.5 L240.8 285.1 L241.1 284.9 L241.5 284.8 L241.8 285.0 L242.2 285.4 L242.5 286.0 L242.8 286.9 L243.2 288.0 L243.5 289.5 L243.9 291.2 L244.2 293.3 L244.6 295.9 L244.9 299.0 L245.2 302.8 L245.6 307.5 L245.9 313.3 L246.3 320.2 L246.6 322.0 L246.9 322.0 L247.3 319.2 L247.6 312.6 L248.0 307.1 L248.3 302.7 L248.6 299.1 L249.0 296.1 L249.3 293.6 L249.7 291.5 L250.0 289.7 L250.3 288.2 L250.7 286.9 L251.0 285.8 L251.4 284.9 L251.7 284.2 L252.0 283.6 L252.4 283.2 L252.7 282.9 L253.1 282.8 L253.4 282.9 L253.7 283.1 L254.1 283.5 L254.4 284.2 L254.8 285.0 L255.1 285.9 L255.5 287.0 L255.8 288.5 L256.1 290.4 L256.5 292.8 L256.8 295.9 L257.2 299.9 L257.5 305.1 L257.8 312.7 L258.2 322.0 L258.5 322.0 L258.9 322.0 L259.2 316.9 L259.5 306.8 L259.9 299.8 L260.2 294.5 L260.6 290.3 L260.9 286.9 L261.2 284.1 L261.6 281.7 L261.9 279.7 L262.3 278.0 L262.6 276.5 L262.9 275.3 L263.3 274.3 L263.6 273.5 L264.0 272.9 L264.3 272.5 L264.6 272.3 L265.0 272.5 L265.3 272.8 L265.7 273.4 L266.0 274.1 L266.3 275.0 L266.7 276.1 L267.0 277.5 L267.4 279.1 L267.7 281.0 L268.1 283.4 L268.4 286.1 L268.7 289.5 L269.1 293.6 L269.4 298.8 L269.8 305.0 L270.1 311.6 L270.4 313.8 L270.8 308.7 L271.1 301.7 L271.5 295.5 L271.8 290.5 L272.1 286.4 L272.5 282.9 L272.8 280.0 L273.2 277.5 L273.5 275.1 L273.8 272.6 L274.2 269.9 L274.5 266.4 L274.9 261.9 L275.2 256.6 L275.5 250.6 L275.9 244.4 L276.2 238.1 L276.6 232.4 L276.9 226.4 L277.2 220.8 L277.6 215.7 L277.9 210.9 L278.3 206.6 L278.6 202.7 L278.9 199.2 L279.3 196.1 L279.6 193.4 L280.0 191.2 L280.3 189.3 L280.7 187.9 L281.0 186.8 L281.3 186.2 L281.7 186.0 L282.0 186.2 L282.4 186.8 L282.7 187.9 L283.0 189.3 L283.4 191.2 L283.7 193.4 L284.1 196.1 L284.4 199.2 L284.7 202.7 L285.1 206.6 L285.4 210.9 L285.8 215.7 L286.1 220.8 L286.4 226.4 L286.8 232.4 L287.1 238.0 L287.5 244.3 L287.8 250.5 L288.1 256.3 L288.5 261.5 L288.8 265.8 L289.2 269.2 L289.5 272.0 L289.8 274.4 L290.2 276.8 L290.5 279.4 L290.9 282.4 L291.2 285.9 L291.5 290.1 L291.9 295.0 L292.2 300.7 L292.6 305.9 L292.9 307.6 L293.3 304.3 L293.6 299.0 L293.9 294.0 L294.3 289.8 L294.6 286.3 L295.0 283.4 L295.3 281.0 L295.6 279.0 L296.0 277.2 L296.3 275.8 L296.7 274.5 L297.0 273.5 L297.3 272.6 L297.7 271.8 L298.0 271.2 L298.4 270.7 L298.7 270.3 L299.0 270.3 L299.4 270.5 L299.7 270.8 L300.1 271.3 L300.4 271.9 L300.7 272.7 L301.1 273.7 L301.4 275.0 L301.8 276.5 L302.1 278.3 L302.4 280.5 L302.8 283.1 L303.1 286.3 L303.5 290.2 L303.8 295.0 L304.2 301.1 L304.5 309.3 L304.8 320.5 L305.2 322.0 L305.5 319.6 L305.9 309.7 L306.2 302.7 L306.5 297.7 L306.9 293.9 L307.2 290.9 L307.6 288.7 L307.9 286.9 L308.2 285.6 L308.6 284.6 L308.9 283.6 L309.3 282.9 L309.6 282.4 L309.9 282.0 L310.3 281.7 L310.6 281.6 L311.0 281.5 L311.3 281.5 L311.6 281.6 L312.0 281.7 L312.3 282.0 L312.7 282.3 L313.0 282.7 L313.3 283.3 L313.7 284.1 L314.0 285.1 L314.4 286.3 L314.7 287.9 L315.0 289.8 L315.4 292.1 L315.7 295.1 L316.1 298.8 L316.4 303.6 L316.8 310.2 L317.1 319.9 L317.4 322.0 L317.8 322.0 L318.1 322.0 L318.5 314.3 L318.8 306.7 L319.1 301.3 L319.5 297.2 L319.8 294.1 L320.2 291.6 L320.5 289.6 L320.8 288.1 L321.2 287.0 L321.5 286.1 L321.9 285.5 L322.2 285.1 L322.5 285.0 L322.9 284.9 L323.2 285.1 L323.6 285.3 L323.9 285.6 L324.2 285.9 L324.6 286.4 L324.9 286.8 L325.3 287.3 L325.6 287.8 L325.9 288.4 L326.3 289.1 L326.6 290.0 L327.0 291.0 L327.3 292.3 L327.6 293.9 L328.0 295.9 L328.3 298.3 L328.7 301.4 L329.0 305.2 L329.4 310.0 L329.7 315.8 L330.0 321.6 L330.4 322.0 L330.7 318.6 L331.1 312.1 L331.4 306.3 L331.7 301.5 L332.1 297.6 L332.4 294.4 L332.8 291.9 L333.1 289.8 L333.4 288.1 L333.8 286.8 L334.1 285.8 L334.5 285.0 L334.8 284.6 L335.1 284.3 L335.5 284.3 L335.8 284.5 L336.2 284.8 L336.5 285.2 L336.8 285.8 L337.2 286.4 L337.5 287.1 L337.9 287.9 L338.2 288.8 L338.5 289.6 L338.9 290.6 L339.2 291.6 L339.6 292.7 L339.9 294.0 L340.2 295.4 L340.6 297.1 L340.9 299.0 L341.3 301.3 L341.6 303.8 L342.0 306.5 L342.3 308.8 L342.6 309.9 L343.0 309.1 L343.3 306.5 L343.7 303.0 L344.0 299.4 L344.3 295.9 L344.7 292.8 L345.0 290.1 L345.4 287.8 L345.7 285.9 L346.0 284.3 L346.4 282.9 L346.7 281.9 L347.1 281.1 L347.4 280.5 L347.7 280.2 L348.1 280.1 L348.4 280.1 L348.8 280.4 L349.1 280.9 L349.4 281.6 L349.8 282.4 L350.1 283.4 L350.5 284.5 L350.8 285.8 L351.1 287.2 L351.5 288.5 L351.8 290.0 L352.2 291.6 L352.5 293.2 L352.9 295.0 L353.2 296.8 L353.5 298.6 L353.9 300.1 L354.2 301.0 L354.6 301.2 L354.9 300.2 L355.2 298.3 L355.6 295.7 L355.9 292.8 L356.3 289.8 L356.6 286.9 L356.9 284.2 L357.3 281.7 L357.6 279.5 L358.0 277.4 L358.3 275.7 L358.6 274.1 L359.0 272.8 L359.3 271.7 L359.7 270.8 L360.0 270.2 L360.3 269.7 L360.7 269.4 L361.0 269.4 L361.4 269.9 L361.7 270.5 L362.0 271.4 L362.4 272.5 L362.7 273.8 L363.1 275.4 L363.4 277.2 L363.7 279.3 L364.1 281.7 L364.4 284.4 L364.8 287.4 L365.1 290.7 L365.5 294.1 L365.8 297.3 L366.1 299.5 L366.5 299.9 L366.8 298.4 L367.2 295.6 L367.5 292.3 L367.8 289.1 L368.2 286.1 L368.5 283.4 L368.9 280.9 L369.2 278.5 L369.5 276.2 L369.9 273.8 L370.2 271.0 L370.6 267.6 L370.9 263.3 L371.2 258.2 L371.6 252.5 L371.9 246.4 L372.3 240.2 L372.6 234.7"/>
<path stroke="#0000FF" d="M56.9 297.9 L57.2 293.9 L57.6 290.8 L57.9 288.3 L58.3 286.4 L58.6 285.0 L58.9 283.8 L59.3 283.0 L59.6 282.4 L60.0 282.1 L60.3 281.9 L60.7 282.0 L61.0 282.1 L61.3 282.4 L61.7 282.8 L62.0 283.3 L62.4 284.0 L62.7 284.7 L63.0 285.5 L63.4 286.4 L63.7 287.5 L64.1 288.8 L64.4 290.2 L64.7 291.9 L65.1 293.8 L65.4 296.1 L65.8 298.7 L66.1 301.6 L66.4 304.6 L66.8 307.0 L67.1 308.2 L67.5 307.3 L67.8 304.6 L68.1 301.2 L68.5 297.6 L68.8 294.2 L69.2 291.3 L69.5 288.7 L69.8 286.5 L70.2 284.6 L70.5 283.1 L70.9 281.9 L71.2 280.9 L71.5 280.2 L71.9 279.8 L72.2 279.6 L72.6 279.6 L72.9 279.9 L73.3 280.5 L73.6 281.3 L73.9 282.4 L74.3 283.8 L74.6 285.5 L75.0 287.5 L75.3 289.9 L75.6 292.7 L76.0 296.0 L76.3 299.6 L76.7 303.4 L77.0 306.6 L77.3 308.1 L77.7 307.0 L78.0 304.2 L78.4 300.6 L78.7 297.0 L79.0 293.8 L79.4 290.9 L79.7 288.4 L80.1 286.3 L80.4 284.4 L80.7 282.7 L81.1 281.3 L81.4 280.0 L81.8 278.9 L82.1 278.1 L82.4 277.3 L82.8 276.8 L83.1 276.3 L83.5 275.9 L83.8 275.6 L84.1 275.6 L84.5 275.7 L84.8 276.1 L85.2 276.8 L85.5 277.7 L85.9 279.0 L86.2 280.7 L86.5 282.8 L86.9 285.5 L87.2 289.0 L87.6 293.6 L87.9 299.9 L88.2 309.5 L88.6 322.0 L88.9 322.0 L89.3 312.8 L89.6 300.9 L89.9 293.1 L90.3 287.3 L90.6 282.9 L91.0 279.2 L91.3 276.3 L91.6 273.8 L92.0 271.8 L92.3 270.0 L92.7 268.6 L93.0 267.7 L93.3 267.1 L93.7 266.7 L94.0 266.5 L94.4 266.6 L94.7 266.8 L95.0 267.3 L95.4 267.9 L95.7 268.8 L96.1 269.9 L96.4 271.2 L96.7 272.7 L97.1 274.6 L97.4 276.7 L97.8 279.3 L98.1 282.2 L98.5 285.7 L98.8 289.8 L99.1 294.2 L99.5 298.4 L99.8 300.6 L100.2 299.3 L100.5 295.4 L100.8 290.7 L101.2 286.3 L101.5 282.4 L101.9 278.8 L102.2 275.3 L102.5 271.5 L102.9 267.2 L103.2 262.2 L103.6 256.3 L103.9 249.9 L104.2 243.3 L104.6 237.5 L104.9 230.8 L105.3 224.5 L105.6 218.7 L105.9 213.3 L106.3 208.4 L106.6 204.0 L107.0 200.0 L107.3 196.4 L107.6 193.3 L108.0 190.6 L108.3 188.4 L108.7 186.6 L109.0 185.3 L109.4 184.4 L109.7 184.0 L110.0 184.0 L110.4 184.5 L110.7 185.4 L111.1 186.8 L111.4 188.6 L111.7 190.8 L112.1 193.6 L112.4 196.7 L112.8 200.3 L113.1 204.4 L113.4 208.9 L113.8 213.8 L114.1 219.2 L114.5 225.1 L114.8 231.4 L115.1 238.1 L115.5 244.2 L115.8 250.9 L116.2 257.6 L116.5 263.8 L116.8 269.2 L117.2 273.8 L117.5 277.8 L117.9 281.4 L118.2 284.9 L118.5 288.7 L118.9 292.8 L119.2 297.2 L119.6 301.1 L119.9 303.1 L120.2 301.9 L120.6 298.4 L120.9 294.2 L121.3 290.2 L121.6 286.6 L122.0 283.6 L122.3 280.9 L122.6 278.6 L123.0 276.7 L123.3 275.1 L123.7 273.7 L124.0 272.5 L124.3 271.6 L124.7 270.9 L125.0 270.4 L125.4 270.2 L125.7 270.1 L126.0 270.2 L126.4 270.6 L126.7 271.1 L127.1 272.1 L127.4 273.4 L127.7 275.0 L128.1 276.9 L128.4 279.1 L128.8 281.8 L129.1 284.9 L129.4 288.6 L129.8 293.0 L130.1 298.3 L130.5 304.6 L130.8 311.3 L131.1 315.0 L131.5 312.2 L131.8 306.4 L132.2 301.0 L132.5 296.5 L132.8 293.0 L133.2 290.1 L133.5 287.8 L133.9 285.9 L134.2 284.4 L134.6 283.2 L134.9 282.2 L135.2 281.5 L135.6 280.9 L135.9 280.6 L136.3 280.4 L136.6 280.3 L136.9 280.3 L137.3 280.3 L137.6 280.5 L138.0 280.8 L138.3 281.3 L138.6 282.0 L139.0 282.9 L139.3 284.0 L139.7 285.3 L140.0 287.0 L140.3 289.0 L140.7 291.4 L141.0 294.4 L141.4 298.2 L141.7 303.0 L142.0 309.5 L142.4 318.6 L142.7 322.0 L143.1 322.0 L143.4 322.0 L143.7 311.7 L144.1 304.5 L144.4 299.2 L144.8 295.1 L145.1 291.9 L145.4 289.3 L145.8 287.2 L146.1 285.5 L146.5 284.1 L146.8 283.1 L147.2 282.4 L147.5 281.9 L147.8 281.6 L148.2 281.5 L148.5 281.6 L148.9 281.9 L149.2 282.4 L149.5 283.0 L149.9 283.8 L150.2 284.7 L150.6 285.8 L150.9 287.0 L151.2 288.3 L151.6 289.7 L151.9 291.2 L152.3 292.8 L152.6 294.5 L152.9 296.3 L153.3 298.1 L153.6 299.9 L154.0 301.6 L154.3 303.0 L154.6 303.6 L155.0 303.3 L155.3 302.0 L155.7 300.0 L156.0 297.5 L156.3 294.8 L156.7 292.2 L157.0 289.7 L157.4 287.5 L157.7 285.4 L158.1 283.7 L158.4 282.2 L158.7 280.9 L159.1 279.9 L159.4 279.2 L159.8 278.7 L160.1 278.4 L160.4 278.4 L160.8 278.6 L161.1 279.1 L161.5 279.9 L161.8 280.9 L162.1 282.3 L162.5 284.0 L162.8 286.0 L163.2 288.5 L163.5 291.3 L163.8 294.5 L164.2 297.8 L164.5 300.8 L164.9 302.7 L165.2 302.8 L165.5 301.1 L165.9 298.4 L166.2 295.5 L166.6 292.7 L166.9 290.3 L167.2 288.1 L167.6 286.3 L167.9 284.7 L168.3 283.3 L168.6 282.0 L168.9 280.9 L169.3 280.0 L169.6 279.0 L170.0 278.2 L170.3 277.4 L170.7 276.8 L171.0 276.1 L171.3 275.6 L171.7 275.2 L172.0 274.8 L172.4 274.5 L172.7 274.4 L173.0 274.4 L173.4 274.8 L173.7 275.3 L174.1 276.2 L174.4 277.5 L174.7 279.2 L175.1 281.4 L175.4 284.3 L175.8 288.2 L176.1 293.4 L176.4 300.9 L176.8 313.2 L177.1 322.0 L177.5 322.0 L177.8 305.5 L178.1 295.4 L178.5 288.5 L178.8 283.4 L179.2 279.5 L179.5 276.3 L179.8 273.7 L180.2 271.6 L180.5 269.9 L180.9 268.5 L181.2 267.4 L181.5 266.6 L181.9 266.2 L182.2 266.0 L182.6 266.1 L182.9 266.3 L183.3 266.6 L183.6 267.1 L183.9 267.7 L184.3 268.4 L184.6 269.2 L185.0 270.1 L185.3 271.1 L185.6 272.3 L186.0 273.6 L186.3 275.1 L186.7 276.8 L187.0 278.8 L187.3 281.1 L187.7 283.6 L188.0 286.5 L188.4 289.4 L188.7 292.0 L189.0 293.4 L189.4 292.9 L189.7 290.5 L190.1 287.0 L190.4 283.1 L190.7 279.2 L191.1 275.0 L191.4 270.5 L191.8 265.4 L192.1 259.7 L192.4 253.4 L192.8 246.9 L193.1 240.4 L193.5 234.6 L193.8 228.2 L194.1 222.3 L194.5 216.7 L194.8 211.6 L195.2 207.0 L195.5 202.8 L195.9 199.0 L196.2 195.6 L196.5 192.6 L196.9 190.1 L197.2 188.0 L197.6 186.4 L197.9 185.2 L198.2 184.4 L198.6 184.0 L198.9 184.0 L199.3 184.5 L199.6 185.4 L199.9 186.8 L200.3 188.6 L200.6 190.8 L201.0 193.4 L201.3 196.5 L201.6 200.0 L202.0 203.9 L202.3 208.2 L202.7 213.0 L203.0 218.2 L203.3 223.8 L203.7 229.9 L204.0 236.4 L204.4 242.5 L204.7 249.3 L205.0 256.0 L205.4 262.5 L205.7 268.5 L206.1 273.6 L206.4 277.9 L206.8 281.7 L207.1 285.1 L207.4 288.7 L207.8 292.4 L208.1 296.3 L208.5 300.2 L208.8 303.0 L209.1 303.2 L209.5 300.7 L209.8 296.8 L210.2 292.7 L210.5 289.0 L210.8 285.6 L211.2 282.8 L211.5 280.3 L211.9 278.2 L212.2 276.4 L212.5 274.9 L212.9 273.7 L213.2 272.7 L213.6 271.9 L213.9 271.3 L214.2 271.0 L214.6 270.8 L214.9 270.8 L215.3 271.1 L215.6 271.5 L215.9 272.3 L216.3 273.4 L216.6 274.7 L217.0 276.2 L217.3 277.9 L217.6 279.9 L218.0 282.2 L218.3 284.8 L218.7 287.8 L219.0 291.1 L219.4 294.9 L219.7 299.1 L220.0 303.7 L220.4 307.9 L220.7 310.3 L221.1 309.7 L221.4 306.8 L221.7 303.0 L222.1 299.3 L222.4 296.0 L222.8 293.2 L223.1 290.7 L223.4 288.7 L223.8 286.9 L224.1 285.4 L224.5 284.1 L224.8 283.1 L225.1 282.3 L225.5 281.6 L225.8 281.1 L226.2 280.6 L226.5 280.3 L226.8 280.2 L227.2 280.2 L227.5 280.4 L227.9 280.8 L228.2 281.4 L228.5 282.3 L228.9 283.3 L229.2 284.6 L229.6 286.2 L229.9 288.1 L230.2 290.3 L230.6 293.0 L230.9 296.2 L231.3 300.1 L231.6 304.9 L232.0 310.8 L232.3 318.2 L232.6 322.0 L233.0 322.0 L233.3 319.0 L233.7 311.9 L234.0 306.1 L234.3 301.5 L234.7 297.7 L235.0 294.7 L235.4 292.2 L235.7 290.0 L236.0 288.3 L236.4 286.7 L236.7 285.5 L237.1 284.4 L237.4 283.5 L237.7 282.8 L238.1 282.2 L238.4 281.8 L238.8 281.5 L239.1 281.4 L239.4 281.5 L239.8 281.7 L240.1 282.0 L240.5 282.5 L240.8 283.3 L241.1 284.2 L241.5 285.4 L241.8 286.8 L242.2 288.6 L242.5 290.7 L242.8 293.3 L243.2 296.5 L243.5 300.6 L243.9 305.8 L244.2 313.0 L244.6 322.0 L244.9 322.0 L245.2 322.0 L245.6 322.0 L245.9 312.6 L246.3 305.2 L246.6 299.8 L246.9 295.6 L247.3 292.3 L247.6 289.5 L248.0 287.3 L248.3 285.4 L248.6 283.8 L249.0 282.5 L249.3 281.5 L249.7 280.7 L250.0 280.0 L250.3 279.6 L250.7 279.3 L251.0 279.2 L251.4 279.2 L251.7 279.4 L252.0 279.7 L252.4 280.1 L252.7 280.7 L253.1 281.4 L253.4 282.3 L253.7 283.3 L254.1 284.5 L254.4 286.0 L254.8 287.8 L255.1 289.8 L255.5 292.3 L255.8 295.4 L256.1 299.0 L256.5 303.5 L256.8 308.7 L257.2 313.8 L257.5 315.6 L257.8 312.1 L258.2 306.2 L258.5 300.5 L258.9 295.7 L259.2 291.6 L259.5 288.1 L259.9 285.3 L260.2 282.8 L260.6 280.8 L260.9 279.1 L261.2 277.7 L261.6 276.6 L261.9 275.8 L262.3 275.2 L262.6 274.8 L262.9 274.6 L263.3 274.6 L263.6 274.8 L264.0 275.2 L264.3 275.8 L264.6 276.4 L265.0 277.2 L265.3 278.0 L265.7 279.0 L266.0 280.2 L266.3 281.4 L266.7 282.8 L267.0 284.2 L267.4 285.7 L267.7 287.2 L268.1 288.7 L268.4 290.1 L268.7 291.4 L269.1 292.3 L269.4 292.7 L269.8 292.4 L270.1 291.4 L270.4 289.8 L270.8 287.6 L271.1 285.2 L271.5 282.6 L271.8 280.1 L272.1 277.7 L272.5 275.4 L272.8 273.3 L273.2 271.5 L273.5 269.8 L273.8 268.4 L274.2 267.2 L274.5 266.3 L274.9 265.9 L275.2 265.7 L275.5 265.7 L275.9 265.9 L276.2 266.4 L276.6 267.1 L276.9 268.1 L277.2 269.4 L277.6 270.9 L277.9 272.7 L278.3 274.8 L278.6 277.2 L278.9 279.9 L279.3 282.8 L279.6 285.6 L280.0 288.1 L280.3 289.8 L280.7 290.3 L281.0 289.7 L281.3 288.3 L281.7 286.4 L282.0 284.5 L282.4 282.6 L282.7 280.8 L283.0 278.9 L283.4 276.8 L283.7 274.0 L284.1 270.2 L284.4 265.4 L284.7 259.6 L285.1 253.2 L285.4 246.6 L285.8 240.0 L286.1 234.1 L286.4 227.9 L286.8 222.1 L287.1 216.7 L287.5 211.7 L287.8 207.2 L288.1 203.0 L288.5 199.3 L288.8 195.9 L289.2 193.0 L289.5 190.5 L289.8 188.4 L290.2 186.7 L290.5 185.4 L290.9 184.5 L291.2 184.0 L291.5 184.0 L291.9 184.3 L292.2 185.1 L292.6 186.3 L292.9 187.9 L293.3 189.9 L293.6 192.3 L293.9 195.1 L294.3 198.3 L294.6 201.9 L295.0 206.0 L295.3 210.4 L295.6 215.3 L296.0 220.6 L296.3 226.3 L296.7 232.4 L297.0 238.3 L297.3 244.9 L297.7 251.6 L298.0 258.4 L298.4 265.1 L298.7 271.5 L299.0 277.4 L299.4 282.9 L299.7 287.7 L300.1 291.9 L300.4 294.9 L300.7 296.3 L301.1 296.0 L301.4 294.4 L301.8 292.3 L302.1 290.1 L302.4 287.9 L302.8 286.0 L303.1 284.3 L303.5 282.7 L303.8 281.3 L304.2 280.0 L304.5 278.8 L304.8 277.7 L305.2 276.6 L305.5 275.6 L305.9 274.6 L306.2 273.8 L306.5 273.0 L306.9 272.3 L307.2 271.7 L307.6 271.3 L307.9 271.0 L308.2 270.9 L308.6 271.0 L308.9 271.5 L309.3 272.3 L309.6 273.2 L309.9 274.4 L310.3 275.9 L310.6 277.6 L311.0 279.7 L311.3 282.2 L311.6 285.1 L312.0 288.5 L312.3 292.6 L312.7 297.4 L313.0 303.1 L313.3 309.4 L313.7 314.4 L314.0 314.3 L314.4 309.8 L314.7 304.5 L315.0 300.0 L315.4 296.2 L315.7 293.2 L316.1 290.8 L316.4 288.7 L316.8 287.1 L317.1 285.7 L317.4 284.5 L317.8 283.6 L318.1 282.8 L318.5 282.1 L318.8 281.4 L319.1 280.7 L319.5 280.2 L319.8 279.8 L320.2 279.6 L320.5 279.4 L320.8 279.4 L321.2 279.5 L321.5 279.7 L321.9 280.1 L322.2 280.7 L322.5 281.5 L322.9 282.5 L323.2 283.7 L323.6 285.2 L323.9 287.1 L324.2 289.3 L324.6 292.0 L324.9 295.3 L325.3 299.5 L325.6 304.8 L325.9 311.9 L326.3 322.0 L326.6 322.0 L327.0 322.0 L327.3 322.0 L327.6 312.0 L328.0 305.1 L328.3 300.0 L328.7 296.1 L329.0 292.9 L329.4 290.4 L329.7 288.2 L330.0 286.4 L330.4 284.9 L330.7 283.6 L331.1 282.6 L331.4 281.7 L331.7 281.0 L332.1 280.5 L332.4 280.1 L332.8 279.8 L333.1 279.7 L333.4 279.7 L333.8 279.8 L334.1 280.1 L334.5 280.5 L334.8 281.0 L335.1 281.7 L335.5 282.6 L335.8 283.7 L336.2 285.1 L336.5 286.7 L336.8 288.6 L337.2 290.9 L337.5 293.8 L337.9 297.2 L338.2 301.6 L338.5 307.3 L338.9 315.2 L339.2 322.0 L339.6 322.0 L339.9 322.0 L340.2 318.6 L340.6 309.3 L340.9 302.9 L341.3 298.0 L341.6 294.1 L342.0 290.9 L342.3 288.3 L342.6 286.2 L343.0 284.4 L343.3 282.9 L343.7 281.6 L344.0 280.6 L344.3 279.7 L344.7 279.1 L345.0 278.6 L345.4 278.3 L345.7 278.2 L346.0 278.2 L346.4 278.3 L346.7 278.6 L347.1 279.0 L347.4 279.5 L347.7 280.2 L348.1 281.1 L348.4 282.1 L348.8 283.4 L349.1 284.8 L349.4 286.6 L349.8 288.6 L350.1 291.0 L350.5 294.0 L350.8 297.5 L351.1 301.9 L351.5 307.5 L351.8 314.6 L352.2 322.0 L352.5 322.0 L352.9 317.8 L353.2 309.7 L353.5 303.1 L353.9 297.9 L354.2 293.8 L354.6 290.3 L354.9 287.5 L355.2 285.1 L355.6 283.1 L355.9 281.4 L356.3 280.0 L356.6 278.8 L356.9 277.9 L357.3 277.2 L357.6 276.7 L358.0 276.3 L358.3 276.1 L358.6 276.1 L359.0 276.3 L359.3 276.6 L359.7 277.0 L360.0 277.6 L360.3 278.4 L360.7 279.3 L361.0 280.2 L361.4 281.2 L361.7 282.4 L362.0 283.9 L362.4 285.5 L362.7 287.5 L363.1 289.8 L363.4 292.4 L363.7 295.5 L364.1 299.1 L364.4 303.1 L364.8 306.8 L365.1 308.7 L365.5 307.4 L365.8 303.5 L366.1 298.7 L366.5 294.2 L366.8 290.1 L367.2 286.5 L367.5 283.4 L367.8 280.7 L368.2 278.3 L368.5 276.3 L368.9 274.5 L369.2 273.0 L369.5 271.7 L369.9 270.7 L370.2 269.8 L370.6 269.2 L370.9 268.9 L371.2 268.9 L371.6 269.1 L371.9 269.5 L372.3 270.1 L372.6 270.8"/>
<path stroke="#008B8B" d="M56.9 276.2 L57.2 275.4 L57.6 275.0 L57.9 274.9 L58.3 275.1 L58.6 275.7 L58.9 276.6 L59.3 277.8 L59.6 279.5 L60.0 281.5 L60.3 283.9 L60.7 286.9 L61.0 290.8 L61.3 295.9 L61.7 302.9 L62.0 313.5 L62.4 322.0 L62.7 322.0 L63.0 314.0 L63.4 303.3 L63.7 296.4 L64.1 291.3 L64.4 287.5 L64.7 284.5 L65.1 282.2 L65.4 280.3 L65.8 279.0 L66.1 278.0 L66.4 277.3 L66.8 277.0 L67.1 277.0 L67.5 277.3 L67.8 278.0 L68.1 278.9 L68.5 280.2 L68.8 281.9 L69.2 284.0 L69.5 286.7 L69.8 290.0 L70.2 294.0 L70.5 299.0 L70.9 305.1 L71.2 311.6 L71.5 314.6 L71.9 310.7 L72.2 304.3 L72.6 298.5 L72.9 293.8 L73.3 290.0 L73.6 287.0 L73.9 284.5 L74.3 282.6 L74.6 281.0 L75.0 279.9 L75.3 279.1 L75.6 278.6 L76.0 278.3 L76.3 278.4 L76.7 278.7 L77.0 279.3 L77.3 280.2 L77.7 281.4 L78.0 283.1 L78.4 285.1 L78.7 287.7 L79.0 290.9 L79.4 294.9 L79.7 299.8 L80.1 305.7 L80.4 311.8 L80.7 314.1 L81.1 309.9 L81.4 303.5 L81.8 297.8 L82.1 293.1 L82.4 289.2 L82.8 286.1 L83.1 283.6 L83.5 281.6 L83.8 280.0 L84.1 278.8 L84.5 277.9 L84.8 277.4 L85.2 277.2 L85.5 277.2 L85.9 277.6 L86.2 278.4 L86.5 279.4 L86.9 280.9 L87.2 282.9 L87.6 285.3 L87.9 288.5 L88.2 292.7 L88.6 298.2 L88.9 306.0 L89.3 318.5 L89.6 322.0 L89.9 322.0 L90.3 310.3 L90.6 300.9 L91.0 294.5 L91.3 289.7 L91.6 286.1 L92.0 283.3 L92.3 281.0 L92.7 279.1 L93.0 277.6 L93.3 276.4 L93.7 275.7 L94.0 275.2 L94.4 275.1 L94.7 275.3 L95.0 275.8 L95.4 276.7 L95.7 278.0 L96.1 279.8 L96.4 282.0 L96.7 284.9 L97.1 288.5 L97.4 293.1 L97.8 298.9 L98.1 305.3 L98.5 309.3 L98.8 306.0 L99.1 299.3 L99.5 293.0 L99.8 287.9 L100.2 283.7 L100.5 280.4 L100.8 277.6 L101.2 275.4 L101.5 273.6 L101.9 272.2 L102.2 271.1 L102.5 270.6 L102.9 270.4 L103.2 270.5 L103.6 270.9 L103.9 271.5 L104.2 272.4 L104.6 273.6 L104.9 275.1 L105.3 276.8 L105.6 278.9 L105.9 281.4 L106.3 284.1 L106.6 287.0 L107.0 290.0 L107.3 292.3 L107.6 293.5 L108.0 292.9 L108.3 290.9 L108.7 288.2 L109.0 285.3 L109.4 282.5 L109.7 280.1 L110.0 278.0 L110.4 276.1 L110.7 274.5 L111.1 273.1 L111.4 271.8 L111.7 270.2 L112.1 268.0 L112.4 264.7 L112.8 260.0 L113.1 254.1 L113.4 247.5 L113.8 240.7 L114.1 234.3 L114.5 227.8 L114.8 221.7 L115.1 216.0 L115.5 210.8 L115.8 206.0 L116.2 201.7 L116.5 197.9 L116.8 194.4 L117.2 191.5 L117.5 188.9 L117.9 186.8 L118.2 185.2 L118.5 184.0 L118.9 183.2 L119.2 182.9 L119.6 183.1 L119.9 183.7 L120.2 184.7 L120.6 186.2 L120.9 188.1 L121.3 190.5 L121.6 193.3 L122.0 196.6 L122.3 200.3 L122.6 204.4 L123.0 209.0 L123.3 214.1 L123.7 219.6 L124.0 225.5 L124.3 231.9 L124.7 238.7 L125.0 244.9 L125.4 251.7 L125.7 257.9 L126.0 263.1 L126.4 267.0 L126.7 269.4 L127.1 271.0 L127.4 272.1 L127.7 273.2 L128.1 274.3 L128.4 275.8 L128.8 277.5 L129.1 279.7 L129.4 282.4 L129.8 285.9 L130.1 290.1 L130.5 295.5 L130.8 301.9 L131.1 307.2 L131.5 306.2 L131.8 299.8 L132.2 293.2 L132.5 287.7 L132.8 283.2 L133.2 279.6 L133.5 276.6 L133.9 274.2 L134.2 272.3 L134.6 270.7 L134.9 269.5 L135.2 268.6 L135.6 268.1 L135.9 267.7 L136.3 267.7 L136.6 268.1 L136.9 268.8 L137.3 269.8 L137.6 271.0 L138.0 272.4 L138.3 274.1 L138.6 276.0 L139.0 278.2 L139.3 280.5 L139.7 283.0 L140.0 285.5 L140.3 288.0 L140.7 290.2 L141.0 291.8 L141.4 292.7 L141.7 292.8 L142.0 292.1 L142.4 290.9 L142.7 289.4 L143.1 287.9 L143.4 286.3 L143.7 284.8 L144.1 283.4 L144.4 282.2 L144.8 281.0 L145.1 279.9 L145.4 279.0 L145.8 278.2 L146.1 277.5 L146.5 276.9 L146.8 276.3 L147.2 275.9 L147.5 275.7 L147.8 275.7 L148.2 275.8 L148.5 276.2 L148.9 276.8 L149.2 277.7 L149.5 278.9 L149.9 280.5 L150.2 282.4 L150.6 284.8 L150.9 287.8 L151.2 291.5 L151.6 296.3 L151.9 302.9 L152.3 312.5 L152.6 322.0 L152.9 322.0 L153.3 321.0 L153.6 308.1 L154.0 300.3 L154.3 294.7 L154.6 290.5 L155.0 287.2 L155.3 284.6 L155.7 282.6 L156.0 280.9 L156.3 279.6 L156.7 278.7 L157.0 278.0 L157.4 277.5 L157.7 277.3 L158.1 277.2 L158.4 277.4 L158.7 277.7 L159.1 278.3 L159.4 279.0 L159.8 280.0 L160.1 281.1 L160.4 282.5 L160.8 284.0 L161.1 285.8 L161.5 287.9 L161.8 290.3 L162.1 292.9 L162.5 295.9 L162.8 299.2 L163.2 302.4 L163.5 305.1 L163.8 306.5 L164.2 305.8 L164.5 303.4 L164.9 300.1 L165.2 296.8 L165.5 293.6 L165.9 290.8 L166.2 288.2 L166.6 286.1 L166.9 284.2 L167.2 282.6 L167.6 281.3 L167.9 280.2 L168.3 279.3 L168.6 278.7 L168.9 278.3 L169.3 278.1 L169.6 278.1 L170.0 278.4 L170.3 278.9 L170.7 279.6 L171.0 280.6 L171.3 281.9 L171.7 283.4 L172.0 285.4 L172.4 287.9 L172.7 290.8 L173.0 294.6 L173.4 299.3 L173.7 305.5 L174.1 314.1 L174.4 322.0 L174.7 322.0 L175.1 321.4 L175.4 310.5 L175.8 303.1 L176.1 297.6 L176.4 293.4 L176.8 290.0 L177.1 287.3 L177.5 285.1 L177.8 283.3 L178.1 281.8 L178.5 280.6 L178.8 279.6 L179.2 278.9 L179.5 278.5 L179.8 278.2 L180.2 278.1 L180.5 278.2 L180.9 278.5 L181.2 279.0 L181.5 279.5 L181.9 280.2 L182.2 281.2 L182.6 282.3 L182.9 283.8 L183.3 285.6 L183.6 287.7 L183.9 290.4 L184.3 293.6 L184.6 297.5 L185.0 302.3 L185.3 307.7 L185.6 312.5 L186.0 312.9 L186.3 308.2 L186.7 302.0 L187.0 296.5 L187.3 291.8 L187.7 287.9 L188.0 284.5 L188.4 281.7 L188.7 279.3 L189.0 277.3 L189.4 275.6 L189.7 274.2 L190.1 273.0 L190.4 272.1 L190.7 271.4 L191.1 271.0 L191.4 270.9 L191.8 271.2 L192.1 271.7 L192.4 272.4 L192.8 273.4 L193.1 274.7 L193.5 276.3 L193.8 278.2 L194.1 280.5 L194.5 283.3 L194.8 286.7 L195.2 290.9 L195.5 296.0 L195.9 302.4 L196.2 309.7 L196.5 314.3 L196.9 310.8 L197.2 303.7 L197.6 297.3 L197.9 292.2 L198.2 288.0 L198.6 284.7 L198.9 281.9 L199.3 279.6 L199.6 277.6 L199.9 275.8 L200.3 274.0 L200.6 271.8 L201.0 269.0 L201.3 265.1 L201.6 260.0 L202.0 253.9 L202.3 247.3 L202.7 240.7 L203.0 234.5 L203.3 228.1 L203.7 222.1 L204.0 216.5 L204.4 211.4 L204.7 206.7 L205.0 202.4 L205.4 198.5 L205.7 195.1 L206.1 192.1 L206.4 189.5 L206.8 187.3 L207.1 185.6 L207.4 184.3 L207.8 183.4 L208.1 183.0 L208.5 183.0 L208.8 183.4 L209.1 184.2 L209.5 185.5 L209.8 187.2 L210.2 189.3 L210.5 191.8 L210.8 194.8 L211.2 198.2 L211.5 202.0 L211.9 206.3 L212.2 210.9 L212.5 216.0 L212.9 221.6 L213.2 227.5 L213.6 233.9 L213.9 240.0 L214.2 246.6 L214.6 253.0 L214.9 259.0 L215.3 264.1 L215.6 268.1 L215.9 271.1 L216.3 273.3 L216.6 275.2 L217.0 277.0 L217.3 278.8 L217.6 280.8 L218.0 283.0 L218.3 285.4 L218.7 287.9 L219.0 290.5 L219.4 292.8 L219.7 294.6 L220.0 295.2 L220.4 294.5 L220.7 292.6 L221.1 290.0 L221.4 287.1 L221.7 284.3 L222.1 281.6 L222.4 279.2 L222.8 277.0 L223.1 275.0 L223.4 273.3 L223.8 271.8 L224.1 270.5 L224.5 269.4 L224.8 268.5 L225.1 267.9 L225.5 267.6 L225.8 267.6 L226.2 267.9 L226.5 268.4 L226.8 269.2 L227.2 270.2 L227.5 271.4 L227.9 273.0 L228.2 274.9 L228.5 277.2 L228.9 279.9 L229.2 283.1 L229.6 286.9 L229.9 291.4 L230.2 296.6 L230.6 302.0 L230.9 305.7 L231.3 305.3 L231.6 301.4 L232.0 296.8 L232.3 292.7 L232.6 289.2 L233.0 286.4 L233.3 284.1 L233.7 282.3 L234.0 280.9 L234.3 279.7 L234.7 278.8 L235.0 278.1 L235.4 277.5 L235.7 276.9 L236.0 276.5 L236.4 276.2 L236.7 276.0 L237.1 275.8 L237.4 275.8 L237.7 275.9 L238.1 276.0 L238.4 276.3 L238.8 276.7 L239.1 277.3 L239.4 278.1 L239.8 279.0 L240.1 280.2 L240.5 281.8 L240.8 283.6 L241.1 285.9 L241.5 288.8 L241.8 292.4 L242.2 296.9 L242.5 302.6 L242.8 309.9 L243.2 317.2 L243.5 317.3 L243.9 309.9 L244.2 302.5 L244.6 296.5 L244.9 291.9 L245.2 288.2 L245.6 285.2 L245.9 282.8 L246.3 281.0 L246.6 279.4 L246.9 278.3 L247.3 277.4 L247.6 276.8 L248.0 276.5 L248.3 276.4 L248.6 276.6 L249.0 277.0 L249.3 277.6 L249.7 278.4 L250.0 279.3 L250.3 280.4 L250.7 281.7 L251.0 283.1 L251.4 284.6 L251.7 286.2 L252.0 287.8 L252.4 289.4 L252.7 291.0 L253.1 292.5 L253.4 293.8 L253.7 295.0 L254.1 295.9 L254.4 296.6 L254.8 296.9 L255.1 296.7 L255.5 296.2 L255.8 295.2 L256.1 294.0 L256.5 292.4 L256.8 290.7 L257.2 289.0 L257.5 287.2 L257.8 285.6 L258.2 284.0 L258.5 282.7 L258.9 281.5 L259.2 280.4 L259.5 279.6 L259.9 279.0 L260.2 278.6 L260.6 278.4 L260.9 278.5 L261.2 278.8 L261.6 279.3 L261.9 280.1 L262.3 281.2 L262.6 282.6 L262.9 284.3 L263.3 286.4 L263.6 289.0 L264.0 292.1 L264.3 295.9 L264.6 300.5 L265.0 306.2 L265.3 312.7 L265.7 317.9 L266.0 317.2 L266.3 311.6 L266.7 305.6 L267.0 300.5 L267.4 296.4 L267.7 293.1 L268.1 290.4 L268.4 288.2 L268.7 286.3 L269.1 284.8 L269.4 283.6 L269.8 282.6 L270.1 281.7 L270.4 281.1 L270.8 280.5 L271.1 280.2 L271.5 279.9 L271.8 279.8 L272.1 279.8 L272.5 279.9 L272.8 280.2 L273.2 280.6 L273.5 281.1 L273.8 281.8 L274.2 282.6 L274.5 283.5 L274.9 284.7 L275.2 286.2 L275.5 288.1 L275.9 290.5 L276.2 293.4 L276.6 297.1 L276.9 301.7 L277.2 307.5 L277.6 314.3 L277.9 318.3 L278.3 314.4 L278.6 307.0 L278.9 300.3 L279.3 294.8 L279.6 290.3 L280.0 286.6 L280.3 283.5 L280.7 280.9 L281.0 278.8 L281.3 276.9 L281.7 275.4 L282.0 274.2 L282.4 273.2 L282.7 272.4 L283.0 271.9 L283.4 271.6 L283.7 271.4 L284.1 271.7 L284.4 272.2 L284.7 273.0 L285.1 273.9 L285.4 275.1 L285.8 276.4 L286.1 278.0 L286.4 279.9 L286.8 282.0 L287.1 284.5 L287.5 287.3 L287.8 290.5 L288.1 293.9 L288.5 297.5 L288.8 300.6 L289.2 302.2 L289.5 301.5 L289.8 298.9 L290.2 295.4 L290.5 291.8 L290.9 288.4 L291.2 285.4 L291.5 282.7 L291.9 280.3 L292.2 278.1 L292.6 275.9 L292.9 273.4 L293.3 270.5 L293.6 266.7 L293.9 261.9 L294.3 256.2 L294.6 250.0 L295.0 243.5 L295.3 237.0 L295.6 231.1 L296.0 225.1 L296.3 219.4 L296.7 214.1 L297.0 209.3 L297.3 204.9 L297.7 200.8 L298.0 197.2 L298.4 194.0 L298.7 191.2 L299.0 188.8 L299.4 186.8 L299.7 185.2 L300.1 184.1 L300.4 183.3 L300.7 183.0 L301.1 183.0 L301.4 183.5 L301.8 184.4 L302.1 185.6 L302.4 187.3 L302.8 189.4 L303.1 191.9 L303.5 194.8 L303.8 198.2 L304.2 201.9 L304.5 206.0 L304.8 210.6 L305.2 215.5 L305.5 220.9 L305.9 226.7 L306.2 232.9 L306.5 238.7 L306.9 245.1 L307.2 251.4 L307.6 257.3 L307.9 262.4 L308.2 266.5 L308.6 269.6 L308.9 272.0 L309.3 274.0 L309.6 276.0 L309.9 278.1 L310.3 280.5 L310.6 283.3 L311.0 286.8 L311.3 291.0 L311.6 296.3 L312.0 303.0 L312.3 310.6 L312.7 314.2 L313.0 308.5 L313.3 300.6 L313.7 294.0 L314.0 288.7 L314.4 284.4 L314.7 280.9 L315.0 278.0 L315.4 275.6 L315.7 273.6 L316.1 271.9 L316.4 270.4 L316.8 269.3 L317.1 268.4 L317.4 267.7 L317.8 267.2 L318.1 267.0 L318.5 267.2 L318.8 267.6 L319.1 268.1 L319.5 268.8 L319.8 269.7 L320.2 270.8 L320.5 272.0 L320.8 273.5 L321.2 275.2 L321.5 277.1 L321.9 279.2 L322.2 281.7 L322.5 284.4 L322.9 287.4 L323.2 290.8 L323.6 294.5 L323.9 298.3 L324.2 301.7 L324.6 303.7 L324.9 303.5 L325.3 301.4 L325.6 298.4 L325.9 295.1 L326.3 292.0 L326.6 289.3 L327.0 286.9 L327.3 284.8 L327.6 283.1 L328.0 281.4 L328.3 279.9 L328.7 278.7 L329.0 277.6 L329.4 276.8 L329.7 276.1 L330.0 275.7 L330.4 275.4 L330.7 275.3 L331.1 275.4 L331.4 275.7 L331.7 276.2 L332.1 276.9 L332.4 277.8 L332.8 279.0 L333.1 280.5 L333.4 282.2 L333.8 284.2 L334.1 286.6 L334.5 289.4 L334.8 292.7 L335.1 296.5 L335.5 300.9 L335.8 305.6 L336.2 309.8 L336.5 311.6 L336.8 310.0 L337.2 306.3 L337.5 302.2 L337.9 298.5 L338.2 295.3 L338.5 292.6 L338.9 290.3 L339.2 288.4 L339.6 286.7 L339.9 285.3 L340.2 284.1 L340.6 283.1 L340.9 282.2 L341.3 281.5 L341.6 280.9 L342.0 280.4 L342.3 280.1 L342.6 279.9 L343.0 279.8 L343.3 279.8 L343.7 279.9 L344.0 280.2 L344.3 280.7 L344.7 281.4 L345.0 282.2 L345.4 283.3 L345.7 284.7 L346.0 286.4 L346.4 288.5 L346.7 291.0 L347.1 294.2 L347.4 298.1 L347.7 303.2 L348.1 310.1 L348.4 320.5 L348.8 322.0 L349.1 322.0 L349.4 322.0 L349.8 312.6 L350.1 305.0 L350.5 299.7 L350.8 295.5 L351.1 292.3 L351.5 289.7 L351.8 287.7 L352.2 286.0 L352.5 284.7 L352.9 283.7 L353.2 282.9 L353.5 282.3 L353.9 282.0 L354.2 281.8 L354.6 281.8 L354.9 281.9 L355.2 282.1 L355.6 282.4 L355.9 282.8 L356.3 283.2 L356.6 283.8 L356.9 284.4 L357.3 285.0 L357.6 285.8 L358.0 286.7 L358.3 287.7 L358.6 288.9 L359.0 290.2 L359.3 291.9 L359.7 293.8 L360.0 296.1 L360.3 298.8 L360.7 302.0 L361.0 305.5 L361.4 308.8 L361.7 310.8 L362.0 310.2 L362.4 307.0 L362.7 302.9 L363.1 298.7 L363.4 294.9 L363.7 291.7 L364.1 288.9 L364.4 286.5 L364.8 284.6 L365.1 282.9 L365.5 281.6 L365.8 280.6 L366.1 279.8 L366.5 279.3 L366.8 279.0 L367.2 279.0 L367.5 279.2 L367.8 279.6 L368.2 280.2 L368.5 281.0 L368.9 281.9 L369.2 283.1 L369.5 284.4 L369.9 285.8 L370.2 287.3 L370.6 288.6 L370.9 290.0 L371.2 291.3 L371.6 292.4 L371.9 293.4 L372.3 294.1 L372.6 294.5"/>
<path stroke="#006400" d="M56.9 268.4 L57.2 267.9 L57.6 267.7 L57.9 267.7 L58.3 267.9 L58.6 268.3 L58.9 269.0 L59.3 270.0 L59.6 271.4 L60.0 273.3 L60.3 275.5 L60.7 278.1 L61.0 281.2 L61.3 285.0 L61.7 289.5 L62.0 295.0 L62.4 301.7 L62.7 308.9 L63.0 312.4 L63.4 308.5 L63.7 302.0 L64.1 296.4 L64.4 291.9 L64.7 288.4 L65.1 285.6 L65.4 283.4 L65.8 281.7 L66.1 280.3 L66.4 279.2 L66.8 278.4 L67.1 277.9 L67.5 277.6 L67.8 277.4 L68.1 277.5 L68.5 277.7 L68.8 278.0 L69.2 278.5 L69.5 279.0 L69.8 279.6 L70.2 280.2 L70.5 281.1 L70.9 282.1 L71.2 283.2 L71.5 284.6 L71.9 286.1 L72.2 287.9 L72.6 290.0 L72.9 292.4 L73.3 295.2 L73.6 298.4 L73.9 301.8 L74.3 305.3 L74.6 307.9 L75.0 308.5 L75.3 306.7 L75.6 303.4 L76.0 299.7 L76.3 296.2 L76.7 293.1 L77.0 290.4 L77.3 288.1 L77.7 286.1 L78.0 284.6 L78.4 283.3 L78.7 282.3 L79.0 281.6 L79.4 281.1 L79.7 280.9 L80.1 281.0 L80.4 281.3 L80.7 281.8 L81.1 282.6 L81.4 283.7 L81.8 285.1 L82.1 286.7 L82.4 288.7 L82.8 291.1 L83.1 293.9 L83.5 297.1 L83.8 300.7 L84.1 304.5 L84.5 308.0 L84.8 310.2 L85.2 310.1 L85.5 308.0 L85.9 304.8 L86.2 301.6 L86.5 298.6 L86.9 296.1 L87.2 293.9 L87.6 292.0 L87.9 290.4 L88.2 289.1 L88.6 288.0 L88.9 287.1 L89.3 286.4 L89.6 285.7 L89.9 285.2 L90.3 284.8 L90.6 284.5 L91.0 284.3 L91.3 284.1 L91.6 284.1 L92.0 284.1 L92.3 284.3 L92.7 284.6 L93.0 285.1 L93.3 285.8 L93.7 286.7 L94.0 287.9 L94.4 289.4 L94.7 291.3 L95.0 293.5 L95.4 296.3 L95.7 299.8 L96.1 304.1 L96.4 309.1 L96.7 314.3 L97.1 317.1 L97.4 314.6 L97.8 309.1 L98.1 303.4 L98.5 298.6 L98.8 294.5 L99.1 291.2 L99.5 288.4 L99.8 286.1 L100.2 284.2 L100.5 282.7 L100.8 281.5 L101.2 280.6 L101.5 280.0 L101.9 279.6 L102.2 279.2 L102.5 279.1 L102.9 279.3 L103.2 279.6 L103.6 280.3 L103.9 281.1 L104.2 282.2 L104.6 283.6 L104.9 285.3 L105.3 287.2 L105.6 289.4 L105.9 291.8 L106.3 294.3 L106.6 296.6 L107.0 298.4 L107.3 299.2 L107.6 298.7 L108.0 297.0 L108.3 294.6 L108.7 291.9 L109.0 289.2 L109.4 286.7 L109.7 284.3 L110.0 282.1 L110.4 280.1 L110.7 278.3 L111.1 276.7 L111.4 275.2 L111.7 273.9 L112.1 273.0 L112.4 272.2 L112.8 271.6 L113.1 271.2 L113.4 270.9 L113.8 270.8 L114.1 270.9 L114.5 271.1 L114.8 271.5 L115.1 272.2 L115.5 273.1 L115.8 274.3 L116.2 275.9 L116.5 277.8 L116.8 280.1 L117.2 283.0 L117.5 286.7 L117.9 291.4 L118.2 297.7 L118.5 306.5 L118.9 319.0 L119.2 322.0 L119.6 309.4 L119.9 299.2 L120.2 291.8 L120.6 285.9 L120.9 280.8 L121.3 275.9 L121.6 270.8 L122.0 265.0 L122.3 258.7 L122.6 252.0 L123.0 245.2 L123.3 238.4 L123.7 232.3 L124.0 225.9 L124.3 219.9 L124.7 214.4 L125.0 209.3 L125.4 204.7 L125.7 200.5 L126.0 196.8 L126.4 193.5 L126.7 190.7 L127.1 188.3 L127.4 186.3 L127.7 184.8 L128.1 183.7 L128.4 183.1 L128.8 182.9 L129.1 183.2 L129.4 183.9 L129.8 185.1 L130.1 186.6 L130.5 188.7 L130.8 191.2 L131.1 194.1 L131.5 197.5 L131.8 201.3 L132.2 205.5 L132.5 210.2 L132.8 215.4 L133.2 221.0 L133.5 227.0 L133.9 233.5 L134.2 239.7 L134.6 246.5 L134.9 253.4 L135.2 260.1 L135.6 266.2 L135.9 271.7 L136.3 276.4 L136.6 280.6 L136.9 284.5 L137.3 288.6 L137.6 293.0 L138.0 297.5 L138.3 301.4 L138.6 302.9 L139.0 300.7 L139.3 296.6 L139.7 292.0 L140.0 287.9 L140.3 284.3 L140.7 281.2 L141.0 278.6 L141.4 276.4 L141.7 274.5 L142.0 272.9 L142.4 271.6 L142.7 270.5 L143.1 269.6 L143.4 269.0 L143.7 268.6 L144.1 268.4 L144.4 268.3 L144.8 268.5 L145.1 268.9 L145.4 269.5 L145.8 270.3 L146.1 271.7 L146.5 273.3 L146.8 275.2 L147.2 277.4 L147.5 280.0 L147.8 283.0 L148.2 286.6 L148.5 291.0 L148.9 296.2 L149.2 302.8 L149.5 310.6 L149.9 317.5 L150.2 316.2 L150.6 309.2 L150.9 302.6 L151.2 297.4 L151.6 293.3 L151.9 290.0 L152.3 287.4 L152.6 285.3 L152.9 283.6 L153.3 282.2 L153.6 281.1 L154.0 280.3 L154.3 279.7 L154.6 279.3 L155.0 279.0 L155.3 279.0 L155.7 279.1 L156.0 279.2 L156.3 279.4 L156.7 279.9 L157.0 280.4 L157.4 281.2 L157.7 282.2 L158.1 283.4 L158.4 284.8 L158.7 286.5 L159.1 288.5 L159.4 290.8 L159.8 293.7 L160.1 297.1 L160.4 301.3 L160.8 306.5 L161.1 313.3 L161.5 322.0 L161.8 322.0 L162.1 322.0 L162.5 317.7 L162.8 310.0 L163.2 304.2 L163.5 299.7 L163.8 296.1 L164.2 293.2 L164.5 290.8 L164.9 288.8 L165.2 287.2 L165.5 285.9 L165.9 284.9 L166.2 284.1 L166.6 283.6 L166.9 283.3 L167.2 283.2 L167.6 283.2 L167.9 283.5 L168.3 283.9 L168.6 284.6 L168.9 285.5 L169.3 286.5 L169.6 287.8 L170.0 289.3 L170.3 291.1 L170.7 293.1 L171.0 295.5 L171.3 298.1 L171.7 301.1 L172.0 304.4 L172.4 307.8 L172.7 310.9 L173.0 313.1 L173.4 313.6 L173.7 312.1 L174.1 309.4 L174.4 306.2 L174.7 303.1 L175.1 300.2 L175.4 297.6 L175.8 295.2 L176.1 293.2 L176.4 291.4 L176.8 289.8 L177.1 288.4 L177.5 287.2 L177.8 286.2 L178.1 285.4 L178.5 284.8 L178.8 284.3 L179.2 283.9 L179.5 283.8 L179.8 283.8 L180.2 284.0 L180.5 284.4 L180.9 285.1 L181.2 285.9 L181.5 287.1 L181.9 288.5 L182.2 290.3 L182.6 292.6 L182.9 295.4 L183.3 298.9 L183.6 303.4 L183.9 309.4 L184.3 318.0 L184.6 322.0 L185.0 322.0 L185.3 322.0 L185.6 315.4 L186.0 307.3 L186.3 301.5 L186.7 297.0 L187.0 293.5 L187.3 290.6 L187.7 288.3 L188.0 286.4 L188.4 284.8 L188.7 283.5 L189.0 282.5 L189.4 281.7 L189.7 281.2 L190.1 280.8 L190.4 280.5 L190.7 280.5 L191.1 280.6 L191.4 280.6 L191.8 280.7 L192.1 280.9 L192.4 281.3 L192.8 281.7 L193.1 282.3 L193.5 283.0 L193.8 283.8 L194.1 284.8 L194.5 285.9 L194.8 287.2 L195.2 288.7 L195.5 290.4 L195.9 292.3 L196.2 294.3 L196.5 296.3 L196.9 297.7 L197.2 298.1 L197.6 297.1 L197.9 294.8 L198.2 291.7 L198.6 288.3 L198.9 285.0 L199.3 281.9 L199.6 279.2 L199.9 276.7 L200.3 274.5 L200.6 272.6 L201.0 271.0 L201.3 269.8 L201.6 269.0 L202.0 268.4 L202.3 268.1 L202.7 268.0 L203.0 268.1 L203.3 268.5 L203.7 269.2 L204.0 270.1 L204.4 271.3 L204.7 272.8 L205.0 274.6 L205.4 276.7 L205.7 279.2 L206.1 282.1 L206.4 285.3 L206.8 288.7 L207.1 291.8 L207.4 293.8 L207.8 294.0 L208.1 292.5 L208.5 289.9 L208.8 286.9 L209.1 284.1 L209.5 281.4 L209.8 278.7 L210.2 276.0 L210.5 272.8 L210.8 268.7 L211.2 263.7 L211.5 257.7 L211.9 251.3 L212.2 244.6 L212.5 237.9 L212.9 231.9 L213.2 225.7 L213.6 219.8 L213.9 214.5 L214.2 209.5 L214.6 205.0 L214.9 200.8 L215.3 197.2 L215.6 193.9 L215.9 191.1 L216.3 188.6 L216.6 186.6 L217.0 185.1 L217.3 183.9 L217.6 183.2 L218.0 182.9 L218.3 183.1 L218.7 183.6 L219.0 184.6 L219.4 186.0 L219.7 187.9 L220.0 190.1 L220.4 192.8 L220.7 195.9 L221.1 199.5 L221.4 203.4 L221.7 207.8 L222.1 212.6 L222.4 217.8 L222.8 223.5 L223.1 229.6 L223.4 236.1 L223.8 242.0 L224.1 248.7 L224.5 255.3 L224.8 261.6 L225.1 267.4 L225.5 272.7 L225.8 277.6 L226.2 282.5 L226.5 287.9 L226.8 294.7 L227.2 304.1 L227.5 320.5 L227.9 322.0 L228.2 316.1 L228.5 302.3 L228.9 294.1 L229.2 288.3 L229.6 284.0 L229.9 280.6 L230.2 277.9 L230.6 275.7 L230.9 274.0 L231.3 272.6 L231.6 271.4 L232.0 270.6 L232.3 269.9 L232.6 269.5 L233.0 269.2 L233.3 269.1 L233.7 269.2 L234.0 269.4 L234.3 269.7 L234.7 270.2 L235.0 270.8 L235.4 271.7 L235.7 272.8 L236.0 274.1 L236.4 275.5 L236.7 277.1 L237.1 278.8 L237.4 280.8 L237.7 283.0 L238.1 285.6 L238.4 288.4 L238.8 291.6 L239.1 295.2 L239.4 299.2 L239.8 303.0 L240.1 305.9 L240.5 306.5 L240.8 304.6 L241.1 301.2 L241.5 297.6 L241.8 294.3 L242.2 291.4 L242.5 288.9 L242.8 286.7 L243.2 285.0 L243.5 283.5 L243.9 282.4 L244.2 281.5 L244.6 280.8 L244.9 280.4 L245.2 280.0 L245.6 279.8 L245.9 279.7 L246.3 279.9 L246.6 280.2 L246.9 280.8 L247.3 281.5 L247.6 282.4 L248.0 283.6 L248.3 284.9 L248.6 286.5 L249.0 288.4 L249.3 290.5 L249.7 292.9 L250.0 295.7 L250.3 298.9 L250.7 302.6 L251.0 306.6 L251.4 310.9 L251.7 314.6 L252.0 316.3 L252.4 315.2 L252.7 312.0 L253.1 308.2 L253.4 304.6 L253.7 301.3 L254.1 298.4 L254.4 295.9 L254.8 293.8 L255.1 292.0 L255.5 290.4 L255.8 289.0 L256.1 287.8 L256.5 286.8 L256.8 286.0 L257.2 285.4 L257.5 284.9 L257.8 284.5 L258.2 284.4 L258.5 284.4 L258.9 284.5 L259.2 284.9 L259.5 285.4 L259.9 286.1 L260.2 287.0 L260.6 288.1 L260.9 289.5 L261.2 291.2 L261.6 293.2 L261.9 295.6 L262.3 298.5 L262.6 302.1 L262.9 306.6 L263.3 312.4 L263.6 320.5 L264.0 322.0 L264.3 322.0 L264.6 322.0 L265.0 322.0 L265.3 314.8 L265.7 308.4 L266.0 303.6 L266.3 299.8 L266.7 296.7 L267.0 294.1 L267.4 292.0 L267.7 290.2 L268.1 288.7 L268.4 287.5 L268.7 286.4 L269.1 285.6 L269.4 285.0 L269.8 284.5 L270.1 284.2 L270.4 284.1 L270.8 284.1 L271.1 284.2 L271.5 284.5 L271.8 285.0 L272.1 285.6 L272.5 286.4 L272.8 287.3 L273.2 288.5 L273.5 289.9 L273.8 291.5 L274.2 293.5 L274.5 295.9 L274.9 298.7 L275.2 302.1 L275.5 306.3 L275.9 311.5 L276.2 317.6 L276.6 322.0 L276.9 322.0 L277.2 318.4 L277.6 311.7 L277.9 305.8 L278.3 301.0 L278.6 297.0 L278.9 293.6 L279.3 290.8 L279.6 288.4 L280.0 286.3 L280.3 284.6 L280.7 283.1 L281.0 281.9 L281.3 280.9 L281.7 280.1 L282.0 279.5 L282.4 279.1 L282.7 278.9 L283.0 278.9 L283.4 279.1 L283.7 279.5 L284.1 279.9 L284.4 280.4 L284.7 281.1 L285.1 282.1 L285.4 283.2 L285.8 284.6 L286.1 286.3 L286.4 288.3 L286.8 290.6 L287.1 293.2 L287.5 296.1 L287.8 299.2 L288.1 302.0 L288.5 303.8 L288.8 303.8 L289.2 301.9 L289.5 298.7 L289.8 295.1 L290.2 291.6 L290.5 288.3 L290.9 285.4 L291.2 282.7 L291.5 280.3 L291.9 278.1 L292.2 276.2 L292.6 274.4 L292.9 272.9 L293.3 271.5 L293.6 270.3 L293.9 269.4 L294.3 268.8 L294.6 268.4 L295.0 268.2 L295.3 268.1 L295.6 268.2 L296.0 268.5 L296.3 269.0 L296.7 269.7 L297.0 270.6 L297.3 271.9 L297.7 273.4 L298.0 275.2 L298.4 277.5 L298.7 280.2 L299.0 283.6 L299.4 287.7 L299.7 292.9 L300.1 299.6 L300.4 307.8 L300.7 313.7 L301.1 309.4 L301.4 301.1 L301.8 294.0 L302.1 288.2 L302.4 283.3 L302.8 278.7 L303.1 274.0 L303.5 268.9 L303.8 263.1 L304.2 256.9 L304.5 250.4 L304.8 243.8 L305.2 237.4 L305.5 231.5 L305.9 225.4 L306.2 219.7 L306.5 214.5 L306.9 209.6 L307.2 205.1 L307.6 201.1 L307.9 197.5 L308.2 194.2 L308.6 191.4 L308.9 189.0 L309.3 187.0 L309.6 185.4 L309.9 184.2 L310.3 183.4 L310.6 183.0 L311.0 183.0 L311.3 183.4 L311.6 184.3 L312.0 185.5 L312.3 187.1 L312.7 189.2 L313.0 191.6 L313.3 194.5 L313.7 197.8 L314.0 201.4 L314.4 205.5 L314.7 210.0 L315.0 214.9 L315.4 220.2 L315.7 225.9 L316.1 232.0 L316.4 238.0 L316.8 244.5 L317.1 251.2 L317.4 257.7 L317.8 263.9 L318.1 269.5 L318.5 274.4 L318.8 278.6 L319.1 282.7 L319.5 286.9 L319.8 291.6 L320.2 297.2 L320.5 303.5 L320.8 308.7 L321.2 307.8 L321.5 301.8 L321.9 295.4 L322.2 290.0 L322.5 285.6 L322.9 282.1 L323.2 279.2 L323.6 276.8 L323.9 274.8 L324.2 273.3 L324.6 272.0 L324.9 271.1 L325.3 270.4 L325.6 269.9 L325.9 269.7 L326.3 269.6 L326.6 269.8 L327.0 270.1 L327.3 270.6 L327.6 271.2 L328.0 272.1 L328.3 273.3 L328.7 274.5 L329.0 275.8 L329.4 277.2 L329.7 278.6 L330.0 280.0 L330.4 281.4 L330.7 282.8 L331.1 284.3 L331.4 285.9 L331.7 287.5 L332.1 289.2 L332.4 290.9 L332.8 292.8 L333.1 294.6 L333.4 296.4 L333.8 297.7 L334.1 298.5 L334.5 298.4 L334.8 297.4 L335.1 295.9 L335.5 293.9 L335.8 291.8 L336.2 289.8 L336.5 288.0 L336.8 286.3 L337.2 284.9 L337.5 283.7 L337.9 282.6 L338.2 281.7 L338.5 281.0 L338.9 280.5 L339.2 280.2 L339.6 280.1 L339.9 280.3 L340.2 280.6 L340.6 281.2 L340.9 281.9 L341.3 282.9 L341.6 284.1 L342.0 285.5 L342.3 287.1 L342.6 288.9 L343.0 290.9 L343.3 293.2 L343.7 295.6 L344.0 298.1 L344.3 300.5 L344.7 302.8 L345.0 304.7 L345.4 305.9 L345.7 306.3 L346.0 305.8 L346.4 304.8 L346.7 303.3 L347.1 301.7 L347.4 300.0 L347.7 298.3 L348.1 296.7 L348.4 295.1 L348.8 293.6 L349.1 292.2 L349.4 290.8 L349.8 289.6 L350.1 288.4 L350.5 287.3 L350.8 286.4 L351.1 285.6 L351.5 284.9 L351.8 284.3 L352.2 283.9 L352.5 283.7 L352.9 283.6 L353.2 283.6 L353.5 283.9 L353.9 284.3 L354.2 285.0 L354.6 285.9 L354.9 287.0 L355.2 288.3 L355.6 290.0 L355.9 292.0 L356.3 294.4 L356.6 297.2 L356.9 300.7 L357.3 304.9 L357.6 310.0 L358.0 316.4 L358.3 322.0 L358.6 322.0 L359.0 322.0 L359.3 317.9 L359.7 311.6 L360.0 306.4 L360.3 302.3 L360.7 298.9 L361.0 296.0 L361.4 293.7 L361.7 291.6 L362.0 289.9 L362.4 288.4 L362.7 287.1 L363.1 286.0 L363.4 285.1 L363.7 284.3 L364.1 283.7 L364.4 283.2 L364.8 282.8 L365.1 282.5 L365.5 282.3 L365.8 282.3 L366.1 282.4 L366.5 282.6 L366.8 283.0 L367.2 283.6 L367.5 284.3 L367.8 285.2 L368.2 286.4 L368.5 287.8 L368.9 289.5 L369.2 291.6 L369.5 294.1 L369.9 297.1 L370.2 301.0 L370.6 305.9 L370.9 312.7 L371.2 322.0 L371.6 322.0 L371.9 322.0 L372.3 322.0 L372.6 313.3"/>
<path stroke="#9ACD32" d="M56.9 239.0 L57.2 245.3 L57.6 252.2 L57.9 258.6 L58.3 264.2 L58.6 268.6 L58.9 271.8 L59.3 274.4 L59.6 276.7 L60.0 279.1 L60.3 281.8 L60.7 284.9 L61.0 288.8 L61.3 293.6 L61.7 299.7 L62.0 307.1 L62.4 314.0 L62.7 313.5 L63.0 306.6 L63.4 299.7 L63.7 294.1 L64.1 289.8 L64.4 286.3 L64.7 283.5 L65.1 281.3 L65.4 279.5 L65.8 278.0 L66.1 276.9 L66.4 276.0 L66.8 275.4 L67.1 274.9 L67.5 274.7 L67.8 274.7 L68.1 274.8 L68.5 275.1 L68.8 275.7 L69.2 276.6 L69.5 277.7 L69.8 279.0 L70.2 280.4 L70.5 282.0 L70.9 283.9 L71.2 285.9 L71.5 288.2 L71.9 290.7 L72.2 293.4 L72.6 296.2 L72.9 299.0 L73.3 301.3 L73.6 302.7 L73.9 302.7 L74.3 301.4 L74.6 299.3 L75.0 296.8 L75.3 294.3 L75.6 291.9 L76.0 289.9 L76.3 288.1 L76.7 286.6 L77.0 285.3 L77.3 284.3 L77.7 283.6 L78.0 283.1 L78.4 282.8 L78.7 282.6 L79.0 282.6 L79.4 282.7 L79.7 283.2 L80.1 283.8 L80.4 284.7 L80.7 286.0 L81.1 287.5 L81.4 289.4 L81.8 291.8 L82.1 294.8 L82.4 298.4 L82.8 303.1 L83.1 309.3 L83.5 318.3 L83.8 322.0 L84.1 322.0 L84.5 322.0 L84.8 317.4 L85.2 308.9 L85.5 303.0 L85.9 298.5 L86.2 295.1 L86.5 292.3 L86.9 290.0 L87.2 288.2 L87.6 286.8 L87.9 285.6 L88.2 284.8 L88.6 284.2 L88.9 283.8 L89.3 283.7 L89.6 283.8 L89.9 284.1 L90.3 284.5 L90.6 285.2 L91.0 286.2 L91.3 287.3 L91.6 288.8 L92.0 290.5 L92.3 292.6 L92.7 295.0 L93.0 297.9 L93.3 301.2 L93.7 305.1 L94.0 309.3 L94.4 313.3 L94.7 315.7 L95.0 314.8 L95.4 311.3 L95.7 307.0 L96.1 302.8 L96.4 299.0 L96.7 295.8 L97.1 293.1 L97.4 290.7 L97.8 288.7 L98.1 287.0 L98.5 285.6 L98.8 284.5 L99.1 283.5 L99.5 282.8 L99.8 282.3 L100.2 282.0 L100.5 281.9 L100.8 282.1 L101.2 282.4 L101.5 283.0 L101.9 283.8 L102.2 284.9 L102.5 286.3 L102.9 288.1 L103.2 290.3 L103.6 293.1 L103.9 296.5 L104.2 301.0 L104.6 306.8 L104.9 315.1 L105.3 322.0 L105.6 322.0 L105.9 322.0 L106.3 313.0 L106.6 304.9 L107.0 299.1 L107.3 294.5 L107.6 290.9 L108.0 288.0 L108.3 285.6 L108.7 283.6 L109.0 282.0 L109.4 280.7 L109.7 279.7 L110.0 279.0 L110.4 278.5 L110.7 278.2 L111.1 278.2 L111.4 278.2 L111.7 278.5 L112.1 278.9 L112.4 279.7 L112.8 280.7 L113.1 282.0 L113.4 283.7 L113.8 285.7 L114.1 288.3 L114.5 291.4 L114.8 295.2 L115.1 299.9 L115.5 305.4 L115.8 310.5 L116.2 311.8 L116.5 307.7 L116.8 301.7 L117.2 296.2 L117.5 291.4 L117.9 287.5 L118.2 284.1 L118.5 281.3 L118.9 278.9 L119.2 276.9 L119.6 275.2 L119.9 273.8 L120.2 272.6 L120.6 271.6 L120.9 270.9 L121.3 270.6 L121.6 270.6 L122.0 270.7 L122.3 271.1 L122.6 271.7 L123.0 272.5 L123.3 273.5 L123.7 274.8 L124.0 276.4 L124.3 278.3 L124.7 280.6 L125.0 283.4 L125.4 286.8 L125.7 291.0 L126.0 296.1 L126.4 302.4 L126.7 309.1 L127.1 311.9 L127.4 307.5 L127.7 300.7 L128.1 294.7 L128.4 289.8 L128.8 285.8 L129.1 282.5 L129.4 279.7 L129.8 277.3 L130.1 275.0 L130.5 272.5 L130.8 269.5 L131.1 265.5 L131.5 260.4 L131.8 254.3 L132.2 247.8 L132.5 241.1 L132.8 234.9 L133.2 228.4 L133.5 222.3 L133.9 216.7 L134.2 211.6 L134.6 206.9 L134.9 202.6 L135.2 198.7 L135.6 195.4 L135.9 192.4 L136.3 189.9 L136.6 187.8 L136.9 186.2 L137.3 185.0 L137.6 184.3 L138.0 184.0 L138.3 184.1 L138.6 184.7 L139.0 185.7 L139.3 187.2 L139.7 189.1 L140.0 191.4 L140.3 194.2 L140.7 197.5 L141.0 201.1 L141.4 205.3 L141.7 209.8 L142.0 214.8 L142.4 220.3 L142.7 226.1 L143.1 232.5 L143.4 239.2 L143.7 245.6 L144.1 252.5 L144.4 259.1 L144.8 265.1 L145.1 270.0 L145.4 273.6 L145.8 276.3 L146.1 278.3 L146.5 280.2 L146.8 282.1 L147.2 284.2 L147.5 286.7 L147.8 289.6 L148.2 293.0 L148.5 297.0 L148.9 301.3 L149.2 305.3 L149.5 307.0 L149.9 305.1 L150.2 300.9 L150.6 296.2 L150.9 292.0 L151.2 288.3 L151.6 285.1 L151.9 282.5 L152.3 280.2 L152.6 278.4 L152.9 276.9 L153.3 275.6 L153.6 274.7 L154.0 274.0 L154.3 273.6 L154.6 273.4 L155.0 273.4 L155.3 274.0 L155.7 274.8 L156.0 275.9 L156.3 277.2 L156.7 278.9 L157.0 280.8 L157.4 283.1 L157.7 285.8 L158.1 288.8 L158.4 292.3 L158.7 296.1 L159.1 300.0 L159.4 303.5 L159.8 305.4 L160.1 305.0 L160.4 302.8 L160.8 299.8 L161.1 296.9 L161.5 294.2 L161.8 291.9 L162.1 290.0 L162.5 288.4 L162.8 287.1 L163.2 286.1 L163.5 285.3 L163.8 284.6 L164.2 284.2 L164.5 283.8 L164.9 283.6 L165.2 283.4 L165.5 283.2 L165.9 283.1 L166.2 283.1 L166.6 283.2 L166.9 283.4 L167.2 283.7 L167.6 284.2 L167.9 284.8 L168.3 285.6 L168.6 286.7 L168.9 287.9 L169.3 289.4 L169.6 291.3 L170.0 293.5 L170.3 296.2 L170.7 299.4 L171.0 303.2 L171.3 307.3 L171.7 311.3 L172.0 313.4 L172.4 312.1 L172.7 308.2 L173.0 303.7 L173.4 299.4 L173.7 295.7 L174.1 292.6 L174.4 290.0 L174.7 287.8 L175.1 286.0 L175.4 284.5 L175.8 283.4 L176.1 282.5 L176.4 281.9 L176.8 281.6 L177.1 281.5 L177.5 281.6 L177.8 282.0 L178.1 282.6 L178.5 283.5 L178.8 284.7 L179.2 286.1 L179.5 287.9 L179.8 289.9 L180.2 292.4 L180.5 295.2 L180.9 298.3 L181.2 301.8 L181.5 305.2 L181.9 308.0 L182.2 309.3 L182.6 308.5 L182.9 306.1 L183.3 303.0 L183.6 299.9 L183.9 297.1 L184.3 294.5 L184.6 292.3 L185.0 290.4 L185.3 288.7 L185.6 287.2 L186.0 286.0 L186.3 284.9 L186.7 284.1 L187.0 283.3 L187.3 282.7 L187.7 282.2 L188.0 281.9 L188.4 281.7 L188.7 281.6 L189.0 281.7 L189.4 281.9 L189.7 282.3 L190.1 282.8 L190.4 283.6 L190.7 284.6 L191.1 285.8 L191.4 287.3 L191.8 289.2 L192.1 291.5 L192.4 294.3 L192.8 297.7 L193.1 301.9 L193.5 307.0 L193.8 312.5 L194.1 316.3 L194.5 315.0 L194.8 309.7 L195.2 303.9 L195.5 298.8 L195.9 294.5 L196.2 291.0 L196.5 288.1 L196.9 285.7 L197.2 283.6 L197.6 282.0 L197.9 280.6 L198.2 279.6 L198.6 278.8 L198.9 278.2 L199.3 277.9 L199.6 277.8 L199.9 277.9 L200.3 278.3 L200.6 278.8 L201.0 279.4 L201.3 280.3 L201.6 281.4 L202.0 282.9 L202.3 284.6 L202.7 286.8 L203.0 289.3 L203.3 292.4 L203.7 296.0 L204.0 300.1 L204.4 304.6 L204.7 308.2 L205.0 308.8 L205.4 305.9 L205.7 301.3 L206.1 296.6 L206.4 292.5 L206.8 288.9 L207.1 285.7 L207.4 283.1 L207.8 280.8 L208.1 278.8 L208.5 277.1 L208.8 275.6 L209.1 274.4 L209.5 273.3 L209.8 272.5 L210.2 271.8 L210.5 271.4 L210.8 271.3 L211.2 271.5 L211.5 271.8 L211.9 272.4 L212.2 273.1 L212.5 274.0 L212.9 275.2 L213.2 276.7 L213.6 278.5 L213.9 280.6 L214.2 283.1 L214.6 286.2 L214.9 290.0 L215.3 294.7 L215.6 300.7 L215.9 308.4 L216.3 316.5 L216.6 317.3 L217.0 309.4 L217.3 301.6 L217.6 295.4 L218.0 290.6 L218.3 286.7 L218.7 283.5 L219.0 280.6 L219.4 278.0 L219.7 275.3 L220.0 272.0 L220.4 267.9 L220.7 262.8 L221.1 256.8 L221.4 250.3 L221.7 243.6 L222.1 237.0 L222.4 231.0 L222.8 224.9 L223.1 219.2 L223.4 213.9 L223.8 209.1 L224.1 204.7 L224.5 200.7 L224.8 197.2 L225.1 194.1 L225.5 191.3 L225.8 189.1 L226.2 187.2 L226.5 185.7 L226.8 184.7 L227.2 184.1 L227.5 184.0 L227.9 184.2 L228.2 184.9 L228.5 186.0 L228.9 187.5 L229.2 189.4 L229.6 191.8 L229.9 194.6 L230.2 197.8 L230.6 201.4 L230.9 205.5 L231.3 210.0 L231.6 214.9 L232.0 220.2 L232.3 225.9 L232.6 232.1 L233.0 238.3 L233.3 245.0 L233.7 251.8 L234.0 258.5 L234.3 264.8 L234.7 270.2 L235.0 274.6 L235.4 278.0 L235.7 280.8 L236.0 283.4 L236.4 286.0 L236.7 289.0 L237.1 292.4 L237.4 296.6 L237.7 301.9 L238.1 308.6 L238.4 316.7 L238.8 321.9 L239.1 317.0 L239.4 308.8 L239.8 301.8 L240.1 296.4 L240.5 292.0 L240.8 288.5 L241.1 285.5 L241.5 283.1 L241.8 281.1 L242.2 279.3 L242.5 277.9 L242.8 276.8 L243.2 275.9 L243.5 275.2 L243.9 274.7 L244.2 274.5 L244.6 274.4 L244.9 274.8 L245.2 275.4 L245.6 276.2 L245.9 277.2 L246.3 278.5 L246.6 279.9 L246.9 281.6 L247.3 283.5 L247.6 285.7 L248.0 288.2 L248.3 291.1 L248.6 294.4 L249.0 298.0 L249.3 301.9 L249.7 305.8 L250.0 308.8 L250.3 309.8 L250.7 308.5 L251.0 305.7 L251.4 302.5 L251.7 299.3 L252.0 296.5 L252.4 294.0 L252.7 291.9 L253.1 290.0 L253.4 288.5 L253.7 287.1 L254.1 286.0 L254.4 285.1 L254.8 284.1 L255.1 283.4 L255.5 282.7 L255.8 282.3 L256.1 282.0 L256.5 281.8 L256.8 281.8 L257.2 282.0 L257.5 282.3 L257.8 282.9 L258.2 283.6 L258.5 284.6 L258.9 285.9 L259.2 287.4 L259.5 289.3 L259.9 291.6 L260.2 294.4 L260.6 297.9 L260.9 302.3 L261.2 308.2 L261.6 316.6 L261.9 322.0 L262.3 322.0 L262.6 322.0 L262.9 318.5 L263.3 309.4 L263.6 303.1 L264.0 298.3 L264.3 294.7 L264.6 291.7 L265.0 289.3 L265.3 287.4 L265.7 285.8 L266.0 284.5 L266.3 283.4 L266.7 282.7 L267.0 282.1 L267.4 281.8 L267.7 281.7 L268.1 281.7 L268.4 281.9 L268.7 282.3 L269.1 282.8 L269.4 283.5 L269.8 284.4 L270.1 285.3 L270.4 286.4 L270.8 287.6 L271.1 288.9 L271.5 290.4 L271.8 291.9 L272.1 293.5 L272.5 295.1 L272.8 296.8 L273.2 298.5 L273.5 300.0 L273.8 301.3 L274.2 302.1 L274.5 302.2 L274.9 301.6 L275.2 300.4 L275.5 298.7 L275.9 296.7 L276.2 294.5 L276.6 292.4 L276.9 290.3 L277.2 288.3 L277.6 286.5 L277.9 284.9 L278.3 283.5 L278.6 282.3 L278.9 281.3 L279.3 280.5 L279.6 280.0 L280.0 279.6 L280.3 279.4 L280.7 279.5 L281.0 279.8 L281.3 280.3 L281.7 281.1 L282.0 282.2 L282.4 283.6 L282.7 285.3 L283.0 287.4 L283.4 289.9 L283.7 293.1 L284.1 296.9 L284.4 301.5 L284.7 307.0 L285.1 312.9 L285.4 316.6 L285.8 314.5 L286.1 309.0 L286.4 303.5 L286.8 298.8 L287.1 294.9 L287.5 291.8 L287.8 289.2 L288.1 287.1 L288.5 285.4 L288.8 284.0 L289.2 282.8 L289.5 281.9 L289.8 281.2 L290.2 280.7 L290.5 280.3 L290.9 280.0 L291.2 279.8 L291.5 279.8 L291.9 279.8 L292.2 279.9 L292.6 280.1 L292.9 280.4 L293.3 280.8 L293.6 281.2 L293.9 281.7 L294.3 282.3 L294.6 283.0 L295.0 283.9 L295.3 285.0 L295.6 286.4 L296.0 288.1 L296.3 290.2 L296.7 292.8 L297.0 295.7 L297.3 299.2 L297.7 302.7 L298.0 305.4 L298.4 305.7 L298.7 303.2 L299.0 299.1 L299.4 294.7 L299.7 290.6 L300.1 287.1 L300.4 284.0 L300.7 281.3 L301.1 279.0 L301.4 277.1 L301.8 275.5 L302.1 274.2 L302.4 273.2 L302.8 272.4 L303.1 271.8 L303.5 271.4 L303.8 271.4 L304.2 271.8 L304.5 272.4 L304.8 273.3 L305.2 274.3 L305.5 275.6 L305.9 277.1 L306.2 278.9 L306.5 280.9 L306.9 283.2 L307.2 285.8 L307.6 288.6 L307.9 291.6 L308.2 294.6 L308.6 297.2 L308.9 299.0 L309.3 299.3 L309.6 298.3 L309.9 296.3 L310.3 293.8 L310.6 291.3 L311.0 288.9 L311.3 286.7 L311.6 284.6 L312.0 282.6 L312.3 280.4 L312.7 277.8 L313.0 274.5 L313.3 270.2 L313.7 264.8 L314.0 258.7 L314.4 252.1 L314.7 245.4 L315.0 238.9 L315.4 232.8 L315.7 226.7 L316.1 221.1 L316.4 215.8 L316.8 210.9 L317.1 206.4 L317.4 202.4 L317.8 198.7 L318.1 195.5 L318.5 192.6 L318.8 190.2 L319.1 188.1 L319.5 186.5 L319.8 185.3 L320.2 184.4 L320.5 184.0 L320.8 184.0 L321.2 184.4 L321.5 185.2 L321.9 186.4 L322.2 188.0 L322.5 190.0 L322.9 192.4 L323.2 195.2 L323.6 198.4 L323.9 202.0 L324.2 206.1 L324.6 210.5 L324.9 215.3 L325.3 220.6 L325.6 226.2 L325.9 232.3 L326.3 238.3 L326.6 244.8 L327.0 251.5 L327.3 258.2 L327.6 264.5 L328.0 270.2 L328.3 275.1 L328.7 279.2 L329.0 282.6 L329.4 285.8 L329.7 288.9 L330.0 292.4 L330.4 296.2 L330.7 300.4 L331.1 304.7 L331.4 308.2 L331.7 309.2 L332.1 307.0 L332.4 303.1 L332.8 298.9 L333.1 295.0 L333.4 291.6 L333.8 288.7 L334.1 286.1 L334.5 283.9 L334.8 281.9 L335.1 280.2 L335.5 278.8 L335.8 277.5 L336.2 276.4 L336.5 275.5 L336.8 274.8 L337.2 274.2 L337.5 273.8 L337.9 273.7 L338.2 273.9 L338.5 274.2 L338.9 274.7 L339.2 275.4 L339.6 276.2 L339.9 277.3 L340.2 278.6 L340.6 280.1 L340.9 281.9 L341.3 284.0 L341.6 286.5 L342.0 289.4 L342.3 293.0 L342.6 297.4 L343.0 303.0 L343.3 310.6 L343.7 322.0 L344.0 322.0 L344.3 322.0 L344.7 321.8 L345.0 311.1 L345.4 304.1 L345.7 299.1 L346.0 295.3 L346.4 292.2 L346.7 289.7 L347.1 287.7 L347.4 286.1 L347.7 284.7 L348.1 283.5 L348.4 282.5 L348.8 281.7 L349.1 281.1 L349.4 280.6 L349.8 280.4 L350.1 280.3 L350.5 280.4 L350.8 280.6 L351.1 281.0 L351.5 281.5 L351.8 282.2 L352.2 283.1 L352.5 284.1 L352.9 285.3 L353.2 286.8 L353.5 288.5 L353.9 290.4 L354.2 292.7 L354.6 295.4 L354.9 298.5 L355.2 302.1 L355.6 306.3 L355.9 311.0 L356.3 315.6 L356.6 318.1 L356.9 316.5 L357.3 312.2 L357.6 307.3 L358.0 302.9 L358.3 299.0 L358.6 295.8 L359.0 292.9 L359.3 290.5 L359.7 288.5 L360.0 286.7 L360.3 285.2 L360.7 284.0 L361.0 283.0 L361.4 282.2 L361.7 281.6 L362.0 281.2 L362.4 281.0 L362.7 280.9 L363.1 281.1 L363.4 281.4 L363.7 281.9 L364.1 282.7 L364.4 283.6 L364.8 284.8 L365.1 286.2 L365.5 287.8 L365.8 289.8 L366.1 292.0 L366.5 294.7 L366.8 297.7 L367.2 301.3 L367.5 305.2 L367.8 309.5 L368.2 313.4 L368.5 315.6 L368.9 314.8 L369.2 311.6 L369.5 307.6 L369.9 303.8 L370.2 300.4 L370.6 297.4 L370.9 294.8 L371.2 292.6 L371.6 290.7 L371.9 289.0 L372.3 287.6 L372.6 286.3"/>
<path stroke="#FFA500" d="M56.9 226.1 L57.2 220.3 L57.6 215.0 L57.9 210.1 L58.3 205.6 L58.6 201.6 L58.9 198.1 L59.3 195.0 L59.6 192.4 L60.0 190.3 L60.3 188.6 L60.7 187.3 L61.0 186.6 L61.3 186.3 L61.7 186.4 L62.0 187.0 L62.4 188.1 L62.7 189.6 L63.0 191.6 L63.4 194.0 L63.7 196.9 L64.1 200.3 L64.4 204.1 L64.7 208.4 L65.1 213.1 L65.4 218.3 L65.8 224.0 L66.1 230.1 L66.4 236.7 L66.8 243.7 L67.1 249.9 L67.5 256.8 L67.8 263.5 L68.1 269.6 L68.5 274.9 L68.8 279.5 L69.2 283.6 L69.5 287.7 L69.8 292.1 L70.2 297.2 L70.5 303.2 L70.9 309.4 L71.2 312.2 L71.5 308.7 L71.9 302.5 L72.2 296.7 L72.6 291.8 L72.9 287.9 L73.3 284.6 L73.6 281.8 L73.9 279.5 L74.3 277.6 L74.6 276.0 L75.0 274.7 L75.3 273.6 L75.6 272.8 L76.0 272.1 L76.3 271.7 L76.7 271.4 L77.0 271.4 L77.3 271.5 L77.7 271.8 L78.0 272.3 L78.4 273.1 L78.7 274.3 L79.0 275.8 L79.4 277.5 L79.7 279.6 L80.1 282.1 L80.4 285.0 L80.7 288.4 L81.1 292.6 L81.4 297.6 L81.8 303.6 L82.1 310.2 L82.4 314.1 L82.8 311.5 L83.1 305.5 L83.5 299.7 L83.8 294.9 L84.1 291.0 L84.5 287.9 L84.8 285.3 L85.2 283.2 L85.5 281.5 L85.9 280.1 L86.2 279.1 L86.5 278.3 L86.9 277.8 L87.2 277.5 L87.6 277.4 L87.9 277.6 L88.2 277.9 L88.6 278.4 L88.9 279.0 L89.3 279.9 L89.6 281.0 L89.9 282.4 L90.3 284.2 L90.6 286.3 L91.0 288.8 L91.3 291.9 L91.6 295.7 L92.0 300.3 L92.3 306.2 L92.7 313.5 L93.0 321.1 L93.3 322.0 L93.7 315.9 L94.0 308.6 L94.4 302.7 L94.7 298.0 L95.0 294.3 L95.4 291.3 L95.7 288.9 L96.1 286.9 L96.4 285.3 L96.7 284.0 L97.1 283.0 L97.4 282.2 L97.8 281.7 L98.1 281.4 L98.5 281.2 L98.8 281.3 L99.1 281.5 L99.5 281.9 L99.8 282.4 L100.2 283.2 L100.5 284.0 L100.8 285.1 L101.2 286.4 L101.5 287.9 L101.9 289.6 L102.2 291.5 L102.5 293.8 L102.9 296.2 L103.2 299.0 L103.6 301.9 L103.9 304.8 L104.2 307.2 L104.6 308.5 L104.9 308.0 L105.3 306.1 L105.6 303.3 L105.9 300.3 L106.3 297.3 L106.6 294.6 L107.0 292.2 L107.3 290.0 L107.6 288.2 L108.0 286.6 L108.3 285.2 L108.7 284.1 L109.0 283.3 L109.4 282.6 L109.7 282.2 L110.0 281.9 L110.4 281.9 L110.7 282.1 L111.1 282.5 L111.4 283.2 L111.7 284.1 L112.1 285.4 L112.4 287.0 L112.8 289.0 L113.1 291.5 L113.4 294.5 L113.8 298.4 L114.1 303.4 L114.5 310.1 L114.8 319.7 L115.1 322.0 L115.5 322.0 L115.8 320.8 L116.2 310.8 L116.5 303.9 L116.8 298.8 L117.2 294.9 L117.5 291.7 L117.9 289.2 L118.2 287.2 L118.5 285.5 L118.9 284.2 L119.2 283.2 L119.6 282.5 L119.9 282.0 L120.2 281.7 L120.6 281.6 L120.9 281.5 L121.3 281.6 L121.6 281.9 L122.0 282.3 L122.3 282.9 L122.6 283.7 L123.0 284.6 L123.3 285.6 L123.7 286.7 L124.0 288.0 L124.3 289.3 L124.7 290.6 L125.0 291.9 L125.4 293.1 L125.7 294.1 L126.0 294.8 L126.4 295.1 L126.7 294.8 L127.1 294.1 L127.4 293.0 L127.7 291.5 L128.1 289.7 L128.4 287.8 L128.8 285.9 L129.1 284.0 L129.4 282.2 L129.8 280.5 L130.1 278.9 L130.5 277.4 L130.8 276.4 L131.1 275.6 L131.5 274.9 L131.8 274.4 L132.2 274.0 L132.5 273.9 L132.8 274.0 L133.2 274.2 L133.5 274.8 L133.9 275.5 L134.2 276.6 L134.6 278.0 L134.9 279.7 L135.2 281.9 L135.6 284.6 L135.9 288.0 L136.3 292.3 L136.6 298.0 L136.9 306.1 L137.3 319.1 L137.6 322.0 L138.0 322.0 L138.3 307.8 L138.6 298.8 L139.0 292.4 L139.3 287.2 L139.7 282.6 L140.0 278.1 L140.3 273.2 L140.7 267.7 L141.0 261.5 L141.4 254.8 L141.7 248.0 L142.0 241.3 L142.4 235.1 L142.7 228.8 L143.1 222.9 L143.4 217.4 L143.7 212.4 L144.1 207.8 L144.4 203.7 L144.8 200.0 L145.1 196.8 L145.4 193.9 L145.8 191.6 L146.1 189.6 L146.5 188.1 L146.8 187.1 L147.2 186.4 L147.5 186.3 L147.8 186.5 L148.2 187.2 L148.5 188.4 L148.9 189.9 L149.2 192.0 L149.5 194.4 L149.9 197.3 L150.2 200.7 L150.6 204.4 L150.9 208.6 L151.2 213.3 L151.6 218.4 L151.9 223.9 L152.3 229.9 L152.6 236.3 L152.9 242.5 L153.3 249.3 L153.6 256.2 L154.0 262.9 L154.3 269.0 L154.6 274.3 L155.0 278.7 L155.3 282.3 L155.7 285.4 L156.0 288.2 L156.3 290.9 L156.7 293.5 L157.0 295.6 L157.4 296.8 L157.7 296.7 L158.1 295.3 L158.4 292.9 L158.7 290.2 L159.1 287.4 L159.4 284.7 L159.8 282.2 L160.1 280.0 L160.4 278.1 L160.8 276.4 L161.1 274.9 L161.5 273.6 L161.8 272.6 L162.1 271.7 L162.5 271.1 L162.8 270.6 L163.2 270.3 L163.5 270.3 L163.8 270.4 L164.2 270.7 L164.5 271.3 L164.9 272.4 L165.2 273.7 L165.5 275.3 L165.9 277.3 L166.2 279.6 L166.6 282.3 L166.9 285.6 L167.2 289.6 L167.6 294.5 L167.9 301.0 L168.3 310.1 L168.6 322.0 L168.9 322.0 L169.3 321.5 L169.6 309.2 L170.0 301.4 L170.3 295.9 L170.7 291.8 L171.0 288.5 L171.3 286.0 L171.7 283.9 L172.0 282.3 L172.4 281.0 L172.7 280.0 L173.0 279.2 L173.4 278.7 L173.7 278.4 L174.1 278.3 L174.4 278.4 L174.7 278.4 L175.1 278.7 L175.4 279.0 L175.8 279.6 L176.1 280.4 L176.4 281.3 L176.8 282.5 L177.1 283.8 L177.5 285.4 L177.8 287.3 L178.1 289.5 L178.5 292.0 L178.8 295.0 L179.2 298.4 L179.5 302.4 L179.8 306.9 L180.2 311.3 L180.5 314.4 L180.9 314.2 L181.2 311.0 L181.5 306.6 L181.9 302.3 L182.2 298.6 L182.6 295.4 L182.9 292.6 L183.3 290.3 L183.6 288.3 L183.9 286.7 L184.3 285.3 L184.6 284.2 L185.0 283.3 L185.3 282.6 L185.6 282.2 L186.0 281.9 L186.3 281.8 L186.7 281.9 L187.0 282.1 L187.3 282.6 L187.7 283.3 L188.0 284.2 L188.4 285.4 L188.7 286.8 L189.0 288.6 L189.4 290.6 L189.7 293.1 L190.1 296.1 L190.4 299.8 L190.7 304.4 L191.1 310.3 L191.4 318.4 L191.8 322.0 L192.1 322.0 L192.4 322.0 L192.8 320.0 L193.1 311.7 L193.5 305.8 L193.8 301.2 L194.1 297.6 L194.5 294.7 L194.8 292.3 L195.2 290.4 L195.5 288.7 L195.9 287.4 L196.2 286.3 L196.5 285.5 L196.9 284.9 L197.2 284.4 L197.6 284.2 L197.9 284.1 L198.2 284.3 L198.6 284.5 L198.9 285.0 L199.3 285.6 L199.6 286.4 L199.9 287.4 L200.3 288.6 L200.6 290.0 L201.0 291.7 L201.3 293.6 L201.6 295.9 L202.0 298.6 L202.3 301.7 L202.7 305.4 L203.0 309.4 L203.3 313.6 L203.7 316.9 L204.0 317.5 L204.4 315.0 L204.7 310.8 L205.0 306.5 L205.4 302.5 L205.7 299.0 L206.1 296.0 L206.4 293.4 L206.8 291.2 L207.1 289.3 L207.4 287.7 L207.8 286.4 L208.1 285.2 L208.5 284.3 L208.8 283.6 L209.1 283.1 L209.5 282.8 L209.8 282.7 L210.2 282.7 L210.5 282.8 L210.8 283.1 L211.2 283.6 L211.5 284.4 L211.9 285.4 L212.2 286.8 L212.5 288.4 L212.9 290.5 L213.2 293.1 L213.6 296.4 L213.9 300.5 L214.2 305.8 L214.6 312.7 L214.9 321.5 L215.3 322.0 L215.6 320.3 L215.9 311.1 L216.3 303.8 L216.6 298.2 L217.0 293.6 L217.3 290.0 L217.6 286.9 L218.0 284.3 L218.3 282.2 L218.7 280.3 L219.0 278.8 L219.4 277.5 L219.7 276.4 L220.0 275.6 L220.4 275.2 L220.7 275.0 L221.1 274.9 L221.4 275.0 L221.7 275.2 L222.1 275.6 L222.4 276.1 L222.8 276.7 L223.1 277.5 L223.4 278.5 L223.8 279.6 L224.1 280.9 L224.5 282.4 L224.8 284.1 L225.1 286.0 L225.5 288.1 L225.8 290.5 L226.2 293.0 L226.5 295.6 L226.8 298.0 L227.2 299.4 L227.5 299.5 L227.9 297.9 L228.2 295.0 L228.5 291.2 L228.9 287.0 L229.2 282.2 L229.6 276.8 L229.9 270.8 L230.2 264.2 L230.6 257.4 L230.9 250.6 L231.3 243.8 L231.6 237.7 L232.0 231.4 L232.3 225.4 L232.6 219.9 L233.0 214.8 L233.3 210.1 L233.7 205.8 L234.0 202.0 L234.3 198.5 L234.7 195.5 L235.0 192.9 L235.4 190.8 L235.7 189.0 L236.0 187.7 L236.4 186.8 L236.7 186.3 L237.1 186.3 L237.4 186.6 L237.7 187.4 L238.1 188.6 L238.4 190.3 L238.8 192.3 L239.1 194.8 L239.4 197.7 L239.8 201.0 L240.1 204.7 L240.5 208.9 L240.8 213.4 L241.1 218.4 L241.5 223.8 L241.8 229.7 L242.2 235.9 L242.5 241.9 L242.8 248.5 L243.2 255.2 L243.5 261.8 L243.9 268.2 L244.2 274.1 L244.6 279.6 L244.9 284.7 L245.2 289.5 L245.6 294.0 L245.9 297.4 L246.3 298.6 L246.6 297.3 L246.9 294.4 L247.3 291.0 L247.6 287.8 L248.0 284.9 L248.3 282.4 L248.6 280.3 L249.0 278.5 L249.3 277.0 L249.7 275.7 L250.0 274.6 L250.3 273.7 L250.7 272.9 L251.0 272.2 L251.4 271.7 L251.7 271.2 L252.0 270.9 L252.4 270.6 L252.7 270.3 L253.1 270.2 L253.4 270.1 L253.7 270.1 L254.1 270.4 L254.4 270.9 L254.8 271.6 L255.1 272.5 L255.5 273.5 L255.8 274.7 L256.1 276.2 L256.5 278.0 L256.8 280.1 L257.2 282.6 L257.5 285.6 L257.8 289.1 L258.2 293.5 L258.5 298.9 L258.9 305.4 L259.2 312.1 L259.5 314.5 L259.9 310.0 L260.2 303.5 L260.6 297.8 L260.9 293.3 L261.2 289.6 L261.6 286.7 L261.9 284.4 L262.3 282.5 L262.6 281.0 L262.9 279.9 L263.3 279.0 L263.6 278.4 L264.0 278.0 L264.3 277.7 L264.6 277.6 L265.0 277.7 L265.3 278.0 L265.7 278.4 L266.0 279.1 L266.3 279.9 L266.7 280.9 L267.0 282.0 L267.4 283.4 L267.7 284.9 L268.1 286.6 L268.4 288.4 L268.7 290.5 L269.1 292.6 L269.4 294.9 L269.8 297.3 L270.1 299.6 L270.4 301.6 L270.8 303.2 L271.1 304.1 L271.5 304.1 L271.8 303.3 L272.1 301.8 L272.5 300.1 L272.8 298.1 L273.2 296.2 L273.5 294.3 L273.8 292.5 L274.2 290.9 L274.5 289.4 L274.9 288.1 L275.2 286.9 L275.5 285.9 L275.9 285.0 L276.2 284.3 L276.6 283.8 L276.9 283.4 L277.2 283.1 L277.6 283.1 L277.9 283.2 L278.3 283.4 L278.6 283.9 L278.9 284.6 L279.3 285.4 L279.6 286.5 L280.0 287.9 L280.3 289.5 L280.7 291.5 L281.0 293.8 L281.3 296.6 L281.7 300.1 L282.0 304.3 L282.4 309.7 L282.7 317.0 L283.0 322.0 L283.4 322.0 L283.7 322.0 L284.1 322.0 L284.4 317.1 L284.7 310.2 L285.1 305.1 L285.4 301.1 L285.8 297.9 L286.1 295.3 L286.4 293.2 L286.8 291.4 L287.1 289.9 L287.5 288.7 L287.8 287.7 L288.1 287.0 L288.5 286.4 L288.8 286.0 L289.2 285.7 L289.5 285.6 L289.8 285.7 L290.2 285.9 L290.5 286.2 L290.9 286.7 L291.2 287.4 L291.5 288.2 L291.9 289.2 L292.2 290.4 L292.6 291.7 L292.9 293.3 L293.3 295.2 L293.6 297.3 L293.9 299.9 L294.3 302.8 L294.6 306.3 L295.0 310.3 L295.3 314.8 L295.6 319.1 L296.0 321.3 L296.3 319.8 L296.7 315.6 L297.0 310.7 L297.3 306.3 L297.7 302.4 L298.0 299.1 L298.4 296.2 L298.7 293.7 L299.0 291.6 L299.4 289.8 L299.7 288.3 L300.1 287.0 L300.4 285.9 L300.7 285.0 L301.1 284.3 L301.4 283.8 L301.8 283.5 L302.1 283.4 L302.4 283.4 L302.8 283.7 L303.1 284.1 L303.5 284.6 L303.8 285.2 L304.2 286.1 L304.5 287.1 L304.8 288.5 L305.2 290.1 L305.5 292.1 L305.9 294.6 L306.2 297.5 L306.5 301.1 L306.9 305.6 L307.2 311.0 L307.6 317.0 L307.9 321.1 L308.2 319.0 L308.6 312.8 L308.9 306.5 L309.3 301.1 L309.6 296.6 L309.9 292.8 L310.3 289.6 L310.6 286.8 L311.0 284.4 L311.3 282.3 L311.6 280.5 L312.0 278.9 L312.3 277.6 L312.7 276.4 L313.0 275.4 L313.3 274.6 L313.7 274.2 L314.0 273.9 L314.4 273.8 L314.7 273.8 L315.0 274.0 L315.4 274.4 L315.7 274.9 L316.1 275.6 L316.4 276.5 L316.8 277.6 L317.1 279.0 L317.4 280.6 L317.8 282.5 L318.1 284.9 L318.5 287.7 L318.8 291.2 L319.1 295.5 L319.5 301.1 L319.8 308.6 L320.2 318.5 L320.5 322.0 L320.8 316.5 L321.2 306.2 L321.5 298.2 L321.9 291.7 L322.2 285.9 L322.5 280.3 L322.9 274.4 L323.2 268.3 L323.6 261.8 L323.9 255.1 L324.2 248.5 L324.6 242.0 L324.9 236.1 L325.3 229.9 L325.6 224.2 L325.9 218.9 L326.3 213.9 L326.6 209.4 L327.0 205.3 L327.3 201.6 L327.6 198.3 L328.0 195.4 L328.3 192.9 L328.7 190.8 L329.0 189.1 L329.4 187.8 L329.7 186.9 L330.0 186.4 L330.4 186.3 L330.7 186.6 L331.1 187.3 L331.4 188.4 L331.7 189.9 L332.1 191.9 L332.4 194.2 L332.8 196.9 L333.1 200.0 L333.4 203.6 L333.8 207.5 L334.1 211.8 L334.5 216.6 L334.8 221.7 L335.1 227.3 L335.5 233.2 L335.8 239.0 L336.2 245.5 L336.5 252.1 L336.8 258.7 L337.2 265.2 L337.5 271.3 L337.9 276.8 L338.2 281.5 L338.5 285.6 L338.9 289.0 L339.2 291.8 L339.6 293.7 L339.9 294.5 L340.2 294.3 L340.6 293.2 L340.9 291.4 L341.3 289.3 L341.6 287.1 L342.0 284.9 L342.3 282.9 L342.6 281.0 L343.0 279.3 L343.3 277.6 L343.7 276.2 L344.0 274.9 L344.3 273.7 L344.7 272.6 L345.0 271.7 L345.4 270.9 L345.7 270.3 L346.0 269.8 L346.4 269.4 L346.7 269.2 L347.1 269.2 L347.4 269.4 L347.7 270.0 L348.1 270.8 L348.4 271.8 L348.8 273.1 L349.1 274.6 L349.4 276.4 L349.8 278.5 L350.1 281.0 L350.5 283.9 L350.8 287.5 L351.1 291.8 L351.5 297.0 L351.8 303.7 L352.2 311.9 L352.5 319.5 L352.9 318.1 L353.2 310.5 L353.5 303.6 L353.9 298.3 L354.2 294.2 L354.6 291.0 L354.9 288.4 L355.2 286.4 L355.6 284.8 L355.9 283.6 L356.3 282.7 L356.6 282.0 L356.9 281.5 L357.3 281.2 L357.6 280.8 L358.0 280.6 L358.3 280.6 L358.6 280.6 L359.0 280.7 L359.3 280.9 L359.7 281.2 L360.0 281.5 L360.3 281.9 L360.7 282.4 L361.0 282.9 L361.4 283.5 L361.7 284.3 L362.0 285.1 L362.4 286.1 L362.7 287.3 L363.1 288.7 L363.4 290.3 L363.7 292.2 L364.1 294.5 L364.4 297.2 L364.8 300.3 L365.1 304.0 L365.5 308.2 L365.8 312.3 L366.1 315.1 L366.5 314.8 L366.8 311.5 L367.2 307.1 L367.5 302.9 L367.8 299.1 L368.2 295.9 L368.5 293.2 L368.9 290.9 L369.2 289.0 L369.5 287.5 L369.9 286.2 L370.2 285.2 L370.6 284.5 L370.9 284.0 L371.2 283.7 L371.6 283.6 L371.9 283.7 L372.3 284.0 L372.6 284.5"/>
<path stroke="#FF0000" d="M56.9 277.0 L57.2 278.9 L57.6 281.2 L57.9 284.1 L58.3 287.6 L58.6 291.9 L58.9 297.4 L59.3 304.4 L59.6 312.0 L60.0 314.0 L60.3 307.3 L60.7 299.6 L61.0 293.2 L61.3 288.2 L61.7 284.1 L62.0 280.7 L62.4 277.9 L62.7 275.2 L63.0 272.6 L63.4 269.6 L63.7 266.0 L64.1 261.3 L64.4 255.8 L64.7 249.6 L65.1 244.3 L65.4 237.4 L65.8 231.0 L66.1 225.0 L66.4 219.5 L66.8 214.5 L67.1 209.9 L67.5 205.8 L67.8 202.1 L68.1 198.9 L68.5 196.1 L68.8 193.8 L69.2 191.9 L69.5 190.5 L69.8 189.6 L70.2 189.1 L70.5 189.1 L70.9 189.6 L71.2 190.4 L71.5 191.8 L71.9 193.6 L72.2 195.9 L72.6 198.6 L72.9 201.8 L73.3 205.4 L73.6 209.5 L73.9 214.0 L74.3 219.0 L74.6 224.5 L75.0 230.4 L75.3 236.8 L75.6 243.6 L76.0 249.2 L76.3 255.6 L76.7 261.5 L77.0 266.4 L77.3 270.3 L77.7 273.1 L78.0 275.3 L78.4 277.2 L78.7 278.9 L79.0 280.7 L79.4 282.4 L79.7 284.3 L80.1 286.0 L80.4 287.6 L80.7 288.9 L81.1 289.7 L81.4 289.8 L81.8 289.2 L82.1 288.1 L82.4 286.5 L82.8 284.7 L83.1 282.8 L83.5 280.9 L83.8 279.2 L84.1 277.6 L84.5 276.2 L84.8 274.9 L85.2 273.9 L85.5 273.0 L85.9 272.3 L86.2 271.8 L86.5 271.5 L86.9 271.4 L87.2 271.5 L87.6 272.0 L87.9 272.8 L88.2 273.9 L88.6 275.3 L88.9 277.0 L89.3 279.1 L89.6 281.6 L89.9 284.6 L90.3 288.2 L90.6 292.8 L91.0 298.6 L91.3 306.5 L91.6 318.1 L92.0 322.0 L92.3 322.0 L92.7 311.2 L93.0 302.9 L93.3 297.0 L93.7 292.7 L94.0 289.5 L94.4 286.9 L94.7 284.9 L95.0 283.4 L95.4 282.2 L95.7 281.4 L96.1 280.9 L96.4 280.7 L96.7 280.7 L97.1 281.0 L97.4 281.4 L97.8 281.9 L98.1 282.7 L98.5 283.7 L98.8 285.0 L99.1 286.5 L99.5 288.3 L99.8 290.4 L100.2 292.8 L100.5 295.5 L100.8 298.5 L101.2 301.7 L101.5 304.8 L101.9 307.4 L102.2 308.8 L102.5 308.5 L102.9 306.8 L103.2 304.3 L103.6 301.7 L103.9 299.1 L104.2 296.8 L104.6 294.8 L104.9 293.1 L105.3 291.6 L105.6 290.3 L105.9 289.3 L106.3 288.4 L106.6 287.7 L107.0 287.2 L107.3 286.9 L107.6 286.6 L108.0 286.6 L108.3 286.7 L108.7 286.9 L109.0 287.3 L109.4 287.8 L109.7 288.5 L110.0 289.4 L110.4 290.5 L110.7 291.8 L111.1 293.4 L111.4 295.3 L111.7 297.5 L112.1 300.0 L112.4 303.0 L112.8 306.4 L113.1 310.0 L113.4 313.2 L113.8 315.1 L114.1 314.5 L114.5 311.8 L114.8 308.1 L115.1 304.3 L115.5 300.8 L115.8 297.8 L116.2 295.1 L116.5 292.8 L116.8 290.9 L117.2 289.3 L117.5 288.0 L117.9 286.9 L118.2 286.1 L118.5 285.6 L118.9 285.2 L119.2 285.0 L119.6 285.1 L119.9 285.4 L120.2 286.0 L120.6 286.8 L120.9 287.9 L121.3 289.4 L121.6 291.2 L122.0 293.4 L122.3 296.2 L122.6 299.7 L123.0 304.2 L123.3 310.1 L123.7 318.4 L124.0 322.0 L124.3 322.0 L124.7 322.0 L125.0 317.5 L125.4 309.1 L125.7 303.1 L126.0 298.6 L126.4 294.9 L126.7 291.9 L127.1 289.5 L127.4 287.5 L127.7 285.8 L128.1 284.5 L128.4 283.4 L128.8 282.6 L129.1 282.0 L129.4 281.6 L129.8 281.4 L130.1 281.3 L130.5 281.3 L130.8 281.6 L131.1 282.1 L131.5 282.8 L131.8 283.7 L132.2 284.9 L132.5 286.4 L132.8 288.3 L133.2 290.6 L133.5 293.3 L133.9 296.5 L134.2 300.3 L134.6 304.3 L134.9 307.6 L135.2 308.6 L135.6 306.2 L135.9 301.9 L136.3 297.3 L136.6 292.9 L136.9 289.2 L137.3 285.9 L137.6 283.0 L138.0 280.5 L138.3 278.4 L138.6 276.6 L139.0 275.0 L139.3 273.7 L139.7 272.6 L140.0 271.9 L140.3 271.5 L140.7 271.3 L141.0 271.4 L141.4 271.6 L141.7 272.0 L142.0 272.7 L142.4 273.6 L142.7 274.8 L143.1 276.3 L143.4 278.1 L143.7 280.3 L144.1 283.0 L144.4 286.4 L144.8 290.6 L145.1 295.9 L145.4 303.0 L145.8 312.4 L146.1 320.1 L146.5 314.1 L146.8 304.3 L147.2 296.7 L147.5 291.0 L147.8 286.4 L148.2 282.7 L148.5 279.6 L148.9 276.8 L149.2 274.1 L149.5 271.1 L149.9 267.4 L150.2 262.9 L150.6 257.5 L150.9 251.5 L151.2 245.2 L151.6 239.5 L151.9 233.1 L152.3 227.1 L152.6 221.5 L152.9 216.4 L153.3 211.8 L153.6 207.5 L154.0 203.7 L154.3 200.4 L154.6 197.4 L155.0 194.9 L155.3 192.9 L155.7 191.3 L156.0 190.1 L156.3 189.4 L156.7 189.1 L157.0 189.2 L157.4 189.8 L157.7 190.8 L158.1 192.3 L158.4 194.1 L158.7 196.5 L159.1 199.2 L159.4 202.4 L159.8 206.1 L160.1 210.2 L160.4 214.7 L160.8 219.6 L161.1 225.0 L161.5 230.9 L161.8 237.1 L162.1 243.8 L162.5 249.4 L162.8 255.8 L163.2 261.7 L163.5 267.0 L163.8 271.2 L164.2 274.7 L164.5 277.5 L164.9 280.2 L165.2 282.8 L165.5 285.6 L165.9 288.8 L166.2 292.3 L166.6 296.1 L166.9 299.8 L167.2 302.5 L167.6 302.9 L167.9 300.9 L168.3 297.4 L168.6 293.7 L168.9 290.2 L169.3 287.1 L169.6 284.4 L170.0 282.1 L170.3 280.1 L170.7 278.4 L171.0 277.0 L171.3 275.7 L171.7 274.8 L172.0 274.0 L172.4 273.4 L172.7 273.0 L173.0 272.8 L173.4 272.8 L173.7 273.0 L174.1 273.6 L174.4 274.5 L174.7 275.5 L175.1 276.9 L175.4 278.5 L175.8 280.4 L176.1 282.6 L176.4 285.3 L176.8 288.5 L177.1 292.4 L177.5 297.3 L177.8 303.6 L178.1 312.4 L178.5 322.0 L178.8 322.0 L179.2 322.0 L179.5 315.1 L179.8 306.4 L180.2 300.5 L180.5 296.1 L180.9 292.8 L181.2 290.1 L181.5 288.1 L181.9 286.4 L182.2 285.1 L182.6 284.2 L182.9 283.5 L183.3 283.1 L183.6 282.9 L183.9 282.8 L184.3 282.8 L184.6 283.0 L185.0 283.5 L185.3 284.1 L185.6 284.9 L186.0 285.9 L186.3 287.1 L186.7 288.5 L187.0 290.1 L187.3 292.0 L187.7 294.0 L188.0 296.2 L188.4 298.5 L188.7 300.9 L189.0 303.2 L189.4 305.1 L189.7 306.3 L190.1 306.7 L190.4 306.1 L190.7 304.8 L191.1 303.0 L191.4 301.1 L191.8 299.2 L192.1 297.3 L192.4 295.6 L192.8 294.0 L193.1 292.6 L193.5 291.4 L193.8 290.2 L194.1 289.3 L194.5 288.4 L194.8 287.7 L195.2 287.1 L195.5 286.7 L195.9 286.3 L196.2 286.2 L196.5 286.1 L196.9 286.3 L197.2 286.6 L197.6 287.1 L197.9 287.8 L198.2 288.8 L198.6 290.0 L198.9 291.5 L199.3 293.4 L199.6 295.7 L199.9 298.5 L200.3 302.0 L200.6 306.4 L201.0 312.1 L201.3 319.5 L201.6 322.0 L202.0 322.0 L202.3 322.0 L202.7 315.1 L203.0 308.3 L203.3 303.0 L203.7 298.8 L204.0 295.4 L204.4 292.7 L204.7 290.4 L205.0 288.5 L205.4 287.0 L205.7 285.8 L206.1 284.9 L206.4 284.2 L206.8 283.8 L207.1 283.6 L207.4 283.6 L207.8 283.9 L208.1 284.4 L208.5 285.1 L208.8 286.0 L209.1 287.1 L209.5 288.5 L209.8 290.1 L210.2 292.0 L210.5 294.1 L210.8 296.4 L211.2 298.9 L211.5 301.3 L211.9 303.3 L212.2 304.6 L212.5 304.8 L212.9 303.9 L213.2 302.1 L213.6 300.0 L213.9 297.7 L214.2 295.5 L214.6 293.4 L214.9 291.6 L215.3 289.9 L215.6 288.4 L215.9 287.0 L216.3 285.8 L216.6 284.8 L217.0 283.8 L217.3 283.0 L217.6 282.3 L218.0 281.8 L218.3 281.3 L218.7 280.9 L219.0 280.7 L219.4 280.6 L219.7 280.6 L220.0 280.6 L220.4 280.7 L220.7 281.1 L221.1 281.6 L221.4 282.3 L221.7 283.4 L222.1 284.7 L222.4 286.3 L222.8 288.4 L223.1 290.9 L223.4 294.1 L223.8 297.8 L224.1 302.2 L224.5 306.4 L224.8 308.5 L225.1 306.5 L225.5 301.6 L225.8 296.3 L226.2 291.5 L226.5 287.4 L226.8 283.8 L227.2 280.8 L227.5 278.3 L227.9 276.1 L228.2 274.2 L228.5 272.7 L228.9 271.4 L229.2 270.4 L229.6 269.7 L229.9 269.4 L230.2 269.4 L230.6 269.6 L230.9 270.0 L231.3 270.6 L231.6 271.5 L232.0 272.6 L232.3 274.0 L232.6 275.7 L233.0 277.8 L233.3 280.2 L233.7 283.1 L234.0 286.5 L234.3 290.4 L234.7 295.0 L235.0 299.9 L235.4 303.7 L235.7 304.4 L236.0 301.3 L236.4 296.8 L236.7 292.3 L237.1 288.4 L237.4 285.0 L237.7 282.2 L238.1 279.6 L238.4 277.3 L238.8 274.9 L239.1 272.1 L239.4 268.7 L239.8 264.4 L240.1 259.1 L240.5 253.2 L240.8 247.0 L241.1 241.5 L241.5 235.1 L241.8 229.1 L242.2 223.5 L242.5 218.3 L242.8 213.6 L243.2 209.3 L243.5 205.4 L243.9 201.9 L244.2 198.8 L244.6 196.2 L244.9 193.9 L245.2 192.1 L245.6 190.7 L245.9 189.8 L246.3 189.2 L246.6 189.1 L246.9 189.4 L247.3 190.1 L247.6 191.2 L248.0 192.7 L248.3 194.7 L248.6 197.1 L249.0 199.9 L249.3 203.1 L249.7 206.7 L250.0 210.8 L250.3 215.3 L250.7 220.2 L251.0 225.5 L251.4 231.2 L251.7 237.4 L252.0 243.1 L252.4 249.5 L252.7 255.8 L253.1 261.9 L253.4 267.3 L253.7 272.0 L254.1 275.8 L254.4 279.1 L254.8 282.2 L255.1 285.5 L255.5 289.2 L255.8 293.7 L256.1 299.4 L256.5 307.3 L256.8 319.6 L257.2 322.0 L257.5 322.0 L257.8 313.7 L258.2 303.9 L258.5 297.3 L258.9 292.4 L259.2 288.5 L259.5 285.4 L259.9 282.9 L260.2 280.8 L260.6 279.1 L260.9 277.7 L261.2 276.6 L261.6 275.7 L261.9 275.0 L262.3 274.5 L262.6 274.2 L262.9 274.1 L263.3 274.2 L263.6 274.5 L264.0 275.2 L264.3 276.0 L264.6 277.1 L265.0 278.3 L265.3 279.8 L265.7 281.5 L266.0 283.4 L266.3 285.5 L266.7 288.0 L267.0 290.8 L267.4 294.0 L267.7 297.7 L268.1 301.9 L268.4 306.4 L268.7 310.9 L269.1 314.1 L269.4 314.2 L269.8 311.5 L270.1 307.6 L270.4 303.7 L270.8 300.3 L271.1 297.4 L271.5 294.8 L271.8 292.7 L272.1 291.0 L272.5 289.5 L272.8 288.2 L273.2 287.3 L273.5 286.5 L273.8 285.7 L274.2 285.1 L274.5 284.6 L274.9 284.4 L275.2 284.3 L275.5 284.3 L275.9 284.6 L276.2 285.0 L276.6 285.6 L276.9 286.5 L277.2 287.5 L277.6 288.7 L277.9 290.3 L278.3 292.1 L278.6 294.3 L278.9 297.0 L279.3 300.2 L279.6 304.1 L280.0 309.1 L280.3 315.8 L280.7 322.0 L281.0 322.0 L281.3 322.0 L281.7 322.0 L282.0 320.4 L282.4 312.5 L282.7 306.9 L283.0 302.5 L283.4 299.1 L283.7 296.3 L284.1 294.0 L284.4 292.2 L284.7 290.6 L285.1 289.3 L285.4 288.2 L285.8 287.4 L286.1 286.7 L286.4 286.3 L286.8 286.1 L287.1 286.0 L287.5 286.1 L287.8 286.3 L288.1 286.8 L288.5 287.4 L288.8 288.1 L289.2 289.1 L289.5 290.2 L289.8 291.5 L290.2 293.1 L290.5 294.8 L290.9 296.8 L291.2 299.1 L291.5 301.6 L291.9 304.4 L292.2 307.3 L292.6 310.2 L292.9 312.6 L293.3 313.8 L293.6 313.3 L293.9 311.2 L294.3 308.4 L294.6 305.3 L295.0 302.2 L295.3 299.4 L295.6 296.9 L296.0 294.6 L296.3 292.6 L296.7 290.8 L297.0 289.2 L297.3 287.8 L297.7 286.6 L298.0 285.6 L298.4 284.8 L298.7 284.1 L299.0 283.7 L299.4 283.4 L299.7 283.3 L300.1 283.3 L300.4 283.6 L300.7 284.0 L301.1 284.7 L301.4 285.6 L301.8 286.8 L302.1 288.3 L302.4 290.1 L302.8 292.3 L303.1 295.1 L303.5 298.5 L303.8 302.9 L304.2 308.6 L304.5 316.6 L304.8 322.0 L305.2 322.0 L305.5 322.0 L305.9 315.8 L306.2 307.7 L306.5 301.7 L306.9 297.2 L307.2 293.5 L307.6 290.6 L307.9 288.1 L308.2 286.1 L308.6 284.4 L308.9 283.0 L309.3 281.9 L309.6 281.0 L309.9 280.3 L310.3 279.9 L310.6 279.5 L311.0 279.4 L311.3 279.4 L311.6 279.6 L312.0 279.9 L312.3 280.3 L312.7 280.8 L313.0 281.5 L313.3 282.1 L313.7 282.8 L314.0 283.5 L314.4 284.4 L314.7 285.4 L315.0 286.4 L315.4 287.6 L315.7 288.9 L316.1 290.2 L316.4 291.5 L316.8 292.8 L317.1 293.9 L317.4 294.6 L317.8 294.8 L318.1 294.2 L318.5 292.9 L318.8 291.1 L319.1 288.9 L319.5 286.5 L319.8 284.1 L320.2 281.7 L320.5 279.5 L320.8 277.5 L321.2 275.7 L321.5 274.0 L321.9 272.6 L322.2 271.3 L322.5 270.3 L322.9 269.4 L323.2 268.9 L323.6 268.8 L323.9 268.8 L324.2 269.1 L324.6 269.6 L324.9 270.3 L325.3 271.3 L325.6 272.5 L325.9 274.1 L326.3 276.0 L326.6 278.4 L327.0 281.2 L327.3 284.7 L327.6 288.9 L328.0 294.2 L328.3 300.8 L328.7 308.2 L329.0 312.4 L329.4 308.3 L329.7 301.1 L330.0 294.9 L330.4 290.0 L330.7 286.0 L331.1 282.8 L331.4 280.0 L331.7 277.6 L332.1 275.2 L332.4 272.5 L332.8 269.2 L333.1 265.0 L333.4 260.0 L333.8 254.2 L334.1 248.1 L334.5 242.0 L334.8 236.4 L335.1 230.4 L335.5 224.9 L335.8 219.7 L336.2 214.9 L336.5 210.6 L336.8 206.6 L337.2 203.1 L337.5 199.9 L337.9 197.2 L338.2 194.8 L338.5 192.9 L338.9 191.3 L339.2 190.2 L339.6 189.4 L339.9 189.1 L340.2 189.1 L340.6 189.6 L340.9 190.5 L341.3 191.7 L341.6 193.4 L342.0 195.4 L342.3 197.9 L342.6 200.8 L343.0 204.0 L343.3 207.7 L343.7 211.7 L344.0 216.2 L344.3 221.1 L344.7 226.3 L345.0 232.0 L345.4 238.1 L345.7 243.8 L346.0 250.2 L346.4 256.5 L346.7 262.6 L347.1 268.1 L347.4 272.9 L347.7 276.8 L348.1 280.0 L348.4 283.0 L348.8 285.9 L349.1 289.2 L349.4 292.9 L349.8 297.5 L350.1 303.1 L350.5 309.9 L350.8 316.4 L351.1 316.8 L351.5 310.6 L351.8 303.6 L352.2 297.9 L352.5 293.2 L352.9 289.5 L353.2 286.4 L353.5 283.8 L353.9 281.7 L354.2 279.9 L354.6 278.5 L354.9 277.3 L355.2 276.4 L355.6 275.6 L355.9 275.1 L356.3 274.8 L356.6 274.7 L356.9 274.7 L357.3 275.1 L357.6 275.8 L358.0 276.6 L358.3 277.7 L358.6 278.8 L359.0 280.2 L359.3 281.8 L359.7 283.5 L360.0 285.5 L360.3 287.7 L360.7 290.1 L361.0 292.8 L361.4 295.8 L361.7 299.0 L362.0 302.4 L362.4 305.7 L362.7 308.4 L363.1 309.8 L363.4 309.4 L363.7 307.6 L364.1 305.0 L364.4 302.3 L364.8 299.6 L365.1 297.2 L365.5 295.0 L365.8 293.2 L366.1 291.5 L366.5 290.1 L366.8 288.9 L367.2 287.8 L367.5 286.7 L367.8 285.9 L368.2 285.2 L368.5 284.6 L368.9 284.2 L369.2 284.0 L369.5 283.9 L369.9 284.0 L370.2 284.2 L370.6 284.6 L370.9 285.2 L371.2 286.0 L371.6 287.0 L371.9 288.2 L372.3 289.6 L372.6 291.4"/>
</g>
<rect x="60.0" y="181.4" width="309.6" height="127.79999999999998" fill="none" stroke="#555" stroke-width="1"/>
<path d="M60.00 181.4 v2.6 M60.00 309.2 v-2.6 M121.92 181.4 v2.6 M121.92 309.2 v-2.6 M183.84 181.4 v2.6 M183.84 309.2 v-2.6 M245.76 181.4 v2.6 M245.76 309.2 v-2.6 M307.68 181.4 v2.6 M307.68 309.2 v-2.6 M369.60 181.4 v2.6 M369.60 309.2 v-2.6 M60.0 181.40 h2.6 M369.6 181.40 h-2.6 M60.0 206.96 h2.6 M369.6 206.96 h-2.6 M60.0 232.52 h2.6 M369.6 232.52 h-2.6 M60.0 258.08 h2.6 M369.6 258.08 h-2.6 M60.0 283.64 h2.6 M369.6 283.64 h-2.6" stroke="#000" stroke-width="0.5" fill="none"/>
<g font-family="'DejaVu Sans', 'Liberation Sans', sans-serif" font-weight="bold" font-size="12.1" fill="#000">
<text x="59.4" y="323.7" text-anchor="middle">1520</text>
<text x="121.3" y="323.7" text-anchor="middle">1540</text>
<text x="183.2" y="323.7" text-anchor="middle">1560</text>
<text x="245.2" y="323.7" text-anchor="middle">1580</text>
<text x="307.1" y="323.7" text-anchor="middle">1600</text>
<text x="369.0" y="323.7" text-anchor="middle">1620</text>
<text x="54.5" y="185.8" text-anchor="end">0</text>
<text x="54.5" y="211.4" text-anchor="end">−10</text>
<text x="54.5" y="236.9" text-anchor="end">−20</text>
<text x="54.5" y="262.5" text-anchor="end">−30</text>
<text x="54.5" y="288.0" text-anchor="end">−40</text>
</g>
<g font-family="'DejaVu Sans', 'Liberation Sans', sans-serif" font-weight="bold" fill="#000">
<text x="214.6" y="348.3" font-size="14.9" text-anchor="middle">Wavelength (nm)</text>
<text transform="translate(13.5 149) rotate(-90)" font-size="14.9" text-anchor="middle">Insertion Loss (dB)</text>
</g>
<g font-family="'Liberation Sans', Arial, Helvetica, sans-serif" font-weight="bold" font-size="20" fill="#111" stroke="#111" stroke-width="0.35">
<text x="214.6" y="167.4" text-anchor="middle">(a)</text>
<text x="214.8" y="377.4" text-anchor="middle">(b)</text>
</g>
</svg>
</body></html>
